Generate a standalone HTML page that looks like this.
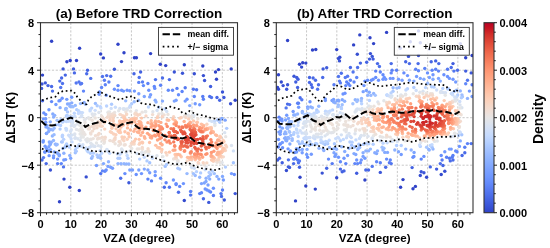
<!DOCTYPE html>
<html><head><meta charset="utf-8"><style>
html,body{margin:0;padding:0;background:#fff;width:550px;height:248px;overflow:hidden}
svg{display:block;filter:blur(0.45px)}
text{font-family:"Liberation Sans", sans-serif;font-weight:bold;fill:#000}
.tl{font-size:11px}
.al{font-size:11.6px}
.yl{font-size:12px}
.dl{font-size:13.9px}
.ti{font-size:13.5px}
.lg{font-size:8.8px}
.grid{stroke:#b0b0b0;stroke-width:0.7;stroke-dasharray:2.2,1.6;fill:none}
.spine{stroke:#333;stroke-width:1.1;fill:none}
.tick{stroke:#222;stroke-width:1.0}
.mean{stroke:#000;stroke-width:2.0;stroke-dasharray:6.8,2.9;fill:none}
.sig{stroke:#000;stroke-width:1.7;stroke-dasharray:1.7,2.7;fill:none;stroke-linecap:butt}
.lmean{stroke:#000;stroke-width:2.0;stroke-dasharray:7.4,2.9;fill:none}
.lsig{stroke:#000;stroke-width:1.7;stroke-dasharray:1.7,3.07;fill:none}
.leg{fill:#fff;fill-opacity:0.8;stroke:#333;stroke-width:0.9}
</style></head>
<body><svg width="550" height="248" viewBox="0 0 550 248">
<rect width="550" height="248" fill="#fff"/>
<line x1="70.81" y1="22.7" x2="70.81" y2="212.7" class="grid"/>
<line x1="101.12" y1="22.7" x2="101.12" y2="212.7" class="grid"/>
<line x1="131.42" y1="22.7" x2="131.42" y2="212.7" class="grid"/>
<line x1="161.73" y1="22.7" x2="161.73" y2="212.7" class="grid"/>
<line x1="192.04" y1="22.7" x2="192.04" y2="212.7" class="grid"/>
<line x1="222.35" y1="22.7" x2="222.35" y2="212.7" class="grid"/>
<line x1="40.5" y1="70.20" x2="237.5" y2="70.20" class="grid"/>
<line x1="40.5" y1="117.70" x2="237.5" y2="117.70" class="grid"/>
<line x1="40.5" y1="165.20" x2="237.5" y2="165.20" class="grid"/>
<clipPath id="c40"><rect x="40.5" y="22.7" width="197.0" height="190.0"/></clipPath><g clip-path="url(#c40)">
<circle cx="59.50" cy="201.80" r="1.7" fill="#3043c8"/>
<circle cx="51.60" cy="41.30" r="1.7" fill="#3043c8"/>
<circle cx="79.30" cy="190.51" r="1.7" fill="#3043c8"/>
<circle cx="118.00" cy="44.21" r="1.7" fill="#3043c8"/>
<circle cx="231.20" cy="68.91" r="1.7" fill="#3043c8"/>
<circle cx="69.80" cy="187.30" r="1.7" fill="#3043c8"/>
<circle cx="79.60" cy="48.20" r="1.7" fill="#3043c8"/>
<circle cx="150.60" cy="53.60" r="1.7" fill="#3043c8"/>
<circle cx="218.50" cy="69.59" r="1.7" fill="#3043c8"/>
<circle cx="124.00" cy="52.70" r="1.7" fill="#3043c8"/>
<circle cx="100.70" cy="54.00" r="1.7" fill="#3043c8"/>
<circle cx="202.80" cy="66.00" r="1.7" fill="#3043c8"/>
<circle cx="64.00" cy="179.11" r="1.7" fill="#3043c8"/>
<circle cx="215.50" cy="72.00" r="1.7" fill="#3043c8"/>
<circle cx="184.30" cy="64.70" r="1.7" fill="#3043c8"/>
<circle cx="136.40" cy="57.80" r="1.7" fill="#3043c8"/>
<circle cx="103.40" cy="57.90" r="1.7" fill="#3043c8"/>
<circle cx="134.40" cy="57.80" r="1.7" fill="#3043c8"/>
<circle cx="235.20" cy="100.20" r="1.7" fill="#3043c8"/>
<circle cx="70.20" cy="60.50" r="1.7" fill="#3043c8"/>
<circle cx="160.30" cy="64.20" r="1.7" fill="#3043c8"/>
<circle cx="66.90" cy="61.80" r="1.7" fill="#3043c8"/>
<circle cx="76.50" cy="60.50" r="1.7" fill="#3043c8"/>
<circle cx="165.70" cy="65.60" r="1.7" fill="#3043c8"/>
<circle cx="121.50" cy="61.60" r="1.7" fill="#3043c8"/>
<circle cx="216.50" cy="79.30" r="1.7" fill="#3043c8"/>
<circle cx="42.50" cy="75.10" r="1.7" fill="#3045ca"/>
<circle cx="184.30" cy="200.50" r="1.7" fill="#334ace"/>
<circle cx="203.40" cy="75.60" r="1.7" fill="#374fd1"/>
<circle cx="86.20" cy="176.90" r="1.7" fill="#374fd1"/>
<circle cx="194.30" cy="73.80" r="1.7" fill="#3850d3"/>
<circle cx="230.60" cy="103.79" r="1.7" fill="#3850d3"/>
<circle cx="50.40" cy="170.00" r="1.7" fill="#3850d3"/>
<circle cx="174.30" cy="72.00" r="1.7" fill="#3a54d6"/>
<circle cx="222.50" cy="92.00" r="1.7" fill="#3a54d6"/>
<circle cx="182.50" cy="73.30" r="1.7" fill="#3a54d6"/>
<circle cx="63.10" cy="68.91" r="1.7" fill="#3b56d7"/>
<circle cx="42.00" cy="84.00" r="1.7" fill="#3b56d7"/>
<circle cx="235.20" cy="193.60" r="1.7" fill="#3d57d9"/>
<circle cx="204.60" cy="80.50" r="1.7" fill="#3d57d9"/>
<circle cx="208.80" cy="202.40" r="1.7" fill="#3e59da"/>
<circle cx="41.60" cy="88.40" r="1.7" fill="#3e59da"/>
<circle cx="223.90" cy="97.50" r="1.7" fill="#3e59da"/>
<circle cx="114.40" cy="69.30" r="1.7" fill="#3e59da"/>
<circle cx="45.30" cy="82.89" r="1.7" fill="#3f5bdb"/>
<circle cx="224.30" cy="200.01" r="1.7" fill="#3f5bdb"/>
<circle cx="128.90" cy="182.70" r="1.7" fill="#3f5bdb"/>
<circle cx="73.50" cy="68.91" r="1.7" fill="#405cde"/>
<circle cx="210.60" cy="86.50" r="1.7" fill="#415edf"/>
<circle cx="140.60" cy="72.00" r="1.7" fill="#4361e1"/>
<circle cx="87.50" cy="70.20" r="1.7" fill="#4462e2"/>
<circle cx="48.00" cy="85.60" r="1.7" fill="#4462e2"/>
<circle cx="65.30" cy="75.10" r="1.7" fill="#4666e4"/>
<circle cx="219.70" cy="100.20" r="1.7" fill="#4666e4"/>
<circle cx="134.00" cy="73.80" r="1.7" fill="#4666e4"/>
<circle cx="74.40" cy="72.90" r="1.7" fill="#4867e6"/>
<circle cx="217.00" cy="97.50" r="1.7" fill="#4867e6"/>
<circle cx="61.60" cy="78.00" r="1.7" fill="#4867e6"/>
<circle cx="46.20" cy="163.60" r="1.7" fill="#4969e7"/>
<circle cx="51.60" cy="86.50" r="1.7" fill="#4969e7"/>
<circle cx="59.80" cy="81.10" r="1.7" fill="#4a6be8"/>
<circle cx="203.40" cy="198.70" r="1.7" fill="#4a6be8"/>
<circle cx="86.70" cy="73.80" r="1.7" fill="#4b6ce9"/>
<circle cx="162.50" cy="78.00" r="1.7" fill="#4b6ce9"/>
<circle cx="42.52" cy="100.85" r="1.7" fill="#4b6ce9"/>
<circle cx="164.30" cy="187.30" r="1.7" fill="#4b6ce9"/>
<circle cx="169.40" cy="79.60" r="1.7" fill="#4b6ce9"/>
<circle cx="178.50" cy="192.20" r="1.7" fill="#4b6ce9"/>
<circle cx="221.50" cy="196.40" r="1.7" fill="#4b6ce9"/>
<circle cx="42.00" cy="160.00" r="1.7" fill="#4d6eea"/>
<circle cx="120.70" cy="178.20" r="1.7" fill="#4d6eea"/>
<circle cx="106.70" cy="75.60" r="1.7" fill="#4d6eea"/>
<circle cx="110.70" cy="76.20" r="1.7" fill="#4e71ec"/>
<circle cx="62.50" cy="83.50" r="1.7" fill="#4e71ec"/>
<circle cx="211.50" cy="97.50" r="1.7" fill="#4f72ed"/>
<circle cx="52.50" cy="91.10" r="1.7" fill="#4f72ed"/>
<circle cx="102.50" cy="76.51" r="1.7" fill="#4f72ed"/>
<circle cx="190.60" cy="195.10" r="1.7" fill="#4f72ed"/>
<circle cx="139.20" cy="77.50" r="1.7" fill="#4f72ed"/>
<circle cx="209.70" cy="96.50" r="1.7" fill="#4f72ed"/>
<circle cx="100.70" cy="173.60" r="1.7" fill="#4f72ed"/>
<circle cx="155.50" cy="79.60" r="1.7" fill="#5074ee"/>
<circle cx="169.40" cy="187.30" r="1.7" fill="#5074ee"/>
<circle cx="63.50" cy="166.90" r="1.7" fill="#5276ef"/>
<circle cx="196.60" cy="89.81" r="1.7" fill="#5276ef"/>
<circle cx="90.70" cy="78.41" r="1.7" fill="#5276ef"/>
<circle cx="60.70" cy="87.50" r="1.7" fill="#5276ef"/>
<circle cx="193.40" cy="89.29" r="1.7" fill="#5477f0"/>
<circle cx="79.00" cy="82.00" r="1.7" fill="#5477f0"/>
<circle cx="76.20" cy="83.00" r="1.7" fill="#5477f0"/>
<circle cx="221.00" cy="193.60" r="1.7" fill="#5579f1"/>
<circle cx="185.20" cy="87.80" r="1.7" fill="#5579f1"/>
<circle cx="81.60" cy="83.50" r="1.7" fill="#577af2"/>
<circle cx="213.40" cy="195.50" r="1.7" fill="#577af2"/>
<circle cx="80.50" cy="84.00" r="1.7" fill="#577af2"/>
<circle cx="104.40" cy="80.20" r="1.7" fill="#577af2"/>
<circle cx="151.50" cy="180.90" r="1.7" fill="#577af2"/>
<circle cx="43.50" cy="157.60" r="1.7" fill="#587cf3"/>
<circle cx="202.80" cy="96.50" r="1.7" fill="#587cf3"/>
<circle cx="108.90" cy="82.00" r="1.7" fill="#5a80f5"/>
<circle cx="142.50" cy="82.00" r="1.7" fill="#5a80f5"/>
<circle cx="57.60" cy="163.60" r="1.7" fill="#5a80f5"/>
<circle cx="177.00" cy="88.40" r="1.7" fill="#5a80f5"/>
<circle cx="222.50" cy="190.00" r="1.7" fill="#5a80f5"/>
<circle cx="147.90" cy="179.11" r="1.7" fill="#5c82f6"/>
<circle cx="138.80" cy="82.40" r="1.7" fill="#5c82f6"/>
<circle cx="199.70" cy="193.60" r="1.7" fill="#5c82f6"/>
<circle cx="203.40" cy="99.31" r="1.7" fill="#5c82f6"/>
<circle cx="190.60" cy="191.50" r="1.7" fill="#5c82f6"/>
<circle cx="160.60" cy="85.30" r="1.7" fill="#5c82f6"/>
<circle cx="166.10" cy="182.70" r="1.7" fill="#5d83f8"/>
<circle cx="147.90" cy="83.50" r="1.7" fill="#5d83f8"/>
<circle cx="105.30" cy="84.70" r="1.7" fill="#5d83f8"/>
<circle cx="182.10" cy="91.50" r="1.7" fill="#5e85f9"/>
<circle cx="61.30" cy="163.60" r="1.7" fill="#5e85f9"/>
<circle cx="102.50" cy="170.90" r="1.7" fill="#5e85f9"/>
<circle cx="104.90" cy="171.30" r="1.7" fill="#6086f9"/>
<circle cx="194.30" cy="96.50" r="1.7" fill="#6086f9"/>
<circle cx="201.50" cy="192.70" r="1.7" fill="#6086f9"/>
<circle cx="179.70" cy="186.40" r="1.7" fill="#6086f9"/>
<circle cx="101.60" cy="87.50" r="1.7" fill="#6086f9"/>
<circle cx="83.50" cy="91.10" r="1.7" fill="#6086f9"/>
<circle cx="172.50" cy="90.20" r="1.7" fill="#6188fa"/>
<circle cx="154.30" cy="86.50" r="1.7" fill="#6188fa"/>
<circle cx="176.10" cy="184.50" r="1.7" fill="#6188fa"/>
<circle cx="51.57" cy="101.59" r="1.7" fill="#6188fa"/>
<circle cx="210.60" cy="192.00" r="1.7" fill="#6188fa"/>
<circle cx="118.00" cy="85.60" r="1.7" fill="#6188fa"/>
<circle cx="143.40" cy="85.60" r="1.7" fill="#628bfb"/>
<circle cx="168.30" cy="90.20" r="1.7" fill="#628bfb"/>
<circle cx="176.10" cy="183.59" r="1.7" fill="#658cfc"/>
<circle cx="43.81" cy="112.89" r="1.7" fill="#668efd"/>
<circle cx="154.80" cy="88.40" r="1.7" fill="#668efd"/>
<circle cx="209.00" cy="191.00" r="1.7" fill="#668efd"/>
<circle cx="124.90" cy="173.60" r="1.7" fill="#668efd"/>
<circle cx="160.60" cy="178.20" r="1.7" fill="#678ffd"/>
<circle cx="178.50" cy="94.70" r="1.7" fill="#678ffd"/>
<circle cx="106.20" cy="170.00" r="1.7" fill="#678ffd"/>
<circle cx="99.60" cy="91.85" r="1.7" fill="#678ffd"/>
<circle cx="136.20" cy="174.50" r="1.7" fill="#6991fe"/>
<circle cx="114.40" cy="89.29" r="1.7" fill="#6991fe"/>
<circle cx="207.00" cy="190.00" r="1.7" fill="#6a92ff"/>
<circle cx="44.67" cy="152.01" r="1.7" fill="#6a92ff"/>
<circle cx="234.30" cy="174.50" r="1.7" fill="#6a92ff"/>
<circle cx="45.12" cy="152.09" r="1.7" fill="#6a92ff"/>
<circle cx="62.16" cy="98.21" r="1.7" fill="#6a92ff"/>
<circle cx="49.14" cy="155.65" r="1.7" fill="#6c93ff"/>
<circle cx="213.40" cy="188.20" r="1.7" fill="#6c93ff"/>
<circle cx="148.80" cy="90.20" r="1.7" fill="#6c93ff"/>
<circle cx="118.00" cy="90.20" r="1.7" fill="#6c93ff"/>
<circle cx="53.54" cy="157.83" r="1.7" fill="#6d95ff"/>
<circle cx="173.40" cy="180.00" r="1.7" fill="#6d95ff"/>
<circle cx="205.20" cy="189.00" r="1.7" fill="#6d95ff"/>
<circle cx="183.40" cy="183.59" r="1.7" fill="#6d95ff"/>
<circle cx="155.20" cy="175.50" r="1.7" fill="#6d95ff"/>
<circle cx="121.60" cy="90.20" r="1.7" fill="#6d95ff"/>
<circle cx="43.44" cy="118.86" r="1.7" fill="#6d95ff"/>
<circle cx="187.00" cy="99.31" r="1.7" fill="#6d95ff"/>
<circle cx="57.60" cy="159.10" r="1.7" fill="#6e95ff"/>
<circle cx="127.10" cy="90.20" r="1.7" fill="#6e95ff"/>
<circle cx="141.50" cy="173.60" r="1.7" fill="#6e95ff"/>
<circle cx="58.97" cy="100.91" r="1.7" fill="#6e95ff"/>
<circle cx="45.74" cy="114.48" r="1.7" fill="#6e95ff"/>
<circle cx="99.14" cy="94.25" r="1.7" fill="#6e95ff"/>
<circle cx="60.07" cy="100.45" r="1.7" fill="#6e95ff"/>
<circle cx="48.97" cy="109.70" r="1.7" fill="#6f97ff"/>
<circle cx="129.80" cy="90.70" r="1.7" fill="#6f97ff"/>
<circle cx="71.72" cy="97.30" r="1.7" fill="#6f97ff"/>
<circle cx="123.50" cy="91.10" r="1.7" fill="#6f97ff"/>
<circle cx="134.40" cy="91.10" r="1.7" fill="#7098ff"/>
<circle cx="43.09" cy="142.03" r="1.7" fill="#7098ff"/>
<circle cx="199.70" cy="104.70" r="1.7" fill="#719aff"/>
<circle cx="63.80" cy="160.00" r="1.7" fill="#719aff"/>
<circle cx="43.33" cy="140.82" r="1.7" fill="#719aff"/>
<circle cx="53.61" cy="155.87" r="1.7" fill="#739bff"/>
<circle cx="66.80" cy="99.35" r="1.7" fill="#739bff"/>
<circle cx="223.40" cy="180.00" r="1.7" fill="#739bff"/>
<circle cx="96.50" cy="165.50" r="1.7" fill="#739bff"/>
<circle cx="55.92" cy="104.57" r="1.7" fill="#739bff"/>
<circle cx="45.11" cy="146.14" r="1.7" fill="#749bff"/>
<circle cx="195.20" cy="103.79" r="1.7" fill="#749bff"/>
<circle cx="45.69" cy="118.82" r="1.7" fill="#749bff"/>
<circle cx="149.70" cy="172.70" r="1.7" fill="#749bff"/>
<circle cx="47.11" cy="149.57" r="1.7" fill="#749bff"/>
<circle cx="46.20" cy="148.08" r="1.7" fill="#749bff"/>
<circle cx="185.20" cy="101.10" r="1.7" fill="#749bff"/>
<circle cx="65.60" cy="159.59" r="1.7" fill="#749bff"/>
<circle cx="48.91" cy="151.54" r="1.7" fill="#749bff"/>
<circle cx="106.24" cy="95.32" r="1.7" fill="#769dff"/>
<circle cx="150.60" cy="94.70" r="1.7" fill="#769dff"/>
<circle cx="112.50" cy="168.20" r="1.7" fill="#769dff"/>
<circle cx="231.50" cy="173.60" r="1.7" fill="#769dff"/>
<circle cx="138.80" cy="93.80" r="1.7" fill="#779eff"/>
<circle cx="208.00" cy="185.00" r="1.7" fill="#779eff"/>
<circle cx="45.68" cy="122.18" r="1.7" fill="#779eff"/>
<circle cx="176.10" cy="100.20" r="1.7" fill="#78a0ff"/>
<circle cx="110.70" cy="167.30" r="1.7" fill="#78a0ff"/>
<circle cx="129.80" cy="170.00" r="1.7" fill="#78a0ff"/>
<circle cx="132.50" cy="170.00" r="1.7" fill="#79a0ff"/>
<circle cx="155.20" cy="171.80" r="1.7" fill="#79a0ff"/>
<circle cx="108.00" cy="166.40" r="1.7" fill="#79a0ff"/>
<circle cx="201.50" cy="183.59" r="1.7" fill="#7ba2ff"/>
<circle cx="45.98" cy="126.88" r="1.7" fill="#7ba2ff"/>
<circle cx="138.80" cy="170.00" r="1.7" fill="#7ba2ff"/>
<circle cx="59.21" cy="155.78" r="1.7" fill="#7ca3ff"/>
<circle cx="50.52" cy="149.60" r="1.7" fill="#7ca3ff"/>
<circle cx="149.70" cy="96.89" r="1.7" fill="#7ca3ff"/>
<circle cx="174.30" cy="101.10" r="1.7" fill="#7ca3ff"/>
<circle cx="225.14" cy="120.17" r="1.7" fill="#7da4ff"/>
<circle cx="48.85" cy="146.78" r="1.7" fill="#7da4ff"/>
<circle cx="204.30" cy="183.00" r="1.7" fill="#7da4ff"/>
<circle cx="46.43" cy="133.58" r="1.7" fill="#7da4ff"/>
<circle cx="144.30" cy="96.50" r="1.7" fill="#7da4ff"/>
<circle cx="46.91" cy="125.35" r="1.7" fill="#7da4ff"/>
<circle cx="147.90" cy="170.00" r="1.7" fill="#7da4ff"/>
<circle cx="46.65" cy="133.21" r="1.7" fill="#7ea5ff"/>
<circle cx="218.80" cy="179.11" r="1.7" fill="#7ea5ff"/>
<circle cx="54.14" cy="151.90" r="1.7" fill="#7ea5ff"/>
<circle cx="70.70" cy="158.21" r="1.7" fill="#7ea5ff"/>
<circle cx="59.46" cy="154.88" r="1.7" fill="#7ea5ff"/>
<circle cx="144.30" cy="169.09" r="1.7" fill="#81a6ff"/>
<circle cx="221.99" cy="118.55" r="1.7" fill="#81a8ff"/>
<circle cx="58.13" cy="153.68" r="1.7" fill="#81a8ff"/>
<circle cx="222.50" cy="176.40" r="1.7" fill="#81a8ff"/>
<circle cx="206.00" cy="181.50" r="1.7" fill="#81a8ff"/>
<circle cx="56.79" cy="152.74" r="1.7" fill="#81a8ff"/>
<circle cx="103.50" cy="163.60" r="1.7" fill="#82a9ff"/>
<circle cx="52.82" cy="113.97" r="1.7" fill="#82a9ff"/>
<circle cx="48.28" cy="128.19" r="1.7" fill="#82a9ff"/>
<circle cx="49.33" cy="142.07" r="1.7" fill="#84aaff"/>
<circle cx="50.20" cy="144.50" r="1.7" fill="#84aaff"/>
<circle cx="189.70" cy="105.60" r="1.7" fill="#84aaff"/>
<circle cx="50.31" cy="143.60" r="1.7" fill="#86abff"/>
<circle cx="48.66" cy="131.38" r="1.7" fill="#86abff"/>
<circle cx="71.75" cy="102.84" r="1.7" fill="#86abff"/>
<circle cx="162.50" cy="101.10" r="1.7" fill="#86abff"/>
<circle cx="60.12" cy="107.67" r="1.7" fill="#86abff"/>
<circle cx="67.53" cy="104.06" r="1.7" fill="#86abff"/>
<circle cx="155.20" cy="100.20" r="1.7" fill="#86abff"/>
<circle cx="50.28" cy="121.87" r="1.7" fill="#88adff"/>
<circle cx="69.36" cy="104.01" r="1.7" fill="#88adff"/>
<circle cx="51.17" cy="142.25" r="1.7" fill="#89aeff"/>
<circle cx="209.70" cy="179.11" r="1.7" fill="#89afff"/>
<circle cx="69.80" cy="155.50" r="1.7" fill="#8cb0ff"/>
<circle cx="53.57" cy="117.08" r="1.7" fill="#8cb0ff"/>
<circle cx="54.66" cy="115.37" r="1.7" fill="#8cb0ff"/>
<circle cx="84.19" cy="102.37" r="1.7" fill="#8cb0ff"/>
<circle cx="220.73" cy="119.34" r="1.7" fill="#8cb0ff"/>
<circle cx="63.85" cy="153.23" r="1.7" fill="#8db1ff"/>
<circle cx="217.00" cy="176.40" r="1.7" fill="#8db1ff"/>
<circle cx="50.90" cy="129.47" r="1.7" fill="#8db1ff"/>
<circle cx="118.00" cy="163.60" r="1.7" fill="#8eb2ff"/>
<circle cx="156.10" cy="102.00" r="1.7" fill="#8eb2ff"/>
<circle cx="206.10" cy="178.20" r="1.7" fill="#8eb2ff"/>
<circle cx="121.00" cy="163.80" r="1.7" fill="#90b4ff"/>
<circle cx="108.50" cy="161.80" r="1.7" fill="#90b4ff"/>
<circle cx="80.56" cy="103.60" r="1.7" fill="#91b5ff"/>
<circle cx="138.56" cy="100.23" r="1.7" fill="#91b5ff"/>
<circle cx="124.00" cy="163.80" r="1.7" fill="#91b5ff"/>
<circle cx="126.50" cy="164.00" r="1.7" fill="#91b5ff"/>
<circle cx="52.34" cy="136.02" r="1.7" fill="#91b5ff"/>
<circle cx="53.45" cy="140.43" r="1.7" fill="#91b5ff"/>
<circle cx="128.90" cy="164.00" r="1.7" fill="#93b6ff"/>
<circle cx="199.70" cy="177.30" r="1.7" fill="#93b6ff"/>
<circle cx="70.00" cy="106.19" r="1.7" fill="#93b6ff"/>
<circle cx="55.26" cy="144.09" r="1.7" fill="#93b6ff"/>
<circle cx="91.60" cy="158.21" r="1.7" fill="#93b6ff"/>
<circle cx="56.27" cy="144.96" r="1.7" fill="#94b7ff"/>
<circle cx="55.88" cy="144.30" r="1.7" fill="#94b7ff"/>
<circle cx="52.75" cy="130.10" r="1.7" fill="#94b7ff"/>
<circle cx="66.17" cy="108.33" r="1.7" fill="#94b7ff"/>
<circle cx="75.31" cy="105.40" r="1.7" fill="#95b9ff"/>
<circle cx="65.79" cy="108.77" r="1.7" fill="#95b9ff"/>
<circle cx="71.29" cy="106.64" r="1.7" fill="#95b9ff"/>
<circle cx="208.80" cy="176.40" r="1.7" fill="#98baff"/>
<circle cx="72.09" cy="106.50" r="1.7" fill="#98baff"/>
<circle cx="85.43" cy="104.16" r="1.7" fill="#98baff"/>
<circle cx="57.15" cy="144.38" r="1.7" fill="#98baff"/>
<circle cx="187.00" cy="173.60" r="1.7" fill="#98baff"/>
<circle cx="125.68" cy="100.87" r="1.7" fill="#98baff"/>
<circle cx="195.20" cy="175.50" r="1.7" fill="#98baff"/>
<circle cx="54.06" cy="134.67" r="1.7" fill="#99bbff"/>
<circle cx="54.09" cy="128.20" r="1.7" fill="#99bbff"/>
<circle cx="65.75" cy="109.64" r="1.7" fill="#99bbff"/>
<circle cx="95.40" cy="103.41" r="1.7" fill="#99bbff"/>
<circle cx="73.08" cy="106.86" r="1.7" fill="#9bbdff"/>
<circle cx="62.94" cy="148.54" r="1.7" fill="#9dbeff"/>
<circle cx="100.70" cy="158.21" r="1.7" fill="#9dbeff"/>
<circle cx="134.27" cy="101.79" r="1.7" fill="#9dbeff"/>
<circle cx="55.55" cy="124.91" r="1.7" fill="#9ebfff"/>
<circle cx="57.09" cy="120.37" r="1.7" fill="#9ebfff"/>
<circle cx="92.50" cy="156.40" r="1.7" fill="#9ebfff"/>
<circle cx="98.00" cy="157.30" r="1.7" fill="#9fc0ff"/>
<circle cx="165.20" cy="166.40" r="1.7" fill="#9fc0ff"/>
<circle cx="75.30" cy="152.70" r="1.7" fill="#9fc0ff"/>
<circle cx="210.60" cy="174.50" r="1.7" fill="#a2c2ff"/>
<circle cx="217.73" cy="119.99" r="1.7" fill="#a2c2ff"/>
<circle cx="214.30" cy="173.60" r="1.7" fill="#a2c2ff"/>
<circle cx="193.40" cy="173.60" r="1.7" fill="#a2c2ff"/>
<circle cx="65.02" cy="147.30" r="1.7" fill="#a4c4ff"/>
<circle cx="149.70" cy="162.69" r="1.7" fill="#a4c4ff"/>
<circle cx="233.40" cy="162.69" r="1.7" fill="#a4c4ff"/>
<circle cx="67.56" cy="111.89" r="1.7" fill="#a8c6ff"/>
<circle cx="76.20" cy="151.29" r="1.7" fill="#a8c6ff"/>
<circle cx="179.70" cy="169.09" r="1.7" fill="#a9c7ff"/>
<circle cx="58.64" cy="124.73" r="1.7" fill="#a9c7ff"/>
<circle cx="61.60" cy="141.90" r="1.7" fill="#a9c7ff"/>
<circle cx="219.82" cy="122.34" r="1.7" fill="#acc8ff"/>
<circle cx="60.95" cy="119.64" r="1.7" fill="#acc8ff"/>
<circle cx="118.00" cy="158.21" r="1.7" fill="#acc8ff"/>
<circle cx="97.02" cy="155.06" r="1.7" fill="#acc8ff"/>
<circle cx="99.80" cy="155.50" r="1.7" fill="#acc8ff"/>
<circle cx="177.90" cy="168.20" r="1.7" fill="#acc8ff"/>
<circle cx="62.30" cy="141.91" r="1.7" fill="#acc8ff"/>
<circle cx="119.80" cy="158.21" r="1.7" fill="#adcaff"/>
<circle cx="131.72" cy="103.72" r="1.7" fill="#adcaff"/>
<circle cx="226.71" cy="128.35" r="1.7" fill="#adcaff"/>
<circle cx="97.16" cy="105.77" r="1.7" fill="#adcaff"/>
<circle cx="111.58" cy="104.25" r="1.7" fill="#adcaff"/>
<circle cx="65.94" cy="145.20" r="1.7" fill="#adcaff"/>
<circle cx="75.35" cy="149.92" r="1.7" fill="#adcaff"/>
<circle cx="147.00" cy="160.90" r="1.7" fill="#afccff"/>
<circle cx="90.48" cy="153.32" r="1.7" fill="#afccff"/>
<circle cx="200.64" cy="172.88" r="1.7" fill="#afccff"/>
<circle cx="69.17" cy="146.96" r="1.7" fill="#afccff"/>
<circle cx="76.74" cy="109.66" r="1.7" fill="#afccff"/>
<circle cx="166.52" cy="164.56" r="1.7" fill="#afccff"/>
<circle cx="225.49" cy="167.08" r="1.7" fill="#b2cdff"/>
<circle cx="209.13" cy="172.44" r="1.7" fill="#b2cdff"/>
<circle cx="60.08" cy="129.11" r="1.7" fill="#b3ceff"/>
<circle cx="60.59" cy="125.50" r="1.7" fill="#b3ceff"/>
<circle cx="128.00" cy="158.21" r="1.7" fill="#b3ceff"/>
<circle cx="93.38" cy="153.13" r="1.7" fill="#b3ceff"/>
<circle cx="158.81" cy="107.21" r="1.7" fill="#b3ceff"/>
<circle cx="66.59" cy="143.90" r="1.7" fill="#b5d0ff"/>
<circle cx="69.57" cy="146.03" r="1.7" fill="#b5d0ff"/>
<circle cx="66.34" cy="116.06" r="1.7" fill="#b5d0ff"/>
<circle cx="67.07" cy="115.48" r="1.7" fill="#b5d0ff"/>
<circle cx="139.70" cy="159.10" r="1.7" fill="#b5d0ff"/>
<circle cx="88.00" cy="151.80" r="1.7" fill="#b5d0ff"/>
<circle cx="196.51" cy="171.65" r="1.7" fill="#b7d1ff"/>
<circle cx="62.46" cy="122.15" r="1.7" fill="#b7d1ff"/>
<circle cx="62.31" cy="136.72" r="1.7" fill="#b7d1ff"/>
<circle cx="63.65" cy="139.37" r="1.7" fill="#b7d1ff"/>
<circle cx="67.38" cy="116.03" r="1.7" fill="#b7d1ff"/>
<circle cx="212.41" cy="171.20" r="1.7" fill="#b7d1ff"/>
<circle cx="100.28" cy="106.68" r="1.7" fill="#b9d2ff"/>
<circle cx="63.59" cy="120.97" r="1.7" fill="#b9d2ff"/>
<circle cx="62.50" cy="135.23" r="1.7" fill="#b9d2ff"/>
<circle cx="106.61" cy="106.00" r="1.7" fill="#b9d2ff"/>
<circle cx="78.49" cy="110.76" r="1.7" fill="#b9d2ff"/>
<circle cx="91.66" cy="108.10" r="1.7" fill="#bad3ff"/>
<circle cx="76.27" cy="147.72" r="1.7" fill="#bad3ff"/>
<circle cx="101.67" cy="153.21" r="1.7" fill="#bcd5ff"/>
<circle cx="87.03" cy="150.44" r="1.7" fill="#bcd5ff"/>
<circle cx="148.45" cy="106.95" r="1.7" fill="#bcd5ff"/>
<circle cx="67.50" cy="117.79" r="1.7" fill="#bfd6ff"/>
<circle cx="74.34" cy="113.25" r="1.7" fill="#bfd6ff"/>
<circle cx="69.37" cy="116.39" r="1.7" fill="#bfd6ff"/>
<circle cx="164.85" cy="108.94" r="1.7" fill="#bfd6ff"/>
<circle cx="77.44" cy="147.35" r="1.7" fill="#bfd6ff"/>
<circle cx="130.22" cy="105.68" r="1.7" fill="#c0d7ff"/>
<circle cx="109.65" cy="153.36" r="1.7" fill="#c2d9ff"/>
<circle cx="69.07" cy="117.83" r="1.7" fill="#c2d9ff"/>
<circle cx="79.21" cy="112.18" r="1.7" fill="#c2d9ff"/>
<circle cx="214.48" cy="121.24" r="1.7" fill="#c3d9fe"/>
<circle cx="66.42" cy="121.58" r="1.7" fill="#c3d9fe"/>
<circle cx="79.63" cy="112.23" r="1.7" fill="#c3d9fe"/>
<circle cx="127.10" cy="155.50" r="1.7" fill="#c3d9fe"/>
<circle cx="100.91" cy="108.00" r="1.7" fill="#c3d9fe"/>
<circle cx="90.22" cy="109.80" r="1.7" fill="#c3d9fe"/>
<circle cx="119.96" cy="154.36" r="1.7" fill="#c6dafe"/>
<circle cx="117.43" cy="153.88" r="1.7" fill="#c6dafe"/>
<circle cx="85.93" cy="148.59" r="1.7" fill="#c6dafe"/>
<circle cx="144.30" cy="157.30" r="1.7" fill="#c7dafd"/>
<circle cx="72.29" cy="116.68" r="1.7" fill="#c7dafd"/>
<circle cx="78.31" cy="145.74" r="1.7" fill="#c7dafd"/>
<circle cx="81.10" cy="112.59" r="1.7" fill="#c7dafd"/>
<circle cx="78.50" cy="113.54" r="1.7" fill="#c7dafd"/>
<circle cx="65.80" cy="128.55" r="1.7" fill="#c8dcfc"/>
<circle cx="68.24" cy="121.33" r="1.7" fill="#c8dcfc"/>
<circle cx="72.02" cy="141.88" r="1.7" fill="#c8dcfc"/>
<circle cx="86.03" cy="147.95" r="1.7" fill="#c8dcfc"/>
<circle cx="100.09" cy="150.64" r="1.7" fill="#c8dcfc"/>
<circle cx="81.42" cy="146.47" r="1.7" fill="#c8dcfc"/>
<circle cx="82.44" cy="112.58" r="1.7" fill="#c9dcfb"/>
<circle cx="66.45" cy="130.22" r="1.7" fill="#c9dcfb"/>
<circle cx="205.20" cy="169.84" r="1.7" fill="#c9dcfb"/>
<circle cx="152.50" cy="158.21" r="1.7" fill="#c9dcfb"/>
<circle cx="66.55" cy="128.95" r="1.7" fill="#c9dcfb"/>
<circle cx="90.10" cy="110.92" r="1.7" fill="#c9dcfb"/>
<circle cx="115.38" cy="107.26" r="1.7" fill="#c9dcfb"/>
<circle cx="121.08" cy="153.31" r="1.7" fill="#cbddfa"/>
<circle cx="107.86" cy="151.32" r="1.7" fill="#cbddfa"/>
<circle cx="74.82" cy="116.37" r="1.7" fill="#cbddfa"/>
<circle cx="163.82" cy="160.60" r="1.7" fill="#cbddfa"/>
<circle cx="68.67" cy="135.24" r="1.7" fill="#cdddfa"/>
<circle cx="95.19" cy="110.36" r="1.7" fill="#cdddfa"/>
<circle cx="71.09" cy="138.80" r="1.7" fill="#cdddfa"/>
<circle cx="70.33" cy="121.16" r="1.7" fill="#cdddfa"/>
<circle cx="79.17" cy="144.43" r="1.7" fill="#cdddfa"/>
<circle cx="129.42" cy="107.34" r="1.7" fill="#cdddfa"/>
<circle cx="69.84" cy="136.50" r="1.7" fill="#cedef9"/>
<circle cx="89.20" cy="147.45" r="1.7" fill="#cedef9"/>
<circle cx="72.52" cy="119.91" r="1.7" fill="#cfdef8"/>
<circle cx="111.17" cy="108.38" r="1.7" fill="#cfdef8"/>
<circle cx="194.30" cy="168.20" r="1.7" fill="#cfdef8"/>
<circle cx="233.40" cy="150.90" r="1.7" fill="#d1e0f6"/>
<circle cx="82.87" cy="144.80" r="1.7" fill="#d1e0f6"/>
<circle cx="211.82" cy="121.38" r="1.7" fill="#d2e0f5"/>
<circle cx="157.07" cy="110.46" r="1.7" fill="#d2e0f5"/>
<circle cx="191.50" cy="167.30" r="1.7" fill="#d2e0f5"/>
<circle cx="126.31" cy="152.38" r="1.7" fill="#d2e0f5"/>
<circle cx="81.61" cy="115.46" r="1.7" fill="#d3e1f4"/>
<circle cx="106.91" cy="149.33" r="1.7" fill="#d3e1f4"/>
<circle cx="71.71" cy="134.97" r="1.7" fill="#d3e1f4"/>
<circle cx="70.55" cy="131.40" r="1.7" fill="#d3e1f4"/>
<circle cx="91.09" cy="146.29" r="1.7" fill="#d3e1f4"/>
<circle cx="209.49" cy="120.42" r="1.7" fill="#d3e1f4"/>
<circle cx="166.73" cy="111.48" r="1.7" fill="#d3e1f4"/>
<circle cx="72.74" cy="122.46" r="1.7" fill="#d3e1f4"/>
<circle cx="119.79" cy="108.44" r="1.7" fill="#d4e1f3"/>
<circle cx="71.33" cy="125.64" r="1.7" fill="#d4e1f3"/>
<circle cx="152.38" cy="156.40" r="1.7" fill="#d4e1f3"/>
<circle cx="81.80" cy="115.95" r="1.7" fill="#d4e1f3"/>
<circle cx="137.00" cy="153.60" r="1.7" fill="#d4e1f3"/>
<circle cx="214.93" cy="123.58" r="1.7" fill="#d4e1f3"/>
<circle cx="75.03" cy="138.18" r="1.7" fill="#d7e1f2"/>
<circle cx="72.15" cy="124.99" r="1.7" fill="#d7e1f2"/>
<circle cx="71.30" cy="129.65" r="1.7" fill="#d7e1f2"/>
<circle cx="81.15" cy="116.63" r="1.7" fill="#d7e1f2"/>
<circle cx="142.08" cy="154.20" r="1.7" fill="#d7e1f2"/>
<circle cx="93.07" cy="146.05" r="1.7" fill="#d7e1f2"/>
<circle cx="94.74" cy="146.39" r="1.7" fill="#d7e1f2"/>
<circle cx="94.79" cy="146.24" r="1.7" fill="#d8e2f1"/>
<circle cx="123.35" cy="108.69" r="1.7" fill="#d8e2f1"/>
<circle cx="75.35" cy="137.73" r="1.7" fill="#d8e2f1"/>
<circle cx="122.32" cy="150.52" r="1.7" fill="#d9e3f0"/>
<circle cx="124.62" cy="108.96" r="1.7" fill="#d9e3f0"/>
<circle cx="100.94" cy="146.78" r="1.7" fill="#d9e3f0"/>
<circle cx="224.71" cy="132.65" r="1.7" fill="#d9e3f0"/>
<circle cx="126.93" cy="108.97" r="1.7" fill="#d9e3f0"/>
<circle cx="77.81" cy="138.80" r="1.7" fill="#d9e3f0"/>
<circle cx="74.48" cy="134.85" r="1.7" fill="#dbe3ef"/>
<circle cx="193.89" cy="115.63" r="1.7" fill="#dbe3ef"/>
<circle cx="80.37" cy="140.37" r="1.7" fill="#dbe3ef"/>
<circle cx="92.26" cy="113.96" r="1.7" fill="#dbe3ef"/>
<circle cx="231.50" cy="145.50" r="1.7" fill="#dbe3ef"/>
<circle cx="92.28" cy="144.70" r="1.7" fill="#dbe3ef"/>
<circle cx="77.39" cy="121.12" r="1.7" fill="#dbe3ef"/>
<circle cx="123.61" cy="109.21" r="1.7" fill="#dbe3ef"/>
<circle cx="193.44" cy="115.63" r="1.7" fill="#dce3ee"/>
<circle cx="98.88" cy="112.46" r="1.7" fill="#dce3ee"/>
<circle cx="74.78" cy="133.96" r="1.7" fill="#dce3ee"/>
<circle cx="148.66" cy="154.49" r="1.7" fill="#dce3ee"/>
<circle cx="74.25" cy="126.51" r="1.7" fill="#dce3ee"/>
<circle cx="98.38" cy="145.63" r="1.7" fill="#dce3ee"/>
<circle cx="74.89" cy="125.38" r="1.7" fill="#dce3ee"/>
<circle cx="121.75" cy="149.60" r="1.7" fill="#dce3ee"/>
<circle cx="130.13" cy="150.91" r="1.7" fill="#dde4ed"/>
<circle cx="177.60" cy="162.22" r="1.7" fill="#dde4ed"/>
<circle cx="90.87" cy="143.27" r="1.7" fill="#dee4ec"/>
<circle cx="192.27" cy="115.68" r="1.7" fill="#dee4ec"/>
<circle cx="121.65" cy="149.06" r="1.7" fill="#dee4ec"/>
<circle cx="94.81" cy="114.30" r="1.7" fill="#dee4ec"/>
<circle cx="77.23" cy="123.91" r="1.7" fill="#dee4ec"/>
<circle cx="87.07" cy="141.82" r="1.7" fill="#dee4ec"/>
<circle cx="156.95" cy="155.82" r="1.7" fill="#dee4ec"/>
<circle cx="222.11" cy="162.50" r="1.7" fill="#e0e4eb"/>
<circle cx="152.84" cy="111.69" r="1.7" fill="#e0e4eb"/>
<circle cx="206.03" cy="166.86" r="1.7" fill="#e0e4eb"/>
<circle cx="127.29" cy="109.90" r="1.7" fill="#e0e4eb"/>
<circle cx="141.85" cy="152.20" r="1.7" fill="#e0e4eb"/>
<circle cx="76.55" cy="129.41" r="1.7" fill="#e1e4ea"/>
<circle cx="81.00" cy="137.40" r="1.7" fill="#e1e4ea"/>
<circle cx="188.28" cy="115.23" r="1.7" fill="#e1e4ea"/>
<circle cx="93.10" cy="115.68" r="1.7" fill="#e2e4e9"/>
<circle cx="136.36" cy="110.59" r="1.7" fill="#e2e4e9"/>
<circle cx="85.82" cy="139.73" r="1.7" fill="#e2e4e9"/>
<circle cx="192.66" cy="165.46" r="1.7" fill="#e2e4e9"/>
<circle cx="88.47" cy="117.76" r="1.7" fill="#e2e4e9"/>
<circle cx="85.76" cy="119.12" r="1.7" fill="#e2e4e9"/>
<circle cx="84.38" cy="120.02" r="1.7" fill="#e2e4e9"/>
<circle cx="96.48" cy="143.03" r="1.7" fill="#e3e5e7"/>
<circle cx="109.50" cy="111.85" r="1.7" fill="#e3e5e7"/>
<circle cx="88.54" cy="140.64" r="1.7" fill="#e3e5e7"/>
<circle cx="118.68" cy="110.75" r="1.7" fill="#e3e5e7"/>
<circle cx="145.07" cy="152.21" r="1.7" fill="#e3e5e7"/>
<circle cx="145.34" cy="111.55" r="1.7" fill="#e3e5e7"/>
<circle cx="220.28" cy="162.73" r="1.7" fill="#e3e5e7"/>
<circle cx="108.10" cy="112.24" r="1.7" fill="#e3e5e7"/>
<circle cx="79.71" cy="125.36" r="1.7" fill="#e3e5e7"/>
<circle cx="80.12" cy="134.03" r="1.7" fill="#e3e5e7"/>
<circle cx="145.73" cy="111.74" r="1.7" fill="#e5e6e6"/>
<circle cx="78.91" cy="130.25" r="1.7" fill="#e5e6e6"/>
<circle cx="108.23" cy="112.39" r="1.7" fill="#e5e6e6"/>
<circle cx="162.90" cy="156.58" r="1.7" fill="#e5e6e6"/>
<circle cx="214.89" cy="125.54" r="1.7" fill="#e5e6e6"/>
<circle cx="83.28" cy="136.93" r="1.7" fill="#e5e6e6"/>
<circle cx="81.89" cy="135.56" r="1.7" fill="#e5e6e6"/>
<circle cx="87.41" cy="138.73" r="1.7" fill="#e6e5e5"/>
<circle cx="80.19" cy="129.99" r="1.7" fill="#e6e5e5"/>
<circle cx="225.69" cy="136.66" r="1.7" fill="#e6e5e5"/>
<circle cx="81.26" cy="133.11" r="1.7" fill="#e6e5e5"/>
<circle cx="89.50" cy="119.03" r="1.7" fill="#e7e5e3"/>
<circle cx="103.92" cy="143.28" r="1.7" fill="#e7e5e3"/>
<circle cx="81.36" cy="132.76" r="1.7" fill="#e7e5e3"/>
<circle cx="146.00" cy="151.67" r="1.7" fill="#e7e5e3"/>
<circle cx="161.97" cy="113.48" r="1.7" fill="#e7e5e3"/>
<circle cx="130.58" cy="111.13" r="1.7" fill="#e7e5e3"/>
<circle cx="81.19" cy="128.39" r="1.7" fill="#e7e5e3"/>
<circle cx="82.03" cy="126.07" r="1.7" fill="#e7e5e3"/>
<circle cx="185.23" cy="115.49" r="1.7" fill="#e7e5e3"/>
<circle cx="82.09" cy="132.71" r="1.7" fill="#e7e5e3"/>
<circle cx="131.72" cy="148.54" r="1.7" fill="#e7e5e3"/>
<circle cx="85.06" cy="122.57" r="1.7" fill="#e8e3e1"/>
<circle cx="90.51" cy="139.11" r="1.7" fill="#e8e3e1"/>
<circle cx="189.28" cy="116.18" r="1.7" fill="#e8e3e1"/>
<circle cx="82.96" cy="133.55" r="1.7" fill="#e8e3e1"/>
<circle cx="91.41" cy="139.34" r="1.7" fill="#e8e3e1"/>
<circle cx="177.35" cy="160.59" r="1.7" fill="#e8e3e1"/>
<circle cx="178.12" cy="160.77" r="1.7" fill="#e9e3e0"/>
<circle cx="82.49" cy="129.91" r="1.7" fill="#e9e3e0"/>
<circle cx="142.17" cy="112.17" r="1.7" fill="#e9e3e0"/>
<circle cx="118.75" cy="145.43" r="1.7" fill="#e9e3e0"/>
<circle cx="84.89" cy="134.47" r="1.7" fill="#e9e3e0"/>
<circle cx="83.79" cy="132.56" r="1.7" fill="#e9e3e0"/>
<circle cx="114.58" cy="112.46" r="1.7" fill="#e9e3e0"/>
<circle cx="219.80" cy="161.85" r="1.7" fill="#e9e3e0"/>
<circle cx="137.25" cy="148.99" r="1.7" fill="#eae2dd"/>
<circle cx="95.22" cy="118.00" r="1.7" fill="#eae2dd"/>
<circle cx="173.58" cy="159.05" r="1.7" fill="#eae2dd"/>
<circle cx="93.21" cy="138.61" r="1.7" fill="#eae2dd"/>
<circle cx="191.29" cy="116.92" r="1.7" fill="#eae2dd"/>
<circle cx="104.48" cy="141.71" r="1.7" fill="#eae2dd"/>
<circle cx="108.62" cy="113.82" r="1.7" fill="#eae2dd"/>
<circle cx="101.56" cy="115.91" r="1.7" fill="#ebe2dc"/>
<circle cx="149.15" cy="151.39" r="1.7" fill="#ebe2dc"/>
<circle cx="85.45" cy="126.24" r="1.7" fill="#ebe2dc"/>
<circle cx="125.86" cy="111.87" r="1.7" fill="#ebe2dc"/>
<circle cx="92.16" cy="120.28" r="1.7" fill="#ebe2dc"/>
<circle cx="109.07" cy="113.90" r="1.7" fill="#ebe2dc"/>
<circle cx="85.76" cy="126.17" r="1.7" fill="#ebe2dc"/>
<circle cx="168.00" cy="114.52" r="1.7" fill="#ebe2dc"/>
<circle cx="115.14" cy="143.72" r="1.7" fill="#ebe2dc"/>
<circle cx="147.83" cy="150.96" r="1.7" fill="#ebe2dc"/>
<circle cx="158.82" cy="114.01" r="1.7" fill="#ebe2dc"/>
<circle cx="139.08" cy="148.85" r="1.7" fill="#ece1da"/>
<circle cx="97.45" cy="139.04" r="1.7" fill="#ece1da"/>
<circle cx="204.07" cy="164.91" r="1.7" fill="#ece1da"/>
<circle cx="142.33" cy="149.31" r="1.7" fill="#ede1d9"/>
<circle cx="148.30" cy="150.72" r="1.7" fill="#ede1d9"/>
<circle cx="102.90" cy="140.14" r="1.7" fill="#ede1d9"/>
<circle cx="197.89" cy="118.85" r="1.7" fill="#ede1d9"/>
<circle cx="113.05" cy="113.61" r="1.7" fill="#ede1d9"/>
<circle cx="217.09" cy="162.36" r="1.7" fill="#ede1d9"/>
<circle cx="124.16" cy="145.01" r="1.7" fill="#ede1d9"/>
<circle cx="184.50" cy="116.19" r="1.7" fill="#ede1d9"/>
<circle cx="130.23" cy="146.29" r="1.7" fill="#eedfd7"/>
<circle cx="120.45" cy="143.93" r="1.7" fill="#eedfd7"/>
<circle cx="98.13" cy="137.95" r="1.7" fill="#eedfd7"/>
<circle cx="88.27" cy="128.89" r="1.7" fill="#eedfd7"/>
<circle cx="99.79" cy="138.37" r="1.7" fill="#eedfd7"/>
<circle cx="90.89" cy="133.94" r="1.7" fill="#eedfd7"/>
<circle cx="108.40" cy="115.05" r="1.7" fill="#eedfd7"/>
<circle cx="102.44" cy="117.09" r="1.7" fill="#eedfd7"/>
<circle cx="120.52" cy="143.71" r="1.7" fill="#eedfd7"/>
<circle cx="125.25" cy="144.82" r="1.7" fill="#eedfd7"/>
<circle cx="90.54" cy="132.92" r="1.7" fill="#efded5"/>
<circle cx="164.10" cy="114.90" r="1.7" fill="#efded5"/>
<circle cx="89.68" cy="126.91" r="1.7" fill="#efded5"/>
<circle cx="111.17" cy="114.55" r="1.7" fill="#efded5"/>
<circle cx="89.54" cy="128.89" r="1.7" fill="#efded5"/>
<circle cx="95.44" cy="135.75" r="1.7" fill="#efded5"/>
<circle cx="110.00" cy="140.61" r="1.7" fill="#efded5"/>
<circle cx="110.10" cy="140.62" r="1.7" fill="#efded5"/>
<circle cx="112.96" cy="141.34" r="1.7" fill="#efded5"/>
<circle cx="135.77" cy="113.02" r="1.7" fill="#efded5"/>
<circle cx="104.93" cy="139.06" r="1.7" fill="#f0ded4"/>
<circle cx="113.51" cy="141.32" r="1.7" fill="#f0ded4"/>
<circle cx="92.26" cy="126.45" r="1.7" fill="#f1ddd1"/>
<circle cx="92.68" cy="125.86" r="1.7" fill="#f1ddd1"/>
<circle cx="92.53" cy="131.08" r="1.7" fill="#f1ddd1"/>
<circle cx="135.16" cy="113.27" r="1.7" fill="#f1ddd1"/>
<circle cx="152.58" cy="114.58" r="1.7" fill="#f1ddd1"/>
<circle cx="102.37" cy="137.22" r="1.7" fill="#f1ddd1"/>
<circle cx="175.13" cy="158.22" r="1.7" fill="#f2dbd0"/>
<circle cx="112.54" cy="115.13" r="1.7" fill="#f2dbd0"/>
<circle cx="98.07" cy="134.66" r="1.7" fill="#f2dbd0"/>
<circle cx="94.48" cy="125.66" r="1.7" fill="#f2dbd0"/>
<circle cx="98.16" cy="121.81" r="1.7" fill="#f2dbd0"/>
<circle cx="119.00" cy="141.69" r="1.7" fill="#f2dbd0"/>
<circle cx="94.13" cy="128.67" r="1.7" fill="#f2dbd0"/>
<circle cx="105.20" cy="137.16" r="1.7" fill="#f3dbce"/>
<circle cx="119.88" cy="141.66" r="1.7" fill="#f3dbce"/>
<circle cx="198.61" cy="163.62" r="1.7" fill="#f3dbce"/>
<circle cx="142.29" cy="147.40" r="1.7" fill="#f3dbce"/>
<circle cx="107.34" cy="117.21" r="1.7" fill="#f3dbce"/>
<circle cx="166.87" cy="155.01" r="1.7" fill="#f3dbce"/>
<circle cx="103.72" cy="118.93" r="1.7" fill="#f3dbce"/>
<circle cx="96.85" cy="124.81" r="1.7" fill="#f3dbce"/>
<circle cx="99.02" cy="133.45" r="1.7" fill="#f3dbce"/>
<circle cx="136.70" cy="113.90" r="1.7" fill="#f3dacc"/>
<circle cx="114.19" cy="139.45" r="1.7" fill="#f3dacc"/>
<circle cx="120.25" cy="114.35" r="1.7" fill="#f3dacc"/>
<circle cx="223.38" cy="156.84" r="1.7" fill="#f3dacc"/>
<circle cx="148.07" cy="148.63" r="1.7" fill="#f3dacc"/>
<circle cx="176.31" cy="158.15" r="1.7" fill="#f3dacc"/>
<circle cx="114.94" cy="139.48" r="1.7" fill="#f3dacc"/>
<circle cx="97.02" cy="127.75" r="1.7" fill="#f3dacc"/>
<circle cx="114.81" cy="115.46" r="1.7" fill="#f4d9ca"/>
<circle cx="120.17" cy="114.58" r="1.7" fill="#f4d9ca"/>
<circle cx="110.50" cy="116.75" r="1.7" fill="#f4d9ca"/>
<circle cx="126.70" cy="114.08" r="1.7" fill="#f4d9ca"/>
<circle cx="100.39" cy="122.75" r="1.7" fill="#f4d9ca"/>
<circle cx="139.72" cy="114.40" r="1.7" fill="#f4d9ca"/>
<circle cx="185.82" cy="117.47" r="1.7" fill="#f4d9ca"/>
<circle cx="132.42" cy="144.06" r="1.7" fill="#f4d9ca"/>
<circle cx="112.35" cy="116.48" r="1.7" fill="#f5d9c9"/>
<circle cx="99.67" cy="125.69" r="1.7" fill="#f5d9c9"/>
<circle cx="135.19" cy="114.37" r="1.7" fill="#f5d9c9"/>
<circle cx="226.63" cy="147.07" r="1.7" fill="#f5d9c9"/>
<circle cx="187.16" cy="161.07" r="1.7" fill="#f5d9c9"/>
<circle cx="131.37" cy="143.39" r="1.7" fill="#f5d9c9"/>
<circle cx="126.39" cy="114.47" r="1.7" fill="#f6d8c6"/>
<circle cx="134.17" cy="143.96" r="1.7" fill="#f6d8c6"/>
<circle cx="100.91" cy="125.83" r="1.7" fill="#f6d8c6"/>
<circle cx="218.66" cy="159.55" r="1.7" fill="#f6d8c6"/>
<circle cx="206.80" cy="162.90" r="1.7" fill="#f6d8c6"/>
<circle cx="123.88" cy="140.76" r="1.7" fill="#f6d6c5"/>
<circle cx="115.14" cy="137.74" r="1.7" fill="#f6d6c5"/>
<circle cx="173.61" cy="116.73" r="1.7" fill="#f6d6c5"/>
<circle cx="157.88" cy="116.08" r="1.7" fill="#f6d6c5"/>
<circle cx="102.18" cy="126.15" r="1.7" fill="#f6d6c5"/>
<circle cx="105.47" cy="121.23" r="1.7" fill="#f6d6c5"/>
<circle cx="104.30" cy="122.88" r="1.7" fill="#f8d5c3"/>
<circle cx="203.23" cy="162.82" r="1.7" fill="#f8d5c3"/>
<circle cx="132.44" cy="142.72" r="1.7" fill="#f8d5c3"/>
<circle cx="225.73" cy="145.29" r="1.7" fill="#f8d5c3"/>
<circle cx="221.70" cy="156.97" r="1.7" fill="#f8d5c3"/>
<circle cx="217.12" cy="159.89" r="1.7" fill="#f8d5c3"/>
<circle cx="181.29" cy="117.50" r="1.7" fill="#f8d5c3"/>
<circle cx="213.36" cy="161.32" r="1.7" fill="#f8d5c3"/>
<circle cx="161.49" cy="151.67" r="1.7" fill="#f9d4c2"/>
<circle cx="104.73" cy="129.09" r="1.7" fill="#f9d4c2"/>
<circle cx="122.59" cy="139.24" r="1.7" fill="#f9d4c2"/>
<circle cx="139.19" cy="144.37" r="1.7" fill="#f9d4c2"/>
<circle cx="137.75" cy="115.31" r="1.7" fill="#f9d4c2"/>
<circle cx="110.00" cy="119.41" r="1.7" fill="#f9d4c2"/>
<circle cx="122.66" cy="115.74" r="1.7" fill="#f9d4c2"/>
<circle cx="162.31" cy="116.71" r="1.7" fill="#f9d4c2"/>
<circle cx="198.24" cy="162.40" r="1.7" fill="#f9d4c2"/>
<circle cx="146.01" cy="115.88" r="1.7" fill="#f9d4c2"/>
<circle cx="206.87" cy="124.30" r="1.7" fill="#f9d3bf"/>
<circle cx="225.36" cy="150.49" r="1.7" fill="#f9d3bf"/>
<circle cx="113.01" cy="118.39" r="1.7" fill="#f9d3bf"/>
<circle cx="221.33" cy="156.70" r="1.7" fill="#f9d3bf"/>
<circle cx="214.17" cy="160.59" r="1.7" fill="#fad2bd"/>
<circle cx="113.61" cy="133.98" r="1.7" fill="#fad2bd"/>
<circle cx="110.30" cy="131.78" r="1.7" fill="#fad2bd"/>
<circle cx="223.89" cy="141.41" r="1.7" fill="#fad2bd"/>
<circle cx="111.60" cy="132.54" r="1.7" fill="#fad2bd"/>
<circle cx="110.15" cy="120.87" r="1.7" fill="#fad2bd"/>
<circle cx="115.84" cy="134.73" r="1.7" fill="#fbd1bc"/>
<circle cx="188.69" cy="118.92" r="1.7" fill="#fbd1bc"/>
<circle cx="133.99" cy="141.59" r="1.7" fill="#fbd1bc"/>
<circle cx="223.10" cy="140.18" r="1.7" fill="#fbd1bc"/>
<circle cx="165.94" cy="152.58" r="1.7" fill="#fbd1bc"/>
<circle cx="127.21" cy="139.21" r="1.7" fill="#fbd1bc"/>
<circle cx="122.00" cy="136.96" r="1.7" fill="#fbd0b9"/>
<circle cx="176.01" cy="156.31" r="1.7" fill="#fbd0b9"/>
<circle cx="134.24" cy="141.30" r="1.7" fill="#fbd0b9"/>
<circle cx="223.66" cy="141.87" r="1.7" fill="#fbd0b9"/>
<circle cx="124.45" cy="116.73" r="1.7" fill="#fbd0b9"/>
<circle cx="139.86" cy="143.03" r="1.7" fill="#fbd0b9"/>
<circle cx="179.95" cy="118.15" r="1.7" fill="#fccfb8"/>
<circle cx="124.26" cy="137.23" r="1.7" fill="#fccfb8"/>
<circle cx="211.14" cy="127.54" r="1.7" fill="#fccfb8"/>
<circle cx="113.35" cy="121.00" r="1.7" fill="#fccfb8"/>
<circle cx="111.87" cy="128.24" r="1.7" fill="#fcceb6"/>
<circle cx="224.43" cy="149.09" r="1.7" fill="#fcceb6"/>
<circle cx="220.09" cy="136.28" r="1.7" fill="#fcceb6"/>
<circle cx="111.57" cy="125.45" r="1.7" fill="#fcceb6"/>
<circle cx="157.28" cy="117.66" r="1.7" fill="#fcceb6"/>
<circle cx="211.28" cy="127.90" r="1.7" fill="#fccdb5"/>
<circle cx="123.72" cy="117.71" r="1.7" fill="#fccdb5"/>
<circle cx="112.45" cy="126.34" r="1.7" fill="#fccdb5"/>
<circle cx="220.60" cy="137.38" r="1.7" fill="#fccdb5"/>
<circle cx="142.61" cy="142.85" r="1.7" fill="#fccdb5"/>
<circle cx="142.46" cy="142.79" r="1.7" fill="#fccdb5"/>
<circle cx="113.33" cy="124.08" r="1.7" fill="#fdccb2"/>
<circle cx="218.96" cy="156.79" r="1.7" fill="#fdccb2"/>
<circle cx="119.43" cy="132.54" r="1.7" fill="#fdccb2"/>
<circle cx="114.25" cy="124.34" r="1.7" fill="#fdcab1"/>
<circle cx="142.06" cy="142.16" r="1.7" fill="#fdcab1"/>
<circle cx="211.93" cy="159.93" r="1.7" fill="#fdcab1"/>
<circle cx="118.27" cy="131.27" r="1.7" fill="#fdcab1"/>
<circle cx="223.18" cy="151.09" r="1.7" fill="#fdcab1"/>
<circle cx="116.15" cy="128.86" r="1.7" fill="#fdcab1"/>
<circle cx="220.03" cy="137.13" r="1.7" fill="#fdcab1"/>
<circle cx="189.76" cy="159.55" r="1.7" fill="#fdcab1"/>
<circle cx="120.49" cy="132.45" r="1.7" fill="#fdcab1"/>
<circle cx="129.17" cy="136.81" r="1.7" fill="#fec9af"/>
<circle cx="161.90" cy="149.49" r="1.7" fill="#fec9af"/>
<circle cx="211.53" cy="159.86" r="1.7" fill="#fec9af"/>
<circle cx="220.18" cy="155.30" r="1.7" fill="#fec9af"/>
<circle cx="115.80" cy="125.22" r="1.7" fill="#fec9af"/>
<circle cx="135.58" cy="139.09" r="1.7" fill="#fec9af"/>
<circle cx="157.61" cy="147.47" r="1.7" fill="#fec8ad"/>
<circle cx="134.52" cy="117.98" r="1.7" fill="#fec8ad"/>
<circle cx="223.33" cy="148.81" r="1.7" fill="#fec8ad"/>
<circle cx="119.71" cy="121.04" r="1.7" fill="#fec8ad"/>
<circle cx="141.51" cy="118.09" r="1.7" fill="#fec8ad"/>
<circle cx="193.54" cy="121.05" r="1.7" fill="#fec8ad"/>
<circle cx="124.89" cy="119.18" r="1.7" fill="#fec8ad"/>
<circle cx="181.23" cy="156.78" r="1.7" fill="#fec8ad"/>
<circle cx="159.35" cy="148.04" r="1.7" fill="#fec8ad"/>
<circle cx="223.24" cy="148.08" r="1.7" fill="#ffc7ab"/>
<circle cx="119.83" cy="129.97" r="1.7" fill="#ffc7ab"/>
<circle cx="222.21" cy="142.14" r="1.7" fill="#ffc7ab"/>
<circle cx="119.74" cy="121.59" r="1.7" fill="#ffc7ab"/>
<circle cx="169.46" cy="152.14" r="1.7" fill="#ffc7ab"/>
<circle cx="175.11" cy="154.39" r="1.7" fill="#ffc7ab"/>
<circle cx="197.29" cy="122.20" r="1.7" fill="#ffc7ab"/>
<circle cx="222.85" cy="149.61" r="1.7" fill="#ffc7ab"/>
<circle cx="118.50" cy="125.03" r="1.7" fill="#ffc4a9"/>
<circle cx="159.53" cy="147.77" r="1.7" fill="#ffc4a9"/>
<circle cx="172.96" cy="119.02" r="1.7" fill="#ffc4a9"/>
<circle cx="221.64" cy="152.28" r="1.7" fill="#ffc4a9"/>
<circle cx="139.15" cy="139.37" r="1.7" fill="#ffc4a9"/>
<circle cx="211.19" cy="129.02" r="1.7" fill="#ffc4a9"/>
<circle cx="131.47" cy="118.91" r="1.7" fill="#ffc4a9"/>
<circle cx="221.87" cy="151.66" r="1.7" fill="#ffc4a9"/>
<circle cx="136.21" cy="118.76" r="1.7" fill="#ffc4a9"/>
<circle cx="121.74" cy="121.78" r="1.7" fill="#ffc3a8"/>
<circle cx="195.27" cy="159.81" r="1.7" fill="#ffc3a8"/>
<circle cx="209.33" cy="127.89" r="1.7" fill="#ffc3a8"/>
<circle cx="120.28" cy="123.91" r="1.7" fill="#ffc3a8"/>
<circle cx="191.77" cy="159.18" r="1.7" fill="#ffc3a8"/>
<circle cx="214.06" cy="158.16" r="1.7" fill="#ffc3a8"/>
<circle cx="124.91" cy="131.70" r="1.7" fill="#ffc3a8"/>
<circle cx="126.76" cy="120.12" r="1.7" fill="#ffc3a8"/>
<circle cx="128.36" cy="133.75" r="1.7" fill="#ffc3a8"/>
<circle cx="123.26" cy="121.49" r="1.7" fill="#ffc3a8"/>
<circle cx="196.84" cy="122.38" r="1.7" fill="#ffc3a8"/>
<circle cx="121.04" cy="127.00" r="1.7" fill="#ffc2a6"/>
<circle cx="127.99" cy="133.23" r="1.7" fill="#ffc2a6"/>
<circle cx="122.66" cy="122.35" r="1.7" fill="#ffc2a6"/>
<circle cx="221.70" cy="142.74" r="1.7" fill="#ffc2a6"/>
<circle cx="124.37" cy="121.44" r="1.7" fill="#ffc2a6"/>
<circle cx="176.71" cy="154.41" r="1.7" fill="#ffc2a6"/>
<circle cx="133.34" cy="119.61" r="1.7" fill="#ffc0a4"/>
<circle cx="155.76" cy="145.33" r="1.7" fill="#ffc0a4"/>
<circle cx="201.30" cy="124.09" r="1.7" fill="#ffc0a4"/>
<circle cx="214.00" cy="157.83" r="1.7" fill="#ffc0a4"/>
<circle cx="133.94" cy="119.77" r="1.7" fill="#ffc0a4"/>
<circle cx="129.96" cy="120.32" r="1.7" fill="#ffc0a4"/>
<circle cx="220.32" cy="152.93" r="1.7" fill="#ffc0a4"/>
<circle cx="149.60" cy="142.44" r="1.7" fill="#ffc0a4"/>
<circle cx="123.39" cy="125.01" r="1.7" fill="#ffbfa2"/>
<circle cx="202.36" cy="124.87" r="1.7" fill="#ffbe9f"/>
<circle cx="213.21" cy="131.63" r="1.7" fill="#ffbe9f"/>
<circle cx="167.15" cy="119.93" r="1.7" fill="#ffbe9f"/>
<circle cx="220.42" cy="151.84" r="1.7" fill="#ffbe9f"/>
<circle cx="203.68" cy="125.54" r="1.7" fill="#ffbe9f"/>
<circle cx="178.22" cy="154.33" r="1.7" fill="#ffbc9d"/>
<circle cx="179.92" cy="154.96" r="1.7" fill="#ffbc9d"/>
<circle cx="218.42" cy="154.25" r="1.7" fill="#ffbc9d"/>
<circle cx="188.32" cy="157.58" r="1.7" fill="#ffbc9d"/>
<circle cx="187.53" cy="157.36" r="1.7" fill="#ffbc9d"/>
<circle cx="129.26" cy="122.00" r="1.7" fill="#ffbc9d"/>
<circle cx="216.67" cy="135.52" r="1.7" fill="#ffbc9d"/>
<circle cx="199.65" cy="159.26" r="1.7" fill="#ffba9b"/>
<circle cx="127.51" cy="127.88" r="1.7" fill="#ffba9b"/>
<circle cx="127.66" cy="124.33" r="1.7" fill="#ffba9b"/>
<circle cx="168.69" cy="120.30" r="1.7" fill="#ffb99a"/>
<circle cx="130.43" cy="130.06" r="1.7" fill="#ffb99a"/>
<circle cx="151.18" cy="120.76" r="1.7" fill="#ffb99a"/>
<circle cx="134.81" cy="121.78" r="1.7" fill="#ffb99a"/>
<circle cx="218.76" cy="153.02" r="1.7" fill="#ffb99a"/>
<circle cx="138.98" cy="121.37" r="1.7" fill="#ffb99a"/>
<circle cx="131.66" cy="122.95" r="1.7" fill="#ffb99a"/>
<circle cx="215.57" cy="134.85" r="1.7" fill="#ffb99a"/>
<circle cx="219.42" cy="140.69" r="1.7" fill="#ffb798"/>
<circle cx="144.91" cy="138.26" r="1.7" fill="#ffb798"/>
<circle cx="213.24" cy="132.47" r="1.7" fill="#ffb798"/>
<circle cx="155.51" cy="120.94" r="1.7" fill="#ffb798"/>
<circle cx="175.05" cy="120.60" r="1.7" fill="#ffb798"/>
<circle cx="216.91" cy="154.48" r="1.7" fill="#ffb798"/>
<circle cx="133.94" cy="131.37" r="1.7" fill="#ffb697"/>
<circle cx="218.43" cy="152.94" r="1.7" fill="#ffb697"/>
<circle cx="220.61" cy="146.12" r="1.7" fill="#ffb697"/>
<circle cx="212.84" cy="156.74" r="1.7" fill="#ffb697"/>
<circle cx="140.37" cy="121.89" r="1.7" fill="#ffb697"/>
<circle cx="140.91" cy="135.30" r="1.7" fill="#ffb697"/>
<circle cx="196.21" cy="158.30" r="1.7" fill="#ffb697"/>
<circle cx="211.60" cy="131.50" r="1.7" fill="#ffb494"/>
<circle cx="190.20" cy="122.19" r="1.7" fill="#ffb494"/>
<circle cx="144.39" cy="136.74" r="1.7" fill="#ffb494"/>
<circle cx="203.50" cy="126.43" r="1.7" fill="#ffb494"/>
<circle cx="206.76" cy="128.22" r="1.7" fill="#ffb392"/>
<circle cx="158.55" cy="121.48" r="1.7" fill="#ffb392"/>
<circle cx="137.42" cy="132.04" r="1.7" fill="#ffb392"/>
<circle cx="184.14" cy="121.45" r="1.7" fill="#ffb392"/>
<circle cx="194.86" cy="157.86" r="1.7" fill="#ffb392"/>
<circle cx="218.00" cy="152.51" r="1.7" fill="#ffb392"/>
<circle cx="218.12" cy="152.24" r="1.7" fill="#ffb392"/>
<circle cx="134.88" cy="129.09" r="1.7" fill="#ffb392"/>
<circle cx="141.03" cy="122.92" r="1.7" fill="#ffb392"/>
<circle cx="138.88" cy="132.65" r="1.7" fill="#ffb392"/>
<circle cx="190.88" cy="156.99" r="1.7" fill="#ffb291"/>
<circle cx="136.64" cy="124.43" r="1.7" fill="#ffb291"/>
<circle cx="218.02" cy="139.93" r="1.7" fill="#ffb291"/>
<circle cx="211.24" cy="156.58" r="1.7" fill="#ffb08f"/>
<circle cx="139.34" cy="124.04" r="1.7" fill="#ffb08f"/>
<circle cx="147.92" cy="122.65" r="1.7" fill="#ffb08f"/>
<circle cx="155.08" cy="122.19" r="1.7" fill="#ffb08f"/>
<circle cx="136.90" cy="127.91" r="1.7" fill="#ffb08f"/>
<circle cx="207.43" cy="129.23" r="1.7" fill="#ffae8d"/>
<circle cx="173.17" cy="150.32" r="1.7" fill="#ffae8d"/>
<circle cx="217.72" cy="140.25" r="1.7" fill="#ffae8d"/>
<circle cx="162.14" cy="144.76" r="1.7" fill="#ffae8d"/>
<circle cx="190.12" cy="122.79" r="1.7" fill="#ffae8d"/>
<circle cx="139.74" cy="129.93" r="1.7" fill="#ffad8b"/>
<circle cx="160.79" cy="122.38" r="1.7" fill="#ffad8b"/>
<circle cx="142.59" cy="132.50" r="1.7" fill="#ffad8b"/>
<circle cx="219.00" cy="146.07" r="1.7" fill="#ffad8b"/>
<circle cx="139.99" cy="126.59" r="1.7" fill="#ffad8b"/>
<circle cx="160.62" cy="143.54" r="1.7" fill="#ffad8b"/>
<circle cx="141.75" cy="125.68" r="1.7" fill="#ffab8a"/>
<circle cx="195.69" cy="157.10" r="1.7" fill="#ffab8a"/>
<circle cx="150.45" cy="137.48" r="1.7" fill="#ffab8a"/>
<circle cx="141.29" cy="126.24" r="1.7" fill="#ffab8a"/>
<circle cx="151.64" cy="137.95" r="1.7" fill="#ffaa88"/>
<circle cx="151.77" cy="123.72" r="1.7" fill="#ffaa88"/>
<circle cx="141.59" cy="128.04" r="1.7" fill="#ffaa88"/>
<circle cx="151.00" cy="123.95" r="1.7" fill="#ffaa88"/>
<circle cx="193.94" cy="156.61" r="1.7" fill="#ffaa88"/>
<circle cx="199.08" cy="157.20" r="1.7" fill="#ffaa88"/>
<circle cx="202.49" cy="157.21" r="1.7" fill="#ffaa88"/>
<circle cx="211.22" cy="155.50" r="1.7" fill="#ffaa88"/>
<circle cx="176.32" cy="122.28" r="1.7" fill="#ffa885"/>
<circle cx="143.62" cy="128.97" r="1.7" fill="#ffa684"/>
<circle cx="202.57" cy="156.85" r="1.7" fill="#ffa684"/>
<circle cx="149.23" cy="134.85" r="1.7" fill="#ffa684"/>
<circle cx="174.96" cy="149.94" r="1.7" fill="#ffa684"/>
<circle cx="147.50" cy="133.35" r="1.7" fill="#ffa684"/>
<circle cx="145.93" cy="127.10" r="1.7" fill="#ffa582"/>
<circle cx="210.75" cy="133.01" r="1.7" fill="#ffa582"/>
<circle cx="157.49" cy="140.07" r="1.7" fill="#ffa582"/>
<circle cx="152.03" cy="136.21" r="1.7" fill="#ffa381"/>
<circle cx="155.97" cy="124.53" r="1.7" fill="#ffa381"/>
<circle cx="217.40" cy="144.20" r="1.7" fill="#ffa381"/>
<circle cx="196.49" cy="125.39" r="1.7" fill="#ffa381"/>
<circle cx="217.08" cy="148.48" r="1.7" fill="#ffa381"/>
<circle cx="152.85" cy="125.58" r="1.7" fill="#ffa37f"/>
<circle cx="205.54" cy="129.75" r="1.7" fill="#ffa07e"/>
<circle cx="151.06" cy="126.96" r="1.7" fill="#ffa07e"/>
<circle cx="205.09" cy="129.56" r="1.7" fill="#ffa07e"/>
<circle cx="196.90" cy="125.87" r="1.7" fill="#ffa07e"/>
<circle cx="176.11" cy="123.29" r="1.7" fill="#ff9f7c"/>
<circle cx="193.56" cy="125.07" r="1.7" fill="#ff9f7c"/>
<circle cx="196.85" cy="155.68" r="1.7" fill="#ff9f7c"/>
<circle cx="166.18" cy="124.10" r="1.7" fill="#ff9f7c"/>
<circle cx="155.34" cy="126.18" r="1.7" fill="#ff9e7a"/>
<circle cx="215.97" cy="142.91" r="1.7" fill="#ff9e7a"/>
<circle cx="155.49" cy="136.06" r="1.7" fill="#ff9c79"/>
<circle cx="158.88" cy="125.68" r="1.7" fill="#ff9c79"/>
<circle cx="154.66" cy="135.20" r="1.7" fill="#ff9c79"/>
<circle cx="188.40" cy="124.30" r="1.7" fill="#ff9c79"/>
<circle cx="201.68" cy="128.23" r="1.7" fill="#ff9c79"/>
<circle cx="213.88" cy="151.32" r="1.7" fill="#ff9c79"/>
<circle cx="174.05" cy="123.92" r="1.7" fill="#ff9a77"/>
<circle cx="215.80" cy="146.92" r="1.7" fill="#ff9a77"/>
<circle cx="199.71" cy="127.57" r="1.7" fill="#ff9a77"/>
<circle cx="159.75" cy="138.72" r="1.7" fill="#ff9a77"/>
<circle cx="153.28" cy="130.43" r="1.7" fill="#ff9a77"/>
<circle cx="153.88" cy="129.10" r="1.7" fill="#ff9a77"/>
<circle cx="215.72" cy="146.10" r="1.7" fill="#ff9976"/>
<circle cx="153.89" cy="130.18" r="1.7" fill="#ff9976"/>
<circle cx="153.99" cy="130.03" r="1.7" fill="#ff9976"/>
<circle cx="154.22" cy="130.48" r="1.7" fill="#ff9976"/>
<circle cx="211.43" cy="152.43" r="1.7" fill="#ff9976"/>
<circle cx="205.71" cy="154.33" r="1.7" fill="#fe9572"/>
<circle cx="160.24" cy="126.99" r="1.7" fill="#fe9572"/>
<circle cx="195.04" cy="154.29" r="1.7" fill="#fe9572"/>
<circle cx="206.95" cy="153.78" r="1.7" fill="#fd9370"/>
<circle cx="158.81" cy="135.49" r="1.7" fill="#fd9370"/>
<circle cx="161.39" cy="127.31" r="1.7" fill="#fd9370"/>
<circle cx="201.25" cy="154.43" r="1.7" fill="#fd916f"/>
<circle cx="184.41" cy="151.25" r="1.7" fill="#fd916f"/>
<circle cx="194.63" cy="153.99" r="1.7" fill="#fd916f"/>
<circle cx="166.93" cy="142.07" r="1.7" fill="#fd916f"/>
<circle cx="161.39" cy="137.80" r="1.7" fill="#fd916f"/>
<circle cx="157.92" cy="133.51" r="1.7" fill="#fd916f"/>
<circle cx="200.13" cy="154.24" r="1.7" fill="#fd906d"/>
<circle cx="190.35" cy="152.91" r="1.7" fill="#fd906d"/>
<circle cx="190.59" cy="152.96" r="1.7" fill="#fd906d"/>
<circle cx="158.81" cy="132.99" r="1.7" fill="#fd906d"/>
<circle cx="180.74" cy="149.35" r="1.7" fill="#fd906d"/>
<circle cx="159.34" cy="129.93" r="1.7" fill="#fd906d"/>
<circle cx="174.69" cy="146.28" r="1.7" fill="#fc8e6c"/>
<circle cx="164.96" cy="139.85" r="1.7" fill="#fc8e6c"/>
<circle cx="167.27" cy="126.45" r="1.7" fill="#fc8e6c"/>
<circle cx="190.45" cy="126.00" r="1.7" fill="#fc8e6c"/>
<circle cx="160.58" cy="129.15" r="1.7" fill="#fc8e6c"/>
<circle cx="187.78" cy="125.64" r="1.7" fill="#fc8e6c"/>
<circle cx="184.67" cy="150.74" r="1.7" fill="#fc8e6c"/>
<circle cx="197.80" cy="153.75" r="1.7" fill="#fc8c69"/>
<circle cx="176.15" cy="125.43" r="1.7" fill="#fc8c69"/>
<circle cx="185.39" cy="125.50" r="1.7" fill="#fc8c69"/>
<circle cx="170.25" cy="143.16" r="1.7" fill="#fc8c69"/>
<circle cx="162.53" cy="128.76" r="1.7" fill="#fc8c69"/>
<circle cx="180.14" cy="148.59" r="1.7" fill="#fc8c69"/>
<circle cx="160.36" cy="132.90" r="1.7" fill="#fb8b68"/>
<circle cx="174.64" cy="145.69" r="1.7" fill="#fb8b68"/>
<circle cx="212.90" cy="145.80" r="1.7" fill="#fb8866"/>
<circle cx="190.32" cy="126.63" r="1.7" fill="#fb8866"/>
<circle cx="168.99" cy="141.06" r="1.7" fill="#fa8665"/>
<circle cx="210.85" cy="139.59" r="1.7" fill="#fa8563"/>
<circle cx="193.77" cy="127.72" r="1.7" fill="#fa8563"/>
<circle cx="203.08" cy="131.72" r="1.7" fill="#fa8563"/>
<circle cx="191.22" cy="151.72" r="1.7" fill="#fa8563"/>
<circle cx="189.92" cy="126.95" r="1.7" fill="#fa8563"/>
<circle cx="211.67" cy="142.04" r="1.7" fill="#f98362"/>
<circle cx="164.95" cy="135.50" r="1.7" fill="#f8815f"/>
<circle cx="180.34" cy="147.30" r="1.7" fill="#f8815f"/>
<circle cx="211.64" cy="145.29" r="1.7" fill="#f8815f"/>
<circle cx="207.43" cy="135.87" r="1.7" fill="#f8815f"/>
<circle cx="186.86" cy="126.88" r="1.7" fill="#f8815f"/>
<circle cx="198.98" cy="130.05" r="1.7" fill="#f8815f"/>
<circle cx="201.10" cy="131.18" r="1.7" fill="#f87e5e"/>
<circle cx="179.00" cy="126.96" r="1.7" fill="#f87e5e"/>
<circle cx="185.99" cy="127.05" r="1.7" fill="#f67d5c"/>
<circle cx="182.01" cy="126.95" r="1.7" fill="#f67d5c"/>
<circle cx="171.04" cy="128.60" r="1.7" fill="#f67d5c"/>
<circle cx="210.88" cy="144.94" r="1.7" fill="#f67d5c"/>
<circle cx="201.50" cy="131.88" r="1.7" fill="#f57b5b"/>
<circle cx="200.25" cy="131.36" r="1.7" fill="#f57b5b"/>
<circle cx="209.93" cy="146.37" r="1.7" fill="#f57959"/>
<circle cx="182.67" cy="127.45" r="1.7" fill="#f57959"/>
<circle cx="194.77" cy="129.23" r="1.7" fill="#f57959"/>
<circle cx="180.73" cy="146.29" r="1.7" fill="#f57959"/>
<circle cx="173.73" cy="141.89" r="1.7" fill="#f57959"/>
<circle cx="173.60" cy="128.77" r="1.7" fill="#f47758"/>
<circle cx="197.25" cy="151.16" r="1.7" fill="#f47758"/>
<circle cx="208.77" cy="147.39" r="1.7" fill="#f47758"/>
<circle cx="209.29" cy="146.32" r="1.7" fill="#f47758"/>
<circle cx="168.79" cy="136.19" r="1.7" fill="#f47758"/>
<circle cx="206.14" cy="136.47" r="1.7" fill="#f37455"/>
<circle cx="209.48" cy="143.93" r="1.7" fill="#f37455"/>
<circle cx="169.20" cy="132.52" r="1.7" fill="#f37455"/>
<circle cx="169.51" cy="136.06" r="1.7" fill="#f27354"/>
<circle cx="206.23" cy="148.92" r="1.7" fill="#f27354"/>
<circle cx="169.28" cy="132.77" r="1.7" fill="#f27354"/>
<circle cx="201.32" cy="150.11" r="1.7" fill="#f27152"/>
<circle cx="181.32" cy="145.40" r="1.7" fill="#f27152"/>
<circle cx="183.10" cy="146.18" r="1.7" fill="#f16f51"/>
<circle cx="173.53" cy="130.50" r="1.7" fill="#f16f51"/>
<circle cx="205.99" cy="137.96" r="1.7" fill="#f06d50"/>
<circle cx="171.38" cy="135.90" r="1.7" fill="#f06d50"/>
<circle cx="190.08" cy="129.38" r="1.7" fill="#f06d50"/>
<circle cx="205.73" cy="147.13" r="1.7" fill="#ef6a4e"/>
<circle cx="174.19" cy="131.62" r="1.7" fill="#ee684d"/>
<circle cx="192.49" cy="130.31" r="1.7" fill="#ee684d"/>
<circle cx="195.70" cy="149.04" r="1.7" fill="#ee684d"/>
<circle cx="186.73" cy="146.72" r="1.7" fill="#ee684d"/>
<circle cx="187.78" cy="147.02" r="1.7" fill="#ed664b"/>
<circle cx="174.58" cy="138.24" r="1.7" fill="#ed664b"/>
<circle cx="175.72" cy="131.50" r="1.7" fill="#ed664b"/>
<circle cx="198.33" cy="148.92" r="1.7" fill="#ed664b"/>
<circle cx="180.57" cy="130.03" r="1.7" fill="#ed664b"/>
<circle cx="185.09" cy="145.76" r="1.7" fill="#ed664b"/>
<circle cx="194.90" cy="131.49" r="1.7" fill="#ed664b"/>
<circle cx="191.09" cy="130.48" r="1.7" fill="#ed664b"/>
<circle cx="175.17" cy="138.26" r="1.7" fill="#ec644a"/>
<circle cx="181.58" cy="143.60" r="1.7" fill="#ec644a"/>
<circle cx="203.02" cy="136.74" r="1.7" fill="#ec644a"/>
<circle cx="174.40" cy="135.56" r="1.7" fill="#ec644a"/>
<circle cx="175.05" cy="135.50" r="1.7" fill="#ec6348"/>
<circle cx="195.54" cy="132.38" r="1.7" fill="#eb6146"/>
<circle cx="177.64" cy="139.48" r="1.7" fill="#eb6146"/>
<circle cx="177.41" cy="132.67" r="1.7" fill="#eb6146"/>
<circle cx="176.99" cy="138.20" r="1.7" fill="#ea5e45"/>
<circle cx="194.82" cy="147.42" r="1.7" fill="#ea5e45"/>
<circle cx="191.93" cy="131.68" r="1.7" fill="#ea5e45"/>
<circle cx="181.64" cy="131.44" r="1.7" fill="#ea5e45"/>
<circle cx="204.03" cy="144.54" r="1.7" fill="#ea5e45"/>
<circle cx="181.08" cy="141.70" r="1.7" fill="#ea5e45"/>
<circle cx="192.22" cy="132.00" r="1.7" fill="#e95c43"/>
<circle cx="178.53" cy="138.97" r="1.7" fill="#e95c43"/>
<circle cx="181.56" cy="131.83" r="1.7" fill="#e95c43"/>
<circle cx="203.17" cy="139.30" r="1.7" fill="#e95c43"/>
<circle cx="201.24" cy="146.05" r="1.7" fill="#e85a42"/>
<circle cx="202.55" cy="144.88" r="1.7" fill="#e85a42"/>
<circle cx="194.44" cy="133.08" r="1.7" fill="#e85a42"/>
<circle cx="184.10" cy="131.89" r="1.7" fill="#e85a42"/>
<circle cx="182.39" cy="141.68" r="1.7" fill="#e85a42"/>
<circle cx="190.92" cy="145.53" r="1.7" fill="#e75841"/>
<circle cx="202.56" cy="143.50" r="1.7" fill="#e75841"/>
<circle cx="202.83" cy="141.64" r="1.7" fill="#e75841"/>
<circle cx="202.15" cy="139.50" r="1.7" fill="#e75841"/>
<circle cx="196.02" cy="134.79" r="1.7" fill="#e5543e"/>
<circle cx="185.96" cy="142.51" r="1.7" fill="#e5543e"/>
<circle cx="200.27" cy="138.58" r="1.7" fill="#e3503d"/>
<circle cx="191.82" cy="133.55" r="1.7" fill="#e3503d"/>
<circle cx="183.03" cy="133.79" r="1.7" fill="#e3503d"/>
<circle cx="184.99" cy="133.51" r="1.7" fill="#e3503d"/>
<circle cx="187.58" cy="142.97" r="1.7" fill="#e3503d"/>
<circle cx="190.71" cy="134.35" r="1.7" fill="#e14c3a"/>
<circle cx="194.56" cy="135.70" r="1.7" fill="#e14c3a"/>
<circle cx="193.93" cy="143.72" r="1.7" fill="#e14c3a"/>
<circle cx="186.35" cy="140.86" r="1.7" fill="#e14c3a"/>
<circle cx="196.65" cy="143.41" r="1.7" fill="#e04a39"/>
<circle cx="194.02" cy="135.80" r="1.7" fill="#e04a39"/>
<circle cx="185.45" cy="139.63" r="1.7" fill="#e04a39"/>
<circle cx="191.54" cy="135.19" r="1.7" fill="#e04a39"/>
<circle cx="191.03" cy="142.73" r="1.7" fill="#e04a39"/>
<circle cx="185.61" cy="139.31" r="1.7" fill="#e04a39"/>
<circle cx="197.54" cy="139.47" r="1.7" fill="#df4838"/>
<circle cx="193.99" cy="142.76" r="1.7" fill="#df4838"/>
<circle cx="194.07" cy="142.70" r="1.7" fill="#df4838"/>
<circle cx="190.85" cy="142.06" r="1.7" fill="#df4838"/>
<circle cx="191.72" cy="142.27" r="1.7" fill="#df4838"/>
<circle cx="186.73" cy="136.53" r="1.7" fill="#df4838"/>
<circle cx="194.88" cy="141.95" r="1.7" fill="#df4838"/>
<circle cx="188.37" cy="140.17" r="1.7" fill="#df4838"/>
<circle cx="196.04" cy="139.63" r="1.7" fill="#df4838"/>
<circle cx="195.02" cy="141.45" r="1.7" fill="#df4838"/>
<circle cx="187.47" cy="137.28" r="1.7" fill="#df4838"/>
<circle cx="192.53" cy="136.97" r="1.7" fill="#df4838"/>
<circle cx="188.25" cy="138.08" r="1.7" fill="#df4838"/>
<circle cx="193.65" cy="138.14" r="1.7" fill="#df4838"/>
</g>
<path d="M41.20,120.89 L44.80,124.50 L48.50,125.10 L52.10,125.50 L55.10,125.10 L58.70,122.11 L62.40,119.69 L67.80,118.70 L70.80,117.50 L73.90,119.10 L76.30,121.10 L79.90,122.70 L83.50,124.50 L85.30,126.90 L88.40,125.10 L92.00,123.90 L95.60,123.10 L99.20,122.11 L100.60,119.69 L103.60,122.11 L107.30,122.11 L110.90,123.90 L114.50,125.70 L118.10,126.90 L121.80,124.50 L125.40,123.30 L129.00,122.70 L132.00,122.11 L135.70,125.70 L138.70,128.10 L142.30,128.70 L145.90,128.70 L149.60,129.30 L153.20,130.00 L156.80,131.20 L159.20,132.40 L163.80,135.80 L167.60,137.10 L172.70,137.70 L177.20,137.70 L182.30,138.40 L186.70,137.10 L190.50,137.70 L194.40,140.90 L198.20,142.80 L202.60,143.50 L207.10,144.10 L212.20,145.40 L216.00,145.40 L219.80,144.10 L223.60,142.20" class="mean"/>
<path d="M42.00,100.20 L42.70,99.99 L46.70,98.70 L50.90,97.50 L55.50,96.70 L58.70,92.70 L63.00,91.10 L67.60,90.90 L71.70,90.60 L75.30,93.50 L77.50,97.50 L80.90,100.80 L83.80,104.80 L86.60,104.20 L88.40,99.99 L91.40,96.89 L95.60,94.50 L99.20,91.50 L106.50,95.20 L112.60,97.20 L119.60,99.80 L126.70,97.20 L133.00,96.19 L137.10,100.60 L140.50,103.11 L145.00,103.90 L149.60,104.30 L154.10,105.30 L158.30,106.91 L162.20,109.60 L166.20,108.10 L170.20,106.60 L174.80,107.90 L179.30,109.30 L182.30,112.90 L186.20,113.60 L189.40,111.10 L196.50,114.30 L202.60,115.30 L210.60,117.79 L218.70,119.50 L222.70,119.80" class="sig"/>
<path d="M42.00,148.60 L42.70,148.90 L47.30,151.10 L51.80,152.20 L56.40,152.51 L60.90,149.30 L65.50,147.10 L70.00,144.91 L75.50,146.20 L80.00,146.20 L84.50,148.00 L89.10,149.80 L93.60,151.60 L98.20,151.10 L102.70,151.60 L108.20,151.10 L112.70,152.20 L117.30,153.50 L120.90,152.51 L125.50,151.60 L130.00,151.10 L134.50,152.20 L139.10,154.00 L146.10,155.50 L153.40,157.30 L160.60,160.00 L167.90,162.40 L175.20,164.50 L182.50,163.60 L187.90,162.40 L193.40,165.50 L200.60,168.20 L207.90,169.09 L215.20,170.00 L222.50,168.20" class="sig"/>
<rect x="40.5" y="22.7" width="197.0" height="190.0" class="spine"/>
<line x1="40.50" y1="212.7" x2="40.50" y2="216.2" class="tick"/>
<line x1="46.56" y1="212.7" x2="46.56" y2="214.7" class="tick"/>
<line x1="52.62" y1="212.7" x2="52.62" y2="214.7" class="tick"/>
<line x1="58.68" y1="212.7" x2="58.68" y2="214.7" class="tick"/>
<line x1="64.75" y1="212.7" x2="64.75" y2="214.7" class="tick"/>
<line x1="70.81" y1="212.7" x2="70.81" y2="216.2" class="tick"/>
<line x1="76.87" y1="212.7" x2="76.87" y2="214.7" class="tick"/>
<line x1="82.93" y1="212.7" x2="82.93" y2="214.7" class="tick"/>
<line x1="88.99" y1="212.7" x2="88.99" y2="214.7" class="tick"/>
<line x1="95.05" y1="212.7" x2="95.05" y2="214.7" class="tick"/>
<line x1="101.12" y1="212.7" x2="101.12" y2="216.2" class="tick"/>
<line x1="107.18" y1="212.7" x2="107.18" y2="214.7" class="tick"/>
<line x1="113.24" y1="212.7" x2="113.24" y2="214.7" class="tick"/>
<line x1="119.30" y1="212.7" x2="119.30" y2="214.7" class="tick"/>
<line x1="125.36" y1="212.7" x2="125.36" y2="214.7" class="tick"/>
<line x1="131.42" y1="212.7" x2="131.42" y2="216.2" class="tick"/>
<line x1="137.48" y1="212.7" x2="137.48" y2="214.7" class="tick"/>
<line x1="143.55" y1="212.7" x2="143.55" y2="214.7" class="tick"/>
<line x1="149.61" y1="212.7" x2="149.61" y2="214.7" class="tick"/>
<line x1="155.67" y1="212.7" x2="155.67" y2="214.7" class="tick"/>
<line x1="161.73" y1="212.7" x2="161.73" y2="216.2" class="tick"/>
<line x1="167.79" y1="212.7" x2="167.79" y2="214.7" class="tick"/>
<line x1="173.85" y1="212.7" x2="173.85" y2="214.7" class="tick"/>
<line x1="179.92" y1="212.7" x2="179.92" y2="214.7" class="tick"/>
<line x1="185.98" y1="212.7" x2="185.98" y2="214.7" class="tick"/>
<line x1="192.04" y1="212.7" x2="192.04" y2="216.2" class="tick"/>
<line x1="198.10" y1="212.7" x2="198.10" y2="214.7" class="tick"/>
<line x1="204.16" y1="212.7" x2="204.16" y2="214.7" class="tick"/>
<line x1="210.22" y1="212.7" x2="210.22" y2="214.7" class="tick"/>
<line x1="216.28" y1="212.7" x2="216.28" y2="214.7" class="tick"/>
<line x1="222.35" y1="212.7" x2="222.35" y2="216.2" class="tick"/>
<line x1="228.41" y1="212.7" x2="228.41" y2="214.7" class="tick"/>
<line x1="234.47" y1="212.7" x2="234.47" y2="214.7" class="tick"/>
<line x1="37.0" y1="212.70" x2="40.5" y2="212.70" class="tick"/>
<line x1="38.5" y1="200.82" x2="40.5" y2="200.82" class="tick"/>
<line x1="38.5" y1="188.95" x2="40.5" y2="188.95" class="tick"/>
<line x1="38.5" y1="177.07" x2="40.5" y2="177.07" class="tick"/>
<line x1="37.0" y1="165.20" x2="40.5" y2="165.20" class="tick"/>
<line x1="38.5" y1="153.32" x2="40.5" y2="153.32" class="tick"/>
<line x1="38.5" y1="141.45" x2="40.5" y2="141.45" class="tick"/>
<line x1="38.5" y1="129.57" x2="40.5" y2="129.57" class="tick"/>
<line x1="37.0" y1="117.70" x2="40.5" y2="117.70" class="tick"/>
<line x1="38.5" y1="105.82" x2="40.5" y2="105.82" class="tick"/>
<line x1="38.5" y1="93.95" x2="40.5" y2="93.95" class="tick"/>
<line x1="38.5" y1="82.07" x2="40.5" y2="82.07" class="tick"/>
<line x1="37.0" y1="70.20" x2="40.5" y2="70.20" class="tick"/>
<line x1="38.5" y1="58.32" x2="40.5" y2="58.32" class="tick"/>
<line x1="38.5" y1="46.45" x2="40.5" y2="46.45" class="tick"/>
<line x1="38.5" y1="34.57" x2="40.5" y2="34.57" class="tick"/>
<line x1="37.0" y1="22.70" x2="40.5" y2="22.70" class="tick"/>
<text x="40.50" y="228.0" class="tl" text-anchor="middle">0</text>
<text x="70.81" y="228.0" class="tl" text-anchor="middle">10</text>
<text x="101.12" y="228.0" class="tl" text-anchor="middle">20</text>
<text x="131.42" y="228.0" class="tl" text-anchor="middle">30</text>
<text x="161.73" y="228.0" class="tl" text-anchor="middle">40</text>
<text x="192.04" y="228.0" class="tl" text-anchor="middle">50</text>
<text x="222.35" y="228.0" class="tl" text-anchor="middle">60</text>
<text x="34.00" y="27.20" class="tl" text-anchor="end">8</text>
<text x="34.00" y="74.70" class="tl" text-anchor="end">4</text>
<text x="34.00" y="122.20" class="tl" text-anchor="end">0</text>
<text x="34.00" y="169.70" class="tl" text-anchor="end">−4</text>
<text x="34.00" y="217.20" class="tl" text-anchor="end">−8</text>
<text x="139.00" y="242.4" class="al" text-anchor="middle">VZA (degree)</text>
<text transform="translate(15.30,117.70) rotate(-90)" class="yl" text-anchor="middle">ΔLST (K)</text>
<text x="139.00" y="17.5" class="ti" text-anchor="middle">(a) Before TRD Correction</text>
<rect x="158.5" y="27.4" width="75" height="27.8" class="leg"/>
<path d="M162.5,34.3 h17.8" class="lmean"/>
<path d="M162.7,46.599999999999994 h17" class="lsig"/>
<text x="187.5" y="37.4" class="lg">mean diff.</text>
<text x="187.5" y="49.7" class="lg">+/− sigma</text>
<line x1="306.56" y1="22.7" x2="306.56" y2="212.7" class="grid"/>
<line x1="336.82" y1="22.7" x2="336.82" y2="212.7" class="grid"/>
<line x1="367.08" y1="22.7" x2="367.08" y2="212.7" class="grid"/>
<line x1="397.35" y1="22.7" x2="397.35" y2="212.7" class="grid"/>
<line x1="427.61" y1="22.7" x2="427.61" y2="212.7" class="grid"/>
<line x1="457.87" y1="22.7" x2="457.87" y2="212.7" class="grid"/>
<line x1="276.3" y1="70.20" x2="473.0" y2="70.20" class="grid"/>
<line x1="276.3" y1="117.70" x2="473.0" y2="117.70" class="grid"/>
<line x1="276.3" y1="165.20" x2="473.0" y2="165.20" class="grid"/>
<clipPath id="c276"><rect x="276.3" y="22.7" width="196.7" height="190.0"/></clipPath><g clip-path="url(#c276)">
<circle cx="287.60" cy="40.50" r="1.7" fill="#3043c8"/>
<circle cx="295.50" cy="200.90" r="1.7" fill="#3043c8"/>
<circle cx="418.50" cy="30.91" r="1.7" fill="#3043c8"/>
<circle cx="460.30" cy="43.60" r="1.7" fill="#3043c8"/>
<circle cx="386.60" cy="32.40" r="1.7" fill="#3043c8"/>
<circle cx="315.30" cy="189.10" r="1.7" fill="#3043c8"/>
<circle cx="359.80" cy="34.90" r="1.7" fill="#3043c8"/>
<circle cx="305.80" cy="186.00" r="1.7" fill="#3043c8"/>
<circle cx="413.00" cy="188.70" r="1.7" fill="#3043c8"/>
<circle cx="400.60" cy="187.30" r="1.7" fill="#3043c8"/>
<circle cx="370.00" cy="37.80" r="1.7" fill="#3043c8"/>
<circle cx="312.50" cy="50.00" r="1.7" fill="#3043c8"/>
<circle cx="315.80" cy="49.50" r="1.7" fill="#3043c8"/>
<circle cx="420.30" cy="42.70" r="1.7" fill="#3043c8"/>
<circle cx="410.30" cy="41.79" r="1.7" fill="#3043c8"/>
<circle cx="472.10" cy="55.50" r="1.7" fill="#3043c8"/>
<circle cx="415.40" cy="186.40" r="1.7" fill="#3043c8"/>
<circle cx="353.60" cy="44.89" r="1.7" fill="#3043c8"/>
<circle cx="373.60" cy="43.60" r="1.7" fill="#3043c8"/>
<circle cx="336.70" cy="49.60" r="1.7" fill="#3043c8"/>
<circle cx="429.40" cy="49.10" r="1.7" fill="#3043c8"/>
<circle cx="300.00" cy="177.30" r="1.7" fill="#3043c8"/>
<circle cx="465.70" cy="57.80" r="1.7" fill="#3043c8"/>
<circle cx="400.30" cy="48.20" r="1.7" fill="#3043c8"/>
<circle cx="278.50" cy="74.70" r="1.7" fill="#3043c8"/>
<circle cx="364.90" cy="180.00" r="1.7" fill="#3043c8"/>
<circle cx="403.00" cy="179.60" r="1.7" fill="#3043c8"/>
<circle cx="302.70" cy="62.69" r="1.7" fill="#3043c8"/>
<circle cx="299.50" cy="64.20" r="1.7" fill="#3045ca"/>
<circle cx="305.80" cy="63.10" r="1.7" fill="#3247cb"/>
<circle cx="336.70" cy="177.80" r="1.7" fill="#3248cd"/>
<circle cx="277.60" cy="87.50" r="1.7" fill="#3248cd"/>
<circle cx="426.60" cy="177.30" r="1.7" fill="#3248cd"/>
<circle cx="441.20" cy="174.50" r="1.7" fill="#334ace"/>
<circle cx="278.50" cy="89.29" r="1.7" fill="#334ace"/>
<circle cx="301.60" cy="67.10" r="1.7" fill="#344cd0"/>
<circle cx="286.40" cy="170.50" r="1.7" fill="#344cd0"/>
<circle cx="339.80" cy="57.30" r="1.7" fill="#344cd0"/>
<circle cx="281.30" cy="82.00" r="1.7" fill="#344cd0"/>
<circle cx="420.30" cy="175.50" r="1.7" fill="#374fd1"/>
<circle cx="338.50" cy="58.50" r="1.7" fill="#374fd1"/>
<circle cx="357.30" cy="54.20" r="1.7" fill="#374fd1"/>
<circle cx="370.40" cy="53.60" r="1.7" fill="#3850d3"/>
<circle cx="444.80" cy="171.30" r="1.7" fill="#3850d3"/>
<circle cx="283.10" cy="85.60" r="1.7" fill="#3850d3"/>
<circle cx="418.50" cy="55.50" r="1.7" fill="#3952d4"/>
<circle cx="322.20" cy="173.10" r="1.7" fill="#3952d4"/>
<circle cx="408.50" cy="56.40" r="1.7" fill="#3a54d6"/>
<circle cx="339.50" cy="60.90" r="1.7" fill="#3a54d6"/>
<circle cx="423.90" cy="172.70" r="1.7" fill="#3b56d7"/>
<circle cx="286.70" cy="89.29" r="1.7" fill="#3b56d7"/>
<circle cx="372.20" cy="56.40" r="1.7" fill="#3b56d7"/>
<circle cx="294.00" cy="76.20" r="1.7" fill="#3b56d7"/>
<circle cx="287.60" cy="84.70" r="1.7" fill="#3b56d7"/>
<circle cx="421.20" cy="171.80" r="1.7" fill="#3d57d9"/>
<circle cx="380.30" cy="172.40" r="1.7" fill="#3d57d9"/>
<circle cx="471.20" cy="72.90" r="1.7" fill="#3d57d9"/>
<circle cx="289.53" cy="167.56" r="1.7" fill="#3e59da"/>
<circle cx="288.30" cy="166.84" r="1.7" fill="#3f5bdb"/>
<circle cx="296.70" cy="77.50" r="1.7" fill="#3f5bdb"/>
<circle cx="326.70" cy="67.80" r="1.7" fill="#3f5bdb"/>
<circle cx="323.10" cy="68.91" r="1.7" fill="#3f5bdb"/>
<circle cx="369.50" cy="59.10" r="1.7" fill="#405cde"/>
<circle cx="356.70" cy="173.30" r="1.7" fill="#405cde"/>
<circle cx="373.10" cy="59.10" r="1.7" fill="#405cde"/>
<circle cx="436.60" cy="169.09" r="1.7" fill="#405cde"/>
<circle cx="453.00" cy="63.60" r="1.7" fill="#405cde"/>
<circle cx="277.60" cy="160.00" r="1.7" fill="#405cde"/>
<circle cx="298.00" cy="79.30" r="1.7" fill="#415edf"/>
<circle cx="295.80" cy="82.00" r="1.7" fill="#415edf"/>
<circle cx="282.20" cy="162.69" r="1.7" fill="#415edf"/>
<circle cx="465.70" cy="71.10" r="1.7" fill="#415edf"/>
<circle cx="299.50" cy="167.30" r="1.7" fill="#4361e1"/>
<circle cx="342.20" cy="171.80" r="1.7" fill="#4361e1"/>
<circle cx="435.70" cy="60.90" r="1.7" fill="#4361e1"/>
<circle cx="412.10" cy="167.60" r="1.7" fill="#4361e1"/>
<circle cx="297.60" cy="87.50" r="1.7" fill="#4361e1"/>
<circle cx="309.50" cy="77.50" r="1.7" fill="#4564e3"/>
<circle cx="366.70" cy="62.20" r="1.7" fill="#4564e3"/>
<circle cx="360.40" cy="63.10" r="1.7" fill="#4564e3"/>
<circle cx="344.00" cy="170.90" r="1.7" fill="#4564e3"/>
<circle cx="405.70" cy="61.80" r="1.7" fill="#4666e4"/>
<circle cx="431.20" cy="61.80" r="1.7" fill="#4666e4"/>
<circle cx="326.70" cy="168.20" r="1.7" fill="#4666e4"/>
<circle cx="443.00" cy="165.50" r="1.7" fill="#4666e4"/>
<circle cx="430.30" cy="166.90" r="1.7" fill="#4666e4"/>
<circle cx="313.10" cy="78.00" r="1.7" fill="#4666e4"/>
<circle cx="279.50" cy="158.21" r="1.7" fill="#4666e4"/>
<circle cx="309.50" cy="82.40" r="1.7" fill="#4867e6"/>
<circle cx="368.50" cy="170.00" r="1.7" fill="#4867e6"/>
<circle cx="438.80" cy="63.60" r="1.7" fill="#4969e7"/>
<circle cx="365.80" cy="170.00" r="1.7" fill="#4969e7"/>
<circle cx="385.70" cy="167.30" r="1.7" fill="#4969e7"/>
<circle cx="350.40" cy="67.50" r="1.7" fill="#4969e7"/>
<circle cx="315.50" cy="80.20" r="1.7" fill="#4969e7"/>
<circle cx="462.10" cy="155.50" r="1.7" fill="#4969e7"/>
<circle cx="377.50" cy="63.60" r="1.7" fill="#4969e7"/>
<circle cx="311.30" cy="84.70" r="1.7" fill="#4969e7"/>
<circle cx="340.40" cy="169.09" r="1.7" fill="#4969e7"/>
<circle cx="391.20" cy="63.60" r="1.7" fill="#4a6be8"/>
<circle cx="287.55" cy="104.10" r="1.7" fill="#4a6be8"/>
<circle cx="322.70" cy="77.50" r="1.7" fill="#4a6be8"/>
<circle cx="293.60" cy="163.60" r="1.7" fill="#4a6be8"/>
<circle cx="464.80" cy="152.70" r="1.7" fill="#4a6be8"/>
<circle cx="409.40" cy="63.60" r="1.7" fill="#4a6be8"/>
<circle cx="312.20" cy="87.50" r="1.7" fill="#4a6be8"/>
<circle cx="457.50" cy="70.20" r="1.7" fill="#4b6ce9"/>
<circle cx="451.20" cy="67.50" r="1.7" fill="#4b6ce9"/>
<circle cx="418.10" cy="63.60" r="1.7" fill="#4b6ce9"/>
<circle cx="453.00" cy="160.00" r="1.7" fill="#4b6ce9"/>
<circle cx="450.30" cy="160.90" r="1.7" fill="#4b6ce9"/>
<circle cx="357.60" cy="67.50" r="1.7" fill="#4d6eea"/>
<circle cx="440.30" cy="163.60" r="1.7" fill="#4d6eea"/>
<circle cx="318.50" cy="84.70" r="1.7" fill="#4d6eea"/>
<circle cx="300.11" cy="97.74" r="1.7" fill="#4d6eea"/>
<circle cx="341.30" cy="73.30" r="1.7" fill="#4e71ec"/>
<circle cx="317.60" cy="89.29" r="1.7" fill="#4e71ec"/>
<circle cx="298.50" cy="162.69" r="1.7" fill="#4f72ed"/>
<circle cx="289.63" cy="104.61" r="1.7" fill="#4f72ed"/>
<circle cx="288.42" cy="159.84" r="1.7" fill="#4f72ed"/>
<circle cx="379.40" cy="66.49" r="1.7" fill="#4f72ed"/>
<circle cx="338.50" cy="76.51" r="1.7" fill="#5074ee"/>
<circle cx="471.20" cy="143.60" r="1.7" fill="#5074ee"/>
<circle cx="453.90" cy="71.10" r="1.7" fill="#5276ef"/>
<circle cx="391.20" cy="163.60" r="1.7" fill="#5276ef"/>
<circle cx="353.10" cy="72.00" r="1.7" fill="#5276ef"/>
<circle cx="467.50" cy="80.20" r="1.7" fill="#5276ef"/>
<circle cx="286.13" cy="107.91" r="1.7" fill="#5276ef"/>
<circle cx="472.10" cy="84.70" r="1.7" fill="#5477f0"/>
<circle cx="372.20" cy="166.40" r="1.7" fill="#5477f0"/>
<circle cx="447.50" cy="69.30" r="1.7" fill="#5477f0"/>
<circle cx="452.10" cy="157.30" r="1.7" fill="#5579f1"/>
<circle cx="449.40" cy="158.21" r="1.7" fill="#5579f1"/>
<circle cx="301.82" cy="99.80" r="1.7" fill="#5579f1"/>
<circle cx="334.00" cy="84.70" r="1.7" fill="#5579f1"/>
<circle cx="347.60" cy="76.20" r="1.7" fill="#5579f1"/>
<circle cx="299.50" cy="160.90" r="1.7" fill="#577af2"/>
<circle cx="345.30" cy="77.50" r="1.7" fill="#577af2"/>
<circle cx="339.50" cy="81.10" r="1.7" fill="#577af2"/>
<circle cx="442.10" cy="160.00" r="1.7" fill="#577af2"/>
<circle cx="389.40" cy="162.69" r="1.7" fill="#577af2"/>
<circle cx="332.20" cy="163.60" r="1.7" fill="#577af2"/>
<circle cx="293.60" cy="159.10" r="1.7" fill="#587cf3"/>
<circle cx="297.60" cy="160.00" r="1.7" fill="#587cf3"/>
<circle cx="340.40" cy="82.89" r="1.7" fill="#587cf3"/>
<circle cx="453.00" cy="155.50" r="1.7" fill="#597ff4"/>
<circle cx="464.80" cy="147.30" r="1.7" fill="#597ff4"/>
<circle cx="375.70" cy="71.10" r="1.7" fill="#597ff4"/>
<circle cx="294.67" cy="158.81" r="1.7" fill="#597ff4"/>
<circle cx="424.80" cy="68.39" r="1.7" fill="#5a80f5"/>
<circle cx="392.10" cy="70.20" r="1.7" fill="#5a80f5"/>
<circle cx="297.68" cy="103.20" r="1.7" fill="#5a80f5"/>
<circle cx="446.60" cy="157.30" r="1.7" fill="#5a80f5"/>
<circle cx="396.60" cy="70.20" r="1.7" fill="#5a80f5"/>
<circle cx="346.70" cy="82.00" r="1.7" fill="#5c82f6"/>
<circle cx="435.70" cy="69.30" r="1.7" fill="#5c82f6"/>
<circle cx="350.40" cy="80.20" r="1.7" fill="#5c82f6"/>
<circle cx="278.40" cy="146.98" r="1.7" fill="#5c82f6"/>
<circle cx="380.30" cy="162.69" r="1.7" fill="#5c82f6"/>
<circle cx="415.70" cy="69.30" r="1.7" fill="#5c82f6"/>
<circle cx="356.70" cy="77.50" r="1.7" fill="#5c82f6"/>
<circle cx="380.30" cy="72.00" r="1.7" fill="#5c82f6"/>
<circle cx="298.45" cy="103.28" r="1.7" fill="#5c82f6"/>
<circle cx="467.50" cy="143.60" r="1.7" fill="#5d83f8"/>
<circle cx="295.56" cy="157.97" r="1.7" fill="#5d83f8"/>
<circle cx="279.07" cy="117.15" r="1.7" fill="#5d83f8"/>
<circle cx="421.20" cy="159.10" r="1.7" fill="#5d83f8"/>
<circle cx="457.00" cy="151.80" r="1.7" fill="#5d83f8"/>
<circle cx="345.80" cy="163.60" r="1.7" fill="#5d83f8"/>
<circle cx="345.80" cy="85.60" r="1.7" fill="#5e85f9"/>
<circle cx="348.50" cy="83.80" r="1.7" fill="#5e85f9"/>
<circle cx="432.10" cy="70.20" r="1.7" fill="#6086f9"/>
<circle cx="354.00" cy="82.00" r="1.7" fill="#6086f9"/>
<circle cx="390.30" cy="160.00" r="1.7" fill="#6086f9"/>
<circle cx="438.50" cy="71.10" r="1.7" fill="#6086f9"/>
<circle cx="354.90" cy="163.60" r="1.7" fill="#6086f9"/>
<circle cx="357.60" cy="163.60" r="1.7" fill="#6188fa"/>
<circle cx="349.86" cy="85.60" r="1.7" fill="#6188fa"/>
<circle cx="418.50" cy="70.70" r="1.7" fill="#6188fa"/>
<circle cx="391.20" cy="72.90" r="1.7" fill="#6188fa"/>
<circle cx="340.40" cy="161.80" r="1.7" fill="#6188fa"/>
<circle cx="376.60" cy="161.80" r="1.7" fill="#6188fa"/>
<circle cx="465.70" cy="83.80" r="1.7" fill="#6188fa"/>
<circle cx="383.00" cy="74.70" r="1.7" fill="#628bfb"/>
<circle cx="455.70" cy="150.90" r="1.7" fill="#658cfc"/>
<circle cx="360.40" cy="162.69" r="1.7" fill="#658cfc"/>
<circle cx="403.90" cy="72.90" r="1.7" fill="#658cfc"/>
<circle cx="328.50" cy="159.10" r="1.7" fill="#658cfc"/>
<circle cx="413.00" cy="157.30" r="1.7" fill="#658cfc"/>
<circle cx="282.56" cy="147.77" r="1.7" fill="#668efd"/>
<circle cx="278.21" cy="121.48" r="1.7" fill="#668efd"/>
<circle cx="364.90" cy="81.10" r="1.7" fill="#668efd"/>
<circle cx="375.70" cy="77.50" r="1.7" fill="#668efd"/>
<circle cx="386.60" cy="159.10" r="1.7" fill="#668efd"/>
<circle cx="367.60" cy="80.20" r="1.7" fill="#668efd"/>
<circle cx="307.60" cy="157.30" r="1.7" fill="#678ffd"/>
<circle cx="441.20" cy="155.50" r="1.7" fill="#678ffd"/>
<circle cx="279.99" cy="144.15" r="1.7" fill="#678ffd"/>
<circle cx="373.10" cy="79.30" r="1.7" fill="#6991fe"/>
<circle cx="371.30" cy="80.20" r="1.7" fill="#6991fe"/>
<circle cx="443.90" cy="74.70" r="1.7" fill="#6991fe"/>
<circle cx="413.90" cy="156.40" r="1.7" fill="#6991fe"/>
<circle cx="310.00" cy="101.73" r="1.7" fill="#6991fe"/>
<circle cx="280.30" cy="143.84" r="1.7" fill="#6a92ff"/>
<circle cx="423.90" cy="156.40" r="1.7" fill="#6a92ff"/>
<circle cx="427.50" cy="72.90" r="1.7" fill="#6a92ff"/>
<circle cx="384.30" cy="77.50" r="1.7" fill="#6a92ff"/>
<circle cx="280.39" cy="119.84" r="1.7" fill="#6a92ff"/>
<circle cx="344.98" cy="93.24" r="1.7" fill="#6c93ff"/>
<circle cx="343.03" cy="94.03" r="1.7" fill="#6c93ff"/>
<circle cx="447.50" cy="76.51" r="1.7" fill="#6c93ff"/>
<circle cx="364.00" cy="85.60" r="1.7" fill="#6d95ff"/>
<circle cx="278.52" cy="139.57" r="1.7" fill="#6d95ff"/>
<circle cx="459.40" cy="146.40" r="1.7" fill="#6d95ff"/>
<circle cx="378.50" cy="80.20" r="1.7" fill="#6d95ff"/>
<circle cx="325.26" cy="98.84" r="1.7" fill="#6d95ff"/>
<circle cx="383.00" cy="79.30" r="1.7" fill="#6d95ff"/>
<circle cx="281.84" cy="119.08" r="1.7" fill="#6d95ff"/>
<circle cx="453.00" cy="79.30" r="1.7" fill="#6e95ff"/>
<circle cx="356.70" cy="160.00" r="1.7" fill="#6e95ff"/>
<circle cx="407.50" cy="75.60" r="1.7" fill="#6e95ff"/>
<circle cx="290.49" cy="150.93" r="1.7" fill="#6e95ff"/>
<circle cx="361.30" cy="160.00" r="1.7" fill="#6e95ff"/>
<circle cx="385.70" cy="79.30" r="1.7" fill="#6f97ff"/>
<circle cx="469.40" cy="91.10" r="1.7" fill="#6f97ff"/>
<circle cx="390.30" cy="78.41" r="1.7" fill="#6f97ff"/>
<circle cx="433.00" cy="74.70" r="1.7" fill="#6f97ff"/>
<circle cx="294.78" cy="152.51" r="1.7" fill="#6f97ff"/>
<circle cx="344.00" cy="158.21" r="1.7" fill="#6f97ff"/>
<circle cx="449.40" cy="78.41" r="1.7" fill="#6f97ff"/>
<circle cx="288.08" cy="148.85" r="1.7" fill="#6f97ff"/>
<circle cx="338.50" cy="157.30" r="1.7" fill="#6f97ff"/>
<circle cx="298.61" cy="107.25" r="1.7" fill="#7098ff"/>
<circle cx="393.00" cy="78.41" r="1.7" fill="#7098ff"/>
<circle cx="334.90" cy="156.40" r="1.7" fill="#719aff"/>
<circle cx="286.73" cy="115.24" r="1.7" fill="#719aff"/>
<circle cx="306.70" cy="154.50" r="1.7" fill="#719aff"/>
<circle cx="282.36" cy="142.48" r="1.7" fill="#739bff"/>
<circle cx="472.10" cy="96.50" r="1.7" fill="#739bff"/>
<circle cx="455.70" cy="82.00" r="1.7" fill="#739bff"/>
<circle cx="444.80" cy="151.80" r="1.7" fill="#739bff"/>
<circle cx="282.12" cy="121.00" r="1.7" fill="#739bff"/>
<circle cx="401.20" cy="154.50" r="1.7" fill="#739bff"/>
<circle cx="296.58" cy="151.95" r="1.7" fill="#739bff"/>
<circle cx="364.90" cy="158.21" r="1.7" fill="#739bff"/>
<circle cx="325.33" cy="100.46" r="1.7" fill="#749bff"/>
<circle cx="416.60" cy="76.51" r="1.7" fill="#749bff"/>
<circle cx="311.30" cy="154.20" r="1.7" fill="#749bff"/>
<circle cx="278.91" cy="132.10" r="1.7" fill="#749bff"/>
<circle cx="451.20" cy="149.10" r="1.7" fill="#749bff"/>
<circle cx="398.50" cy="79.30" r="1.7" fill="#769dff"/>
<circle cx="279.87" cy="126.78" r="1.7" fill="#769dff"/>
<circle cx="293.16" cy="111.43" r="1.7" fill="#769dff"/>
<circle cx="333.62" cy="99.40" r="1.7" fill="#769dff"/>
<circle cx="302.20" cy="152.70" r="1.7" fill="#779eff"/>
<circle cx="335.80" cy="154.50" r="1.7" fill="#78a0ff"/>
<circle cx="280.18" cy="134.37" r="1.7" fill="#78a0ff"/>
<circle cx="449.40" cy="149.10" r="1.7" fill="#78a0ff"/>
<circle cx="363.20" cy="91.63" r="1.7" fill="#79a0ff"/>
<circle cx="366.32" cy="90.55" r="1.7" fill="#79a0ff"/>
<circle cx="347.60" cy="155.50" r="1.7" fill="#79a0ff"/>
<circle cx="429.40" cy="77.50" r="1.7" fill="#79a0ff"/>
<circle cx="280.32" cy="132.00" r="1.7" fill="#79a0ff"/>
<circle cx="363.10" cy="156.40" r="1.7" fill="#79a0ff"/>
<circle cx="332.04" cy="100.56" r="1.7" fill="#79a0ff"/>
<circle cx="438.50" cy="78.41" r="1.7" fill="#7ba2ff"/>
<circle cx="402.10" cy="80.20" r="1.7" fill="#7ba2ff"/>
<circle cx="280.65" cy="131.04" r="1.7" fill="#7ba2ff"/>
<circle cx="420.30" cy="78.41" r="1.7" fill="#7ca3ff"/>
<circle cx="414.07" cy="152.55" r="1.7" fill="#7da4ff"/>
<circle cx="299.29" cy="150.12" r="1.7" fill="#7da4ff"/>
<circle cx="285.57" cy="120.06" r="1.7" fill="#7da4ff"/>
<circle cx="338.30" cy="100.29" r="1.7" fill="#7da4ff"/>
<circle cx="334.00" cy="152.70" r="1.7" fill="#7ea5ff"/>
<circle cx="337.11" cy="100.65" r="1.7" fill="#7ea5ff"/>
<circle cx="409.40" cy="80.20" r="1.7" fill="#7ea5ff"/>
<circle cx="296.35" cy="148.79" r="1.7" fill="#7ea5ff"/>
<circle cx="342.26" cy="99.76" r="1.7" fill="#7ea5ff"/>
<circle cx="355.80" cy="154.50" r="1.7" fill="#81a6ff"/>
<circle cx="307.58" cy="106.86" r="1.7" fill="#81a6ff"/>
<circle cx="433.00" cy="79.30" r="1.7" fill="#81a8ff"/>
<circle cx="282.39" cy="128.14" r="1.7" fill="#81a8ff"/>
<circle cx="376.60" cy="153.60" r="1.7" fill="#81a8ff"/>
<circle cx="423.90" cy="79.30" r="1.7" fill="#81a8ff"/>
<circle cx="298.22" cy="148.91" r="1.7" fill="#81a8ff"/>
<circle cx="285.93" cy="140.58" r="1.7" fill="#81a8ff"/>
<circle cx="387.50" cy="152.40" r="1.7" fill="#81a8ff"/>
<circle cx="398.50" cy="151.80" r="1.7" fill="#81a8ff"/>
<circle cx="338.87" cy="101.03" r="1.7" fill="#81a8ff"/>
<circle cx="354.00" cy="153.60" r="1.7" fill="#82a9ff"/>
<circle cx="333.59" cy="101.98" r="1.7" fill="#82a9ff"/>
<circle cx="384.80" cy="152.40" r="1.7" fill="#82a9ff"/>
<circle cx="289.88" cy="144.05" r="1.7" fill="#82a9ff"/>
<circle cx="284.69" cy="138.27" r="1.7" fill="#82a9ff"/>
<circle cx="369.29" cy="92.18" r="1.7" fill="#82a9ff"/>
<circle cx="302.32" cy="149.55" r="1.7" fill="#84aaff"/>
<circle cx="286.73" cy="140.86" r="1.7" fill="#84aaff"/>
<circle cx="460.30" cy="140.90" r="1.7" fill="#84aaff"/>
<circle cx="288.36" cy="118.54" r="1.7" fill="#84aaff"/>
<circle cx="374.80" cy="152.70" r="1.7" fill="#86abff"/>
<circle cx="440.30" cy="81.10" r="1.7" fill="#86abff"/>
<circle cx="286.56" cy="139.97" r="1.7" fill="#86abff"/>
<circle cx="413.90" cy="81.10" r="1.7" fill="#86abff"/>
<circle cx="344.72" cy="151.52" r="1.7" fill="#88adff"/>
<circle cx="310.68" cy="106.88" r="1.7" fill="#88adff"/>
<circle cx="323.79" cy="150.43" r="1.7" fill="#88adff"/>
<circle cx="363.10" cy="152.70" r="1.7" fill="#88adff"/>
<circle cx="285.61" cy="137.82" r="1.7" fill="#88adff"/>
<circle cx="335.09" cy="102.70" r="1.7" fill="#89aeff"/>
<circle cx="307.04" cy="149.41" r="1.7" fill="#89aeff"/>
<circle cx="293.71" cy="114.94" r="1.7" fill="#89aeff"/>
<circle cx="284.46" cy="133.84" r="1.7" fill="#89aeff"/>
<circle cx="344.66" cy="101.26" r="1.7" fill="#89afff"/>
<circle cx="307.78" cy="108.50" r="1.7" fill="#8cb0ff"/>
<circle cx="377.50" cy="150.90" r="1.7" fill="#8db1ff"/>
<circle cx="429.22" cy="150.00" r="1.7" fill="#8db1ff"/>
<circle cx="394.80" cy="150.00" r="1.7" fill="#8db1ff"/>
<circle cx="323.14" cy="149.12" r="1.7" fill="#8db1ff"/>
<circle cx="336.54" cy="149.20" r="1.7" fill="#8eb2ff"/>
<circle cx="467.50" cy="98.40" r="1.7" fill="#8eb2ff"/>
<circle cx="285.23" cy="132.02" r="1.7" fill="#8eb2ff"/>
<circle cx="368.50" cy="150.90" r="1.7" fill="#8eb2ff"/>
<circle cx="365.80" cy="150.90" r="1.7" fill="#8eb2ff"/>
<circle cx="295.20" cy="114.94" r="1.7" fill="#8eb2ff"/>
<circle cx="411.20" cy="150.00" r="1.7" fill="#8eb2ff"/>
<circle cx="367.72" cy="95.21" r="1.7" fill="#8eb2ff"/>
<circle cx="333.59" cy="148.86" r="1.7" fill="#8eb2ff"/>
<circle cx="460.30" cy="90.89" r="1.7" fill="#90b4ff"/>
<circle cx="312.38" cy="107.68" r="1.7" fill="#90b4ff"/>
<circle cx="285.99" cy="133.67" r="1.7" fill="#90b4ff"/>
<circle cx="355.25" cy="99.74" r="1.7" fill="#90b4ff"/>
<circle cx="318.77" cy="106.31" r="1.7" fill="#90b4ff"/>
<circle cx="382.95" cy="149.96" r="1.7" fill="#90b4ff"/>
<circle cx="288.10" cy="137.44" r="1.7" fill="#91b5ff"/>
<circle cx="302.36" cy="111.43" r="1.7" fill="#91b5ff"/>
<circle cx="373.63" cy="93.46" r="1.7" fill="#91b5ff"/>
<circle cx="433.00" cy="149.10" r="1.7" fill="#91b5ff"/>
<circle cx="335.23" cy="148.27" r="1.7" fill="#91b5ff"/>
<circle cx="297.60" cy="114.03" r="1.7" fill="#91b5ff"/>
<circle cx="319.04" cy="148.23" r="1.7" fill="#93b6ff"/>
<circle cx="357.68" cy="149.51" r="1.7" fill="#93b6ff"/>
<circle cx="288.91" cy="138.20" r="1.7" fill="#93b6ff"/>
<circle cx="289.63" cy="121.35" r="1.7" fill="#93b6ff"/>
<circle cx="286.79" cy="127.63" r="1.7" fill="#94b7ff"/>
<circle cx="288.79" cy="122.91" r="1.7" fill="#94b7ff"/>
<circle cx="405.70" cy="149.10" r="1.7" fill="#94b7ff"/>
<circle cx="361.53" cy="98.50" r="1.7" fill="#94b7ff"/>
<circle cx="349.00" cy="148.30" r="1.7" fill="#94b7ff"/>
<circle cx="393.09" cy="87.70" r="1.7" fill="#94b7ff"/>
<circle cx="428.50" cy="149.10" r="1.7" fill="#94b7ff"/>
<circle cx="357.67" cy="99.95" r="1.7" fill="#95b9ff"/>
<circle cx="370.40" cy="149.10" r="1.7" fill="#95b9ff"/>
<circle cx="289.76" cy="122.06" r="1.7" fill="#95b9ff"/>
<circle cx="329.48" cy="147.39" r="1.7" fill="#95b9ff"/>
<circle cx="292.11" cy="140.39" r="1.7" fill="#95b9ff"/>
<circle cx="370.86" cy="95.42" r="1.7" fill="#98baff"/>
<circle cx="427.61" cy="83.31" r="1.7" fill="#98baff"/>
<circle cx="287.52" cy="128.64" r="1.7" fill="#98baff"/>
<circle cx="358.81" cy="148.03" r="1.7" fill="#99bbff"/>
<circle cx="341.55" cy="146.79" r="1.7" fill="#99bbff"/>
<circle cx="338.31" cy="105.03" r="1.7" fill="#99bbff"/>
<circle cx="302.30" cy="112.68" r="1.7" fill="#99bbff"/>
<circle cx="383.90" cy="148.19" r="1.7" fill="#99bbff"/>
<circle cx="456.40" cy="90.17" r="1.7" fill="#9bbdff"/>
<circle cx="288.66" cy="125.85" r="1.7" fill="#9bbdff"/>
<circle cx="299.53" cy="143.86" r="1.7" fill="#9bbdff"/>
<circle cx="359.73" cy="147.48" r="1.7" fill="#9bbdff"/>
<circle cx="342.21" cy="104.79" r="1.7" fill="#9dbeff"/>
<circle cx="354.67" cy="147.00" r="1.7" fill="#9dbeff"/>
<circle cx="461.96" cy="94.83" r="1.7" fill="#9dbeff"/>
<circle cx="292.24" cy="138.71" r="1.7" fill="#9dbeff"/>
<circle cx="289.07" cy="126.51" r="1.7" fill="#9dbeff"/>
<circle cx="399.17" cy="87.55" r="1.7" fill="#9ebfff"/>
<circle cx="396.86" cy="88.10" r="1.7" fill="#9ebfff"/>
<circle cx="356.93" cy="101.50" r="1.7" fill="#9ebfff"/>
<circle cx="291.77" cy="121.81" r="1.7" fill="#9ebfff"/>
<circle cx="382.10" cy="147.30" r="1.7" fill="#9fc0ff"/>
<circle cx="289.25" cy="131.50" r="1.7" fill="#9fc0ff"/>
<circle cx="309.15" cy="145.24" r="1.7" fill="#a2c2ff"/>
<circle cx="290.82" cy="135.39" r="1.7" fill="#a2c2ff"/>
<circle cx="375.27" cy="95.33" r="1.7" fill="#a2c2ff"/>
<circle cx="305.57" cy="144.54" r="1.7" fill="#a2c2ff"/>
<circle cx="289.69" cy="132.29" r="1.7" fill="#a2c2ff"/>
<circle cx="290.11" cy="126.72" r="1.7" fill="#a3c3ff"/>
<circle cx="432.10" cy="147.30" r="1.7" fill="#a3c3ff"/>
<circle cx="351.66" cy="145.18" r="1.7" fill="#a3c3ff"/>
<circle cx="338.08" cy="106.43" r="1.7" fill="#a3c3ff"/>
<circle cx="462.40" cy="96.73" r="1.7" fill="#a3c3ff"/>
<circle cx="302.24" cy="143.17" r="1.7" fill="#a3c3ff"/>
<circle cx="361.26" cy="100.98" r="1.7" fill="#a4c4ff"/>
<circle cx="298.10" cy="141.35" r="1.7" fill="#a4c4ff"/>
<circle cx="352.86" cy="103.75" r="1.7" fill="#a4c4ff"/>
<circle cx="461.76" cy="134.78" r="1.7" fill="#a6c5ff"/>
<circle cx="359.46" cy="144.96" r="1.7" fill="#a8c6ff"/>
<circle cx="426.60" cy="147.30" r="1.7" fill="#a8c6ff"/>
<circle cx="311.93" cy="144.44" r="1.7" fill="#a8c6ff"/>
<circle cx="310.89" cy="144.28" r="1.7" fill="#a8c6ff"/>
<circle cx="325.00" cy="144.47" r="1.7" fill="#a8c6ff"/>
<circle cx="316.79" cy="109.90" r="1.7" fill="#a9c7ff"/>
<circle cx="334.45" cy="143.82" r="1.7" fill="#a9c7ff"/>
<circle cx="454.36" cy="91.36" r="1.7" fill="#a9c7ff"/>
<circle cx="448.42" cy="88.77" r="1.7" fill="#a9c7ff"/>
<circle cx="358.87" cy="144.13" r="1.7" fill="#acc8ff"/>
<circle cx="363.34" cy="144.39" r="1.7" fill="#acc8ff"/>
<circle cx="327.73" cy="143.75" r="1.7" fill="#acc8ff"/>
<circle cx="302.36" cy="141.66" r="1.7" fill="#acc8ff"/>
<circle cx="316.84" cy="143.94" r="1.7" fill="#acc8ff"/>
<circle cx="447.75" cy="88.91" r="1.7" fill="#adcaff"/>
<circle cx="392.99" cy="91.19" r="1.7" fill="#adcaff"/>
<circle cx="293.49" cy="134.42" r="1.7" fill="#afccff"/>
<circle cx="341.15" cy="107.57" r="1.7" fill="#afccff"/>
<circle cx="315.66" cy="143.53" r="1.7" fill="#afccff"/>
<circle cx="304.76" cy="114.51" r="1.7" fill="#afccff"/>
<circle cx="461.35" cy="97.75" r="1.7" fill="#afccff"/>
<circle cx="323.06" cy="143.36" r="1.7" fill="#afccff"/>
<circle cx="396.60" cy="145.50" r="1.7" fill="#b2cdff"/>
<circle cx="373.17" cy="144.26" r="1.7" fill="#b2cdff"/>
<circle cx="413.84" cy="87.48" r="1.7" fill="#b2cdff"/>
<circle cx="368.77" cy="143.81" r="1.7" fill="#b2cdff"/>
<circle cx="307.12" cy="113.80" r="1.7" fill="#b2cdff"/>
<circle cx="365.49" cy="143.50" r="1.7" fill="#b3ceff"/>
<circle cx="401.25" cy="145.57" r="1.7" fill="#b3ceff"/>
<circle cx="431.58" cy="86.75" r="1.7" fill="#b3ceff"/>
<circle cx="352.10" cy="142.15" r="1.7" fill="#b3ceff"/>
<circle cx="420.30" cy="146.40" r="1.7" fill="#b3ceff"/>
<circle cx="349.92" cy="141.94" r="1.7" fill="#b3ceff"/>
<circle cx="407.47" cy="88.72" r="1.7" fill="#b5d0ff"/>
<circle cx="457.70" cy="95.05" r="1.7" fill="#b5d0ff"/>
<circle cx="294.00" cy="125.81" r="1.7" fill="#b5d0ff"/>
<circle cx="433.94" cy="87.13" r="1.7" fill="#b5d0ff"/>
<circle cx="294.06" cy="132.52" r="1.7" fill="#b5d0ff"/>
<circle cx="442.76" cy="88.42" r="1.7" fill="#b5d0ff"/>
<circle cx="327.33" cy="142.29" r="1.7" fill="#b5d0ff"/>
<circle cx="321.11" cy="142.59" r="1.7" fill="#b5d0ff"/>
<circle cx="458.70" cy="135.54" r="1.7" fill="#b7d1ff"/>
<circle cx="341.50" cy="108.63" r="1.7" fill="#b7d1ff"/>
<circle cx="369.41" cy="100.54" r="1.7" fill="#b9d2ff"/>
<circle cx="322.47" cy="142.07" r="1.7" fill="#b9d2ff"/>
<circle cx="340.40" cy="140.81" r="1.7" fill="#bad3ff"/>
<circle cx="391.03" cy="93.02" r="1.7" fill="#bad3ff"/>
<circle cx="309.78" cy="141.37" r="1.7" fill="#bad3ff"/>
<circle cx="430.30" cy="145.50" r="1.7" fill="#bad3ff"/>
<circle cx="361.64" cy="103.72" r="1.7" fill="#bad3ff"/>
<circle cx="298.19" cy="136.45" r="1.7" fill="#bad3ff"/>
<circle cx="332.57" cy="109.89" r="1.7" fill="#bad3ff"/>
<circle cx="309.24" cy="114.04" r="1.7" fill="#bad3ff"/>
<circle cx="425.55" cy="87.60" r="1.7" fill="#bad3ff"/>
<circle cx="318.25" cy="111.67" r="1.7" fill="#bcd5ff"/>
<circle cx="304.63" cy="116.32" r="1.7" fill="#bcd5ff"/>
<circle cx="325.70" cy="141.43" r="1.7" fill="#bcd5ff"/>
<circle cx="308.36" cy="114.65" r="1.7" fill="#bcd5ff"/>
<circle cx="316.56" cy="112.17" r="1.7" fill="#bcd5ff"/>
<circle cx="300.28" cy="119.43" r="1.7" fill="#bcd5ff"/>
<circle cx="383.09" cy="143.21" r="1.7" fill="#bfd6ff"/>
<circle cx="305.74" cy="116.07" r="1.7" fill="#bfd6ff"/>
<circle cx="405.88" cy="90.05" r="1.7" fill="#bfd6ff"/>
<circle cx="452.50" cy="92.95" r="1.7" fill="#bfd6ff"/>
<circle cx="316.84" cy="112.36" r="1.7" fill="#bfd6ff"/>
<circle cx="309.38" cy="114.55" r="1.7" fill="#c0d7ff"/>
<circle cx="386.91" cy="94.84" r="1.7" fill="#c0d7ff"/>
<circle cx="325.54" cy="111.18" r="1.7" fill="#c0d7ff"/>
<circle cx="298.37" cy="122.22" r="1.7" fill="#c0d7ff"/>
<circle cx="314.14" cy="113.22" r="1.7" fill="#c0d7ff"/>
<circle cx="343.35" cy="139.42" r="1.7" fill="#c2d9ff"/>
<circle cx="431.99" cy="144.77" r="1.7" fill="#c2d9ff"/>
<circle cx="355.92" cy="139.88" r="1.7" fill="#c2d9ff"/>
<circle cx="387.11" cy="95.02" r="1.7" fill="#c2d9ff"/>
<circle cx="297.11" cy="132.88" r="1.7" fill="#c2d9ff"/>
<circle cx="303.83" cy="117.66" r="1.7" fill="#c2d9ff"/>
<circle cx="304.31" cy="138.53" r="1.7" fill="#c2d9ff"/>
<circle cx="329.21" cy="140.24" r="1.7" fill="#c2d9ff"/>
<circle cx="306.15" cy="139.11" r="1.7" fill="#c2d9ff"/>
<circle cx="330.14" cy="111.05" r="1.7" fill="#c2d9ff"/>
<circle cx="296.45" cy="128.98" r="1.7" fill="#c3d9fe"/>
<circle cx="304.01" cy="138.12" r="1.7" fill="#c3d9fe"/>
<circle cx="297.88" cy="133.01" r="1.7" fill="#c3d9fe"/>
<circle cx="387.12" cy="142.73" r="1.7" fill="#c3d9fe"/>
<circle cx="296.76" cy="129.72" r="1.7" fill="#c3d9fe"/>
<circle cx="419.71" cy="144.98" r="1.7" fill="#c6dafe"/>
<circle cx="311.12" cy="114.71" r="1.7" fill="#c6dafe"/>
<circle cx="314.18" cy="113.80" r="1.7" fill="#c6dafe"/>
<circle cx="387.17" cy="95.49" r="1.7" fill="#c6dafe"/>
<circle cx="328.13" cy="111.71" r="1.7" fill="#c7dafd"/>
<circle cx="320.95" cy="140.04" r="1.7" fill="#c7dafd"/>
<circle cx="297.95" cy="125.38" r="1.7" fill="#c7dafd"/>
<circle cx="335.73" cy="138.58" r="1.7" fill="#c8dcfc"/>
<circle cx="451.26" cy="93.58" r="1.7" fill="#c8dcfc"/>
<circle cx="460.17" cy="132.25" r="1.7" fill="#c8dcfc"/>
<circle cx="338.72" cy="138.14" r="1.7" fill="#c8dcfc"/>
<circle cx="306.17" cy="137.67" r="1.7" fill="#c9dcfb"/>
<circle cx="346.56" cy="137.70" r="1.7" fill="#c9dcfb"/>
<circle cx="305.51" cy="137.36" r="1.7" fill="#c9dcfb"/>
<circle cx="456.39" cy="97.24" r="1.7" fill="#c9dcfb"/>
<circle cx="305.64" cy="137.19" r="1.7" fill="#c9dcfb"/>
<circle cx="351.27" cy="137.60" r="1.7" fill="#c9dcfb"/>
<circle cx="359.47" cy="138.45" r="1.7" fill="#cbddfa"/>
<circle cx="452.63" cy="94.84" r="1.7" fill="#cbddfa"/>
<circle cx="308.18" cy="137.65" r="1.7" fill="#cdddfa"/>
<circle cx="380.12" cy="140.90" r="1.7" fill="#cdddfa"/>
<circle cx="436.66" cy="90.01" r="1.7" fill="#cdddfa"/>
<circle cx="314.87" cy="138.71" r="1.7" fill="#cdddfa"/>
<circle cx="337.92" cy="137.26" r="1.7" fill="#cdddfa"/>
<circle cx="313.05" cy="115.50" r="1.7" fill="#cedef9"/>
<circle cx="459.79" cy="101.55" r="1.7" fill="#cedef9"/>
<circle cx="328.93" cy="112.94" r="1.7" fill="#cedef9"/>
<circle cx="350.27" cy="136.55" r="1.7" fill="#cedef9"/>
<circle cx="389.30" cy="95.97" r="1.7" fill="#cedef9"/>
<circle cx="309.98" cy="137.46" r="1.7" fill="#cfdef8"/>
<circle cx="459.48" cy="132.02" r="1.7" fill="#cfdef8"/>
<circle cx="300.21" cy="130.69" r="1.7" fill="#cfdef8"/>
<circle cx="416.15" cy="90.53" r="1.7" fill="#cfdef8"/>
<circle cx="325.41" cy="113.47" r="1.7" fill="#cfdef8"/>
<circle cx="301.96" cy="132.99" r="1.7" fill="#cfdef8"/>
<circle cx="313.46" cy="137.78" r="1.7" fill="#cfdef8"/>
<circle cx="454.72" cy="96.99" r="1.7" fill="#d1e0f6"/>
<circle cx="372.15" cy="139.07" r="1.7" fill="#d1e0f6"/>
<circle cx="392.24" cy="141.49" r="1.7" fill="#d1e0f6"/>
<circle cx="312.96" cy="116.22" r="1.7" fill="#d1e0f6"/>
<circle cx="340.20" cy="112.81" r="1.7" fill="#d1e0f6"/>
<circle cx="311.93" cy="116.63" r="1.7" fill="#d2e0f5"/>
<circle cx="357.23" cy="108.83" r="1.7" fill="#d2e0f5"/>
<circle cx="347.15" cy="135.64" r="1.7" fill="#d2e0f5"/>
<circle cx="314.02" cy="116.06" r="1.7" fill="#d2e0f5"/>
<circle cx="445.46" cy="92.74" r="1.7" fill="#d2e0f5"/>
<circle cx="441.08" cy="91.66" r="1.7" fill="#d3e1f4"/>
<circle cx="320.44" cy="137.34" r="1.7" fill="#d3e1f4"/>
<circle cx="391.86" cy="95.84" r="1.7" fill="#d3e1f4"/>
<circle cx="321.46" cy="137.16" r="1.7" fill="#d3e1f4"/>
<circle cx="360.64" cy="136.51" r="1.7" fill="#d3e1f4"/>
<circle cx="304.26" cy="121.97" r="1.7" fill="#d3e1f4"/>
<circle cx="304.21" cy="133.15" r="1.7" fill="#d4e1f3"/>
<circle cx="317.73" cy="137.01" r="1.7" fill="#d4e1f3"/>
<circle cx="440.74" cy="91.80" r="1.7" fill="#d4e1f3"/>
<circle cx="315.58" cy="136.85" r="1.7" fill="#d4e1f3"/>
<circle cx="397.32" cy="141.51" r="1.7" fill="#d4e1f3"/>
<circle cx="305.93" cy="134.00" r="1.7" fill="#d4e1f3"/>
<circle cx="341.34" cy="134.84" r="1.7" fill="#d4e1f3"/>
<circle cx="452.71" cy="136.37" r="1.7" fill="#d7e1f2"/>
<circle cx="442.39" cy="92.29" r="1.7" fill="#d7e1f2"/>
<circle cx="303.59" cy="123.59" r="1.7" fill="#d7e1f2"/>
<circle cx="356.24" cy="110.05" r="1.7" fill="#d7e1f2"/>
<circle cx="306.09" cy="133.83" r="1.7" fill="#d7e1f2"/>
<circle cx="444.56" cy="93.05" r="1.7" fill="#d7e1f2"/>
<circle cx="342.72" cy="113.79" r="1.7" fill="#d8e2f1"/>
<circle cx="305.79" cy="121.61" r="1.7" fill="#d8e2f1"/>
<circle cx="306.53" cy="133.66" r="1.7" fill="#d8e2f1"/>
<circle cx="372.15" cy="137.86" r="1.7" fill="#d8e2f1"/>
<circle cx="359.23" cy="109.15" r="1.7" fill="#d8e2f1"/>
<circle cx="313.80" cy="136.01" r="1.7" fill="#d8e2f1"/>
<circle cx="304.83" cy="122.87" r="1.7" fill="#d8e2f1"/>
<circle cx="333.28" cy="114.66" r="1.7" fill="#d8e2f1"/>
<circle cx="303.04" cy="127.69" r="1.7" fill="#d8e2f1"/>
<circle cx="333.07" cy="114.72" r="1.7" fill="#d9e3f0"/>
<circle cx="325.13" cy="135.86" r="1.7" fill="#d9e3f0"/>
<circle cx="327.24" cy="115.02" r="1.7" fill="#d9e3f0"/>
<circle cx="461.86" cy="107.76" r="1.7" fill="#d9e3f0"/>
<circle cx="391.10" cy="96.80" r="1.7" fill="#d9e3f0"/>
<circle cx="306.14" cy="122.09" r="1.7" fill="#d9e3f0"/>
<circle cx="423.00" cy="91.28" r="1.7" fill="#d9e3f0"/>
<circle cx="332.73" cy="114.93" r="1.7" fill="#d9e3f0"/>
<circle cx="361.25" cy="135.33" r="1.7" fill="#dbe3ef"/>
<circle cx="316.02" cy="117.00" r="1.7" fill="#dbe3ef"/>
<circle cx="440.60" cy="92.48" r="1.7" fill="#dbe3ef"/>
<circle cx="305.82" cy="131.93" r="1.7" fill="#dbe3ef"/>
<circle cx="356.16" cy="110.92" r="1.7" fill="#dbe3ef"/>
<circle cx="349.04" cy="133.43" r="1.7" fill="#dbe3ef"/>
<circle cx="307.67" cy="121.13" r="1.7" fill="#dbe3ef"/>
<circle cx="460.00" cy="104.89" r="1.7" fill="#dbe3ef"/>
<circle cx="362.07" cy="108.54" r="1.7" fill="#dbe3ef"/>
<circle cx="455.12" cy="99.27" r="1.7" fill="#dbe3ef"/>
<circle cx="337.48" cy="115.12" r="1.7" fill="#dbe3ef"/>
<circle cx="456.15" cy="100.30" r="1.7" fill="#dce3ee"/>
<circle cx="450.84" cy="136.78" r="1.7" fill="#dce3ee"/>
<circle cx="355.03" cy="133.75" r="1.7" fill="#dce3ee"/>
<circle cx="367.99" cy="136.25" r="1.7" fill="#dce3ee"/>
<circle cx="313.36" cy="118.32" r="1.7" fill="#dce3ee"/>
<circle cx="321.51" cy="116.26" r="1.7" fill="#dce3ee"/>
<circle cx="377.89" cy="101.94" r="1.7" fill="#dce3ee"/>
<circle cx="315.08" cy="117.88" r="1.7" fill="#dde4ed"/>
<circle cx="364.18" cy="135.25" r="1.7" fill="#dde4ed"/>
<circle cx="311.26" cy="119.59" r="1.7" fill="#dde4ed"/>
<circle cx="305.20" cy="125.80" r="1.7" fill="#dde4ed"/>
<circle cx="391.10" cy="97.33" r="1.7" fill="#dde4ed"/>
<circle cx="355.11" cy="112.00" r="1.7" fill="#dde4ed"/>
<circle cx="368.84" cy="105.98" r="1.7" fill="#dde4ed"/>
<circle cx="400.97" cy="94.86" r="1.7" fill="#dee4ec"/>
<circle cx="327.17" cy="134.18" r="1.7" fill="#dee4ec"/>
<circle cx="360.99" cy="109.85" r="1.7" fill="#dee4ec"/>
<circle cx="420.68" cy="142.39" r="1.7" fill="#e0e4eb"/>
<circle cx="313.95" cy="118.97" r="1.7" fill="#e0e4eb"/>
<circle cx="321.80" cy="116.99" r="1.7" fill="#e0e4eb"/>
<circle cx="345.73" cy="115.38" r="1.7" fill="#e0e4eb"/>
<circle cx="346.10" cy="131.75" r="1.7" fill="#e0e4eb"/>
<circle cx="318.22" cy="134.22" r="1.7" fill="#e0e4eb"/>
<circle cx="316.36" cy="134.08" r="1.7" fill="#e0e4eb"/>
<circle cx="392.18" cy="139.47" r="1.7" fill="#e0e4eb"/>
<circle cx="419.89" cy="92.26" r="1.7" fill="#e0e4eb"/>
<circle cx="437.27" cy="141.07" r="1.7" fill="#e0e4eb"/>
<circle cx="455.04" cy="133.54" r="1.7" fill="#e0e4eb"/>
<circle cx="306.61" cy="126.00" r="1.7" fill="#e1e4ea"/>
<circle cx="405.58" cy="94.23" r="1.7" fill="#e1e4ea"/>
<circle cx="309.96" cy="121.61" r="1.7" fill="#e1e4ea"/>
<circle cx="332.91" cy="132.44" r="1.7" fill="#e1e4ea"/>
<circle cx="331.21" cy="132.71" r="1.7" fill="#e1e4ea"/>
<circle cx="328.57" cy="132.82" r="1.7" fill="#e2e4e9"/>
<circle cx="312.84" cy="120.42" r="1.7" fill="#e2e4e9"/>
<circle cx="321.24" cy="133.43" r="1.7" fill="#e2e4e9"/>
<circle cx="324.21" cy="117.45" r="1.7" fill="#e2e4e9"/>
<circle cx="310.88" cy="131.62" r="1.7" fill="#e2e4e9"/>
<circle cx="455.37" cy="101.16" r="1.7" fill="#e3e5e7"/>
<circle cx="334.00" cy="131.61" r="1.7" fill="#e3e5e7"/>
<circle cx="404.98" cy="140.68" r="1.7" fill="#e3e5e7"/>
<circle cx="434.81" cy="141.18" r="1.7" fill="#e3e5e7"/>
<circle cx="335.32" cy="117.40" r="1.7" fill="#e3e5e7"/>
<circle cx="434.63" cy="141.16" r="1.7" fill="#e3e5e7"/>
<circle cx="344.45" cy="116.96" r="1.7" fill="#e3e5e7"/>
<circle cx="398.71" cy="139.81" r="1.7" fill="#e3e5e7"/>
<circle cx="383.86" cy="100.69" r="1.7" fill="#e3e5e7"/>
<circle cx="316.64" cy="119.40" r="1.7" fill="#e3e5e7"/>
<circle cx="373.58" cy="135.69" r="1.7" fill="#e5e6e6"/>
<circle cx="454.60" cy="133.29" r="1.7" fill="#e5e6e6"/>
<circle cx="328.56" cy="132.07" r="1.7" fill="#e5e6e6"/>
<circle cx="344.29" cy="129.88" r="1.7" fill="#e5e6e6"/>
<circle cx="445.25" cy="95.27" r="1.7" fill="#e5e6e6"/>
<circle cx="460.07" cy="107.93" r="1.7" fill="#e5e6e6"/>
<circle cx="346.09" cy="129.72" r="1.7" fill="#e5e6e6"/>
<circle cx="400.16" cy="95.98" r="1.7" fill="#e5e6e6"/>
<circle cx="364.95" cy="109.24" r="1.7" fill="#e5e6e6"/>
<circle cx="382.53" cy="137.14" r="1.7" fill="#e6e5e5"/>
<circle cx="405.59" cy="94.91" r="1.7" fill="#e6e5e5"/>
<circle cx="346.35" cy="129.40" r="1.7" fill="#e6e5e5"/>
<circle cx="336.59" cy="118.28" r="1.7" fill="#e6e5e5"/>
<circle cx="344.46" cy="117.78" r="1.7" fill="#e6e5e5"/>
<circle cx="336.60" cy="118.40" r="1.7" fill="#e6e5e5"/>
<circle cx="355.48" cy="130.75" r="1.7" fill="#e6e5e5"/>
<circle cx="310.41" cy="124.69" r="1.7" fill="#e6e5e5"/>
<circle cx="413.25" cy="93.82" r="1.7" fill="#e6e5e5"/>
<circle cx="380.28" cy="136.53" r="1.7" fill="#e6e5e5"/>
<circle cx="324.98" cy="118.64" r="1.7" fill="#e6e5e5"/>
<circle cx="370.90" cy="106.76" r="1.7" fill="#e7e5e3"/>
<circle cx="426.57" cy="92.99" r="1.7" fill="#e7e5e3"/>
<circle cx="330.97" cy="118.85" r="1.7" fill="#e7e5e3"/>
<circle cx="364.57" cy="132.77" r="1.7" fill="#e7e5e3"/>
<circle cx="337.29" cy="129.06" r="1.7" fill="#e7e5e3"/>
<circle cx="334.50" cy="129.60" r="1.7" fill="#e7e5e3"/>
<circle cx="312.06" cy="128.97" r="1.7" fill="#e8e3e1"/>
<circle cx="323.59" cy="131.24" r="1.7" fill="#e8e3e1"/>
<circle cx="328.98" cy="119.07" r="1.7" fill="#e8e3e1"/>
<circle cx="311.19" cy="126.69" r="1.7" fill="#e8e3e1"/>
<circle cx="322.18" cy="119.55" r="1.7" fill="#e8e3e1"/>
<circle cx="318.73" cy="120.32" r="1.7" fill="#e8e3e1"/>
<circle cx="322.98" cy="131.12" r="1.7" fill="#e8e3e1"/>
<circle cx="386.00" cy="137.17" r="1.7" fill="#e8e3e1"/>
<circle cx="337.80" cy="128.29" r="1.7" fill="#e8e3e1"/>
<circle cx="315.40" cy="130.00" r="1.7" fill="#e9e3e0"/>
<circle cx="326.77" cy="130.29" r="1.7" fill="#e9e3e0"/>
<circle cx="325.71" cy="119.67" r="1.7" fill="#e9e3e0"/>
<circle cx="315.30" cy="129.78" r="1.7" fill="#e9e3e0"/>
<circle cx="352.76" cy="116.58" r="1.7" fill="#e9e3e0"/>
<circle cx="339.65" cy="120.31" r="1.7" fill="#e9e3e0"/>
<circle cx="314.45" cy="128.85" r="1.7" fill="#eae2dd"/>
<circle cx="318.79" cy="121.11" r="1.7" fill="#eae2dd"/>
<circle cx="319.75" cy="130.20" r="1.7" fill="#eae2dd"/>
<circle cx="355.81" cy="129.25" r="1.7" fill="#eae2dd"/>
<circle cx="459.23" cy="127.46" r="1.7" fill="#eae2dd"/>
<circle cx="347.61" cy="126.83" r="1.7" fill="#eae2dd"/>
<circle cx="326.10" cy="129.80" r="1.7" fill="#eae2dd"/>
<circle cx="333.55" cy="128.14" r="1.7" fill="#eae2dd"/>
<circle cx="425.30" cy="141.18" r="1.7" fill="#eae2dd"/>
<circle cx="378.80" cy="103.84" r="1.7" fill="#eae2dd"/>
<circle cx="315.26" cy="123.45" r="1.7" fill="#eae2dd"/>
<circle cx="362.30" cy="112.01" r="1.7" fill="#eae2dd"/>
<circle cx="402.51" cy="96.30" r="1.7" fill="#eae2dd"/>
<circle cx="432.22" cy="93.77" r="1.7" fill="#ebe2dc"/>
<circle cx="317.78" cy="122.32" r="1.7" fill="#ebe2dc"/>
<circle cx="343.84" cy="124.71" r="1.7" fill="#ebe2dc"/>
<circle cx="348.90" cy="119.80" r="1.7" fill="#ebe2dc"/>
<circle cx="345.66" cy="121.49" r="1.7" fill="#ebe2dc"/>
<circle cx="373.96" cy="106.19" r="1.7" fill="#ebe2dc"/>
<circle cx="359.67" cy="129.97" r="1.7" fill="#ebe2dc"/>
<circle cx="345.68" cy="125.01" r="1.7" fill="#ebe2dc"/>
<circle cx="345.82" cy="125.06" r="1.7" fill="#ebe2dc"/>
<circle cx="350.68" cy="126.74" r="1.7" fill="#ebe2dc"/>
<circle cx="321.64" cy="121.40" r="1.7" fill="#ebe2dc"/>
<circle cx="408.60" cy="140.00" r="1.7" fill="#ebe2dc"/>
<circle cx="338.53" cy="124.77" r="1.7" fill="#ebe2dc"/>
<circle cx="336.82" cy="122.76" r="1.7" fill="#ebe2dc"/>
<circle cx="315.44" cy="126.97" r="1.7" fill="#ebe2dc"/>
<circle cx="347.86" cy="125.19" r="1.7" fill="#ece1da"/>
<circle cx="430.49" cy="93.80" r="1.7" fill="#ece1da"/>
<circle cx="422.96" cy="93.81" r="1.7" fill="#ece1da"/>
<circle cx="387.44" cy="136.75" r="1.7" fill="#ece1da"/>
<circle cx="364.32" cy="111.25" r="1.7" fill="#ece1da"/>
<circle cx="351.54" cy="119.07" r="1.7" fill="#ece1da"/>
<circle cx="322.48" cy="121.84" r="1.7" fill="#ece1da"/>
<circle cx="319.77" cy="122.58" r="1.7" fill="#ece1da"/>
<circle cx="375.66" cy="134.25" r="1.7" fill="#ece1da"/>
<circle cx="322.77" cy="121.94" r="1.7" fill="#ece1da"/>
<circle cx="390.21" cy="137.08" r="1.7" fill="#ece1da"/>
<circle cx="319.55" cy="122.88" r="1.7" fill="#ece1da"/>
<circle cx="369.19" cy="108.89" r="1.7" fill="#ede1d9"/>
<circle cx="459.35" cy="126.45" r="1.7" fill="#ede1d9"/>
<circle cx="332.35" cy="124.73" r="1.7" fill="#ede1d9"/>
<circle cx="461.12" cy="114.78" r="1.7" fill="#ede1d9"/>
<circle cx="364.26" cy="130.82" r="1.7" fill="#ede1d9"/>
<circle cx="331.20" cy="123.51" r="1.7" fill="#ede1d9"/>
<circle cx="329.87" cy="123.06" r="1.7" fill="#ede1d9"/>
<circle cx="321.86" cy="122.85" r="1.7" fill="#ede1d9"/>
<circle cx="325.30" cy="127.31" r="1.7" fill="#ede1d9"/>
<circle cx="355.17" cy="117.45" r="1.7" fill="#ede1d9"/>
<circle cx="318.61" cy="125.39" r="1.7" fill="#ede1d9"/>
<circle cx="395.18" cy="98.65" r="1.7" fill="#eedfd7"/>
<circle cx="319.65" cy="125.75" r="1.7" fill="#eedfd7"/>
<circle cx="352.98" cy="125.50" r="1.7" fill="#eedfd7"/>
<circle cx="322.71" cy="123.61" r="1.7" fill="#eedfd7"/>
<circle cx="323.94" cy="124.11" r="1.7" fill="#eedfd7"/>
<circle cx="324.03" cy="124.14" r="1.7" fill="#eedfd7"/>
<circle cx="452.31" cy="101.18" r="1.7" fill="#eedfd7"/>
<circle cx="365.25" cy="130.64" r="1.7" fill="#efded5"/>
<circle cx="364.73" cy="112.27" r="1.7" fill="#f0ded4"/>
<circle cx="353.85" cy="121.21" r="1.7" fill="#f0ded4"/>
<circle cx="430.90" cy="94.66" r="1.7" fill="#f1ddd1"/>
<circle cx="362.86" cy="128.72" r="1.7" fill="#f1ddd1"/>
<circle cx="422.67" cy="140.25" r="1.7" fill="#f2dbd0"/>
<circle cx="370.85" cy="131.42" r="1.7" fill="#f2dbd0"/>
<circle cx="452.49" cy="102.24" r="1.7" fill="#f2dbd0"/>
<circle cx="460.37" cy="121.32" r="1.7" fill="#f2dbd0"/>
<circle cx="386.60" cy="102.40" r="1.7" fill="#f3dbce"/>
<circle cx="364.74" cy="128.81" r="1.7" fill="#f3dbce"/>
<circle cx="386.60" cy="135.08" r="1.7" fill="#f3dbce"/>
<circle cx="357.64" cy="123.71" r="1.7" fill="#f3dbce"/>
<circle cx="366.82" cy="112.20" r="1.7" fill="#f3dacc"/>
<circle cx="432.46" cy="95.29" r="1.7" fill="#f3dacc"/>
<circle cx="373.97" cy="131.89" r="1.7" fill="#f3dacc"/>
<circle cx="426.34" cy="95.14" r="1.7" fill="#f3dacc"/>
<circle cx="459.29" cy="113.22" r="1.7" fill="#f4d9ca"/>
<circle cx="373.20" cy="131.37" r="1.7" fill="#f4d9ca"/>
<circle cx="358.61" cy="122.41" r="1.7" fill="#f4d9ca"/>
<circle cx="433.29" cy="139.23" r="1.7" fill="#f4d9ca"/>
<circle cx="395.16" cy="100.03" r="1.7" fill="#f5d9c9"/>
<circle cx="400.29" cy="98.79" r="1.7" fill="#f5d9c9"/>
<circle cx="389.09" cy="102.14" r="1.7" fill="#f6d8c6"/>
<circle cx="372.79" cy="109.60" r="1.7" fill="#f6d8c6"/>
<circle cx="426.52" cy="95.70" r="1.7" fill="#f6d6c5"/>
<circle cx="416.33" cy="96.28" r="1.7" fill="#f6d6c5"/>
<circle cx="418.91" cy="96.06" r="1.7" fill="#f6d6c5"/>
<circle cx="402.89" cy="137.22" r="1.7" fill="#f6d6c5"/>
<circle cx="369.96" cy="111.63" r="1.7" fill="#f6d6c5"/>
<circle cx="459.06" cy="122.35" r="1.7" fill="#f8d5c3"/>
<circle cx="457.55" cy="110.72" r="1.7" fill="#f8d5c3"/>
<circle cx="447.38" cy="134.69" r="1.7" fill="#f8d5c3"/>
<circle cx="361.99" cy="123.64" r="1.7" fill="#f8d5c3"/>
<circle cx="361.30" cy="121.02" r="1.7" fill="#f8d5c3"/>
<circle cx="361.60" cy="119.92" r="1.7" fill="#f8d5c3"/>
<circle cx="361.66" cy="120.11" r="1.7" fill="#f8d5c3"/>
<circle cx="362.12" cy="119.73" r="1.7" fill="#f9d4c2"/>
<circle cx="428.56" cy="96.13" r="1.7" fill="#f9d4c2"/>
<circle cx="363.76" cy="117.70" r="1.7" fill="#f9d4c2"/>
<circle cx="389.27" cy="102.89" r="1.7" fill="#f9d3bf"/>
<circle cx="449.98" cy="102.43" r="1.7" fill="#f9d3bf"/>
<circle cx="381.60" cy="132.18" r="1.7" fill="#fad2bd"/>
<circle cx="373.42" cy="129.41" r="1.7" fill="#fad2bd"/>
<circle cx="400.79" cy="99.72" r="1.7" fill="#fbd1bc"/>
<circle cx="449.82" cy="102.65" r="1.7" fill="#fbd1bc"/>
<circle cx="450.26" cy="103.11" r="1.7" fill="#fbd1bc"/>
<circle cx="409.45" cy="98.13" r="1.7" fill="#fbd0b9"/>
<circle cx="407.80" cy="98.58" r="1.7" fill="#fccfb8"/>
<circle cx="457.21" cy="124.40" r="1.7" fill="#fccfb8"/>
<circle cx="377.19" cy="109.10" r="1.7" fill="#fccfb8"/>
<circle cx="365.82" cy="122.65" r="1.7" fill="#fccfb8"/>
<circle cx="365.48" cy="120.21" r="1.7" fill="#fccfb8"/>
<circle cx="406.18" cy="98.96" r="1.7" fill="#fccfb8"/>
<circle cx="371.80" cy="127.59" r="1.7" fill="#fccfb8"/>
<circle cx="378.20" cy="108.81" r="1.7" fill="#fcceb6"/>
<circle cx="448.54" cy="132.99" r="1.7" fill="#fcceb6"/>
<circle cx="379.01" cy="130.31" r="1.7" fill="#fcceb6"/>
<circle cx="456.45" cy="111.52" r="1.7" fill="#fcceb6"/>
<circle cx="408.54" cy="136.97" r="1.7" fill="#fcceb6"/>
<circle cx="399.16" cy="100.73" r="1.7" fill="#fcceb6"/>
<circle cx="436.63" cy="97.98" r="1.7" fill="#fcceb6"/>
<circle cx="452.88" cy="106.37" r="1.7" fill="#fccdb5"/>
<circle cx="370.50" cy="114.16" r="1.7" fill="#fccdb5"/>
<circle cx="458.10" cy="119.28" r="1.7" fill="#fccdb5"/>
<circle cx="368.85" cy="124.98" r="1.7" fill="#fccdb5"/>
<circle cx="406.75" cy="136.53" r="1.7" fill="#fccdb5"/>
<circle cx="419.19" cy="97.48" r="1.7" fill="#fccdb5"/>
<circle cx="386.97" cy="104.95" r="1.7" fill="#fccdb5"/>
<circle cx="397.42" cy="134.68" r="1.7" fill="#fccdb5"/>
<circle cx="372.62" cy="112.76" r="1.7" fill="#fdccb2"/>
<circle cx="445.48" cy="134.35" r="1.7" fill="#fdccb2"/>
<circle cx="377.96" cy="109.48" r="1.7" fill="#fdccb2"/>
<circle cx="444.19" cy="100.59" r="1.7" fill="#fdccb2"/>
<circle cx="453.50" cy="128.77" r="1.7" fill="#fdcab1"/>
<circle cx="395.69" cy="134.10" r="1.7" fill="#fdcab1"/>
<circle cx="368.38" cy="123.32" r="1.7" fill="#fdcab1"/>
<circle cx="424.10" cy="97.52" r="1.7" fill="#fdcab1"/>
<circle cx="367.79" cy="119.24" r="1.7" fill="#fdcab1"/>
<circle cx="455.42" cy="110.68" r="1.7" fill="#fdcab1"/>
<circle cx="449.88" cy="104.17" r="1.7" fill="#fdcab1"/>
<circle cx="419.52" cy="137.86" r="1.7" fill="#fdcab1"/>
<circle cx="369.75" cy="124.39" r="1.7" fill="#fdcab1"/>
<circle cx="457.44" cy="121.21" r="1.7" fill="#fdcab1"/>
<circle cx="373.40" cy="126.91" r="1.7" fill="#fdcab1"/>
<circle cx="376.98" cy="128.46" r="1.7" fill="#fec9af"/>
<circle cx="457.42" cy="118.66" r="1.7" fill="#fec8ad"/>
<circle cx="369.05" cy="122.18" r="1.7" fill="#fec8ad"/>
<circle cx="378.36" cy="128.48" r="1.7" fill="#ffc7ab"/>
<circle cx="433.22" cy="98.43" r="1.7" fill="#ffc7ab"/>
<circle cx="401.12" cy="101.32" r="1.7" fill="#ffc4a9"/>
<circle cx="456.46" cy="122.50" r="1.7" fill="#ffc4a9"/>
<circle cx="400.38" cy="101.62" r="1.7" fill="#ffc4a9"/>
<circle cx="381.57" cy="108.78" r="1.7" fill="#ffc4a9"/>
<circle cx="372.92" cy="115.10" r="1.7" fill="#ffc3a8"/>
<circle cx="455.67" cy="124.16" r="1.7" fill="#ffc3a8"/>
<circle cx="396.78" cy="102.78" r="1.7" fill="#ffc3a8"/>
<circle cx="429.49" cy="137.33" r="1.7" fill="#ffc3a8"/>
<circle cx="378.70" cy="110.67" r="1.7" fill="#ffc3a8"/>
<circle cx="376.47" cy="112.23" r="1.7" fill="#ffc3a8"/>
<circle cx="379.98" cy="110.06" r="1.7" fill="#ffc2a6"/>
<circle cx="378.82" cy="110.98" r="1.7" fill="#ffc0a4"/>
<circle cx="451.19" cy="107.01" r="1.7" fill="#ffc0a4"/>
<circle cx="392.65" cy="104.67" r="1.7" fill="#ffbfa2"/>
<circle cx="442.38" cy="134.36" r="1.7" fill="#ffbfa2"/>
<circle cx="374.19" cy="115.54" r="1.7" fill="#ffbfa2"/>
<circle cx="452.06" cy="128.34" r="1.7" fill="#ffbe9f"/>
<circle cx="381.07" cy="110.17" r="1.7" fill="#ffbe9f"/>
<circle cx="455.90" cy="121.06" r="1.7" fill="#ffbe9f"/>
<circle cx="403.91" cy="101.66" r="1.7" fill="#ffbe9f"/>
<circle cx="451.31" cy="107.99" r="1.7" fill="#ffbc9d"/>
<circle cx="430.87" cy="99.31" r="1.7" fill="#ffbc9d"/>
<circle cx="446.91" cy="104.21" r="1.7" fill="#ffbc9d"/>
<circle cx="398.00" cy="132.72" r="1.7" fill="#ffbc9d"/>
<circle cx="450.69" cy="129.28" r="1.7" fill="#ffbc9d"/>
<circle cx="403.30" cy="102.01" r="1.7" fill="#ffba9b"/>
<circle cx="441.54" cy="134.30" r="1.7" fill="#ffba9b"/>
<circle cx="381.77" cy="127.45" r="1.7" fill="#ffba9b"/>
<circle cx="375.24" cy="115.93" r="1.7" fill="#ffba9b"/>
<circle cx="402.48" cy="133.54" r="1.7" fill="#ffba9b"/>
<circle cx="394.70" cy="104.64" r="1.7" fill="#ffba9b"/>
<circle cx="444.81" cy="132.85" r="1.7" fill="#ffb99a"/>
<circle cx="374.36" cy="117.64" r="1.7" fill="#ffb99a"/>
<circle cx="375.13" cy="116.29" r="1.7" fill="#ffb99a"/>
<circle cx="435.00" cy="100.15" r="1.7" fill="#ffb99a"/>
<circle cx="388.67" cy="129.86" r="1.7" fill="#ffb99a"/>
<circle cx="415.59" cy="135.96" r="1.7" fill="#ffb99a"/>
<circle cx="386.27" cy="129.06" r="1.7" fill="#ffb99a"/>
<circle cx="417.29" cy="136.11" r="1.7" fill="#ffb99a"/>
<circle cx="403.82" cy="102.21" r="1.7" fill="#ffb99a"/>
<circle cx="374.44" cy="120.17" r="1.7" fill="#ffb798"/>
<circle cx="374.97" cy="117.69" r="1.7" fill="#ffb798"/>
<circle cx="412.63" cy="135.33" r="1.7" fill="#ffb798"/>
<circle cx="449.36" cy="106.95" r="1.7" fill="#ffb798"/>
<circle cx="412.28" cy="135.24" r="1.7" fill="#ffb798"/>
<circle cx="388.12" cy="107.63" r="1.7" fill="#ffb798"/>
<circle cx="425.17" cy="136.43" r="1.7" fill="#ffb697"/>
<circle cx="378.75" cy="125.05" r="1.7" fill="#ffb697"/>
<circle cx="455.11" cy="118.52" r="1.7" fill="#ffb697"/>
<circle cx="403.52" cy="102.67" r="1.7" fill="#ffb494"/>
<circle cx="387.38" cy="128.68" r="1.7" fill="#ffb494"/>
<circle cx="383.27" cy="126.97" r="1.7" fill="#ffb494"/>
<circle cx="378.85" cy="124.42" r="1.7" fill="#ffb494"/>
<circle cx="379.20" cy="124.66" r="1.7" fill="#ffb494"/>
<circle cx="413.16" cy="135.06" r="1.7" fill="#ffb494"/>
<circle cx="433.83" cy="135.58" r="1.7" fill="#ffb392"/>
<circle cx="407.14" cy="102.06" r="1.7" fill="#ffb392"/>
<circle cx="391.62" cy="129.80" r="1.7" fill="#ffb392"/>
<circle cx="420.07" cy="100.35" r="1.7" fill="#ffb392"/>
<circle cx="396.74" cy="131.23" r="1.7" fill="#ffb392"/>
<circle cx="376.67" cy="120.55" r="1.7" fill="#ffb291"/>
<circle cx="442.84" cy="132.97" r="1.7" fill="#ffb291"/>
<circle cx="424.34" cy="135.96" r="1.7" fill="#ffb291"/>
<circle cx="411.20" cy="134.38" r="1.7" fill="#ffb08f"/>
<circle cx="378.17" cy="116.24" r="1.7" fill="#ffb08f"/>
<circle cx="377.46" cy="119.50" r="1.7" fill="#ffb08f"/>
<circle cx="453.73" cy="122.44" r="1.7" fill="#ffae8d"/>
<circle cx="450.56" cy="127.57" r="1.7" fill="#ffae8d"/>
<circle cx="430.56" cy="135.46" r="1.7" fill="#ffad8b"/>
<circle cx="397.29" cy="130.52" r="1.7" fill="#ffab8a"/>
<circle cx="440.01" cy="133.47" r="1.7" fill="#ffab8a"/>
<circle cx="408.17" cy="133.22" r="1.7" fill="#ffab8a"/>
<circle cx="419.30" cy="101.26" r="1.7" fill="#ffab8a"/>
<circle cx="382.11" cy="113.70" r="1.7" fill="#ffab8a"/>
<circle cx="399.46" cy="105.08" r="1.7" fill="#ffaa88"/>
<circle cx="379.30" cy="119.77" r="1.7" fill="#ffaa88"/>
<circle cx="402.09" cy="131.57" r="1.7" fill="#ffaa88"/>
<circle cx="434.58" cy="134.66" r="1.7" fill="#ffaa88"/>
<circle cx="452.49" cy="124.01" r="1.7" fill="#ffaa88"/>
<circle cx="381.74" cy="114.66" r="1.7" fill="#ffa885"/>
<circle cx="397.06" cy="129.90" r="1.7" fill="#ffa885"/>
<circle cx="444.12" cy="131.39" r="1.7" fill="#ffa684"/>
<circle cx="449.48" cy="109.97" r="1.7" fill="#ffa684"/>
<circle cx="388.98" cy="126.87" r="1.7" fill="#ffa684"/>
<circle cx="453.14" cy="120.91" r="1.7" fill="#ffa684"/>
<circle cx="391.27" cy="108.83" r="1.7" fill="#ffa684"/>
<circle cx="394.36" cy="107.55" r="1.7" fill="#ffa582"/>
<circle cx="422.09" cy="101.70" r="1.7" fill="#ffa582"/>
<circle cx="394.60" cy="128.72" r="1.7" fill="#ffa582"/>
<circle cx="445.21" cy="106.60" r="1.7" fill="#ffa582"/>
<circle cx="452.07" cy="123.63" r="1.7" fill="#ffa582"/>
<circle cx="429.75" cy="134.78" r="1.7" fill="#ffa381"/>
<circle cx="382.82" cy="115.42" r="1.7" fill="#ffa381"/>
<circle cx="452.12" cy="115.24" r="1.7" fill="#ffa381"/>
<circle cx="382.59" cy="121.29" r="1.7" fill="#ffa37f"/>
<circle cx="442.07" cy="105.16" r="1.7" fill="#ffa37f"/>
<circle cx="436.82" cy="133.48" r="1.7" fill="#ffa07e"/>
<circle cx="392.80" cy="127.43" r="1.7" fill="#ffa07e"/>
<circle cx="383.93" cy="122.30" r="1.7" fill="#ffa07e"/>
<circle cx="432.30" cy="134.22" r="1.7" fill="#ffa07e"/>
<circle cx="382.64" cy="117.93" r="1.7" fill="#ffa07e"/>
<circle cx="431.98" cy="102.74" r="1.7" fill="#ff9f7c"/>
<circle cx="410.63" cy="103.76" r="1.7" fill="#ff9f7c"/>
<circle cx="436.96" cy="103.78" r="1.7" fill="#ff9f7c"/>
<circle cx="383.60" cy="116.79" r="1.7" fill="#ff9f7c"/>
<circle cx="394.55" cy="108.64" r="1.7" fill="#ff9e7a"/>
<circle cx="449.34" cy="111.54" r="1.7" fill="#ff9e7a"/>
<circle cx="399.49" cy="129.23" r="1.7" fill="#ff9e7a"/>
<circle cx="401.72" cy="106.10" r="1.7" fill="#ff9e7a"/>
<circle cx="452.15" cy="118.98" r="1.7" fill="#ff9e7a"/>
<circle cx="442.52" cy="106.06" r="1.7" fill="#ff9e7a"/>
<circle cx="434.75" cy="133.56" r="1.7" fill="#ff9e7a"/>
<circle cx="404.62" cy="105.61" r="1.7" fill="#ff9a77"/>
<circle cx="386.45" cy="122.43" r="1.7" fill="#ff9a77"/>
<circle cx="435.70" cy="133.15" r="1.7" fill="#ff9a77"/>
<circle cx="440.66" cy="131.70" r="1.7" fill="#ff9a77"/>
<circle cx="451.22" cy="122.41" r="1.7" fill="#ff9a77"/>
<circle cx="389.52" cy="124.44" r="1.7" fill="#ff9a77"/>
<circle cx="451.65" cy="119.68" r="1.7" fill="#ff9a77"/>
<circle cx="421.14" cy="103.16" r="1.7" fill="#ff9976"/>
<circle cx="426.93" cy="133.89" r="1.7" fill="#ff9976"/>
<circle cx="415.37" cy="132.78" r="1.7" fill="#ff9976"/>
<circle cx="393.06" cy="110.49" r="1.7" fill="#fe9773"/>
<circle cx="391.31" cy="111.70" r="1.7" fill="#fe9773"/>
<circle cx="451.22" cy="118.84" r="1.7" fill="#fe9572"/>
<circle cx="390.52" cy="112.39" r="1.7" fill="#fe9572"/>
<circle cx="392.31" cy="111.29" r="1.7" fill="#fe9572"/>
<circle cx="402.11" cy="128.73" r="1.7" fill="#fd9370"/>
<circle cx="387.36" cy="116.69" r="1.7" fill="#fd9370"/>
<circle cx="388.22" cy="121.27" r="1.7" fill="#fd916f"/>
<circle cx="387.56" cy="116.67" r="1.7" fill="#fd916f"/>
<circle cx="390.12" cy="122.81" r="1.7" fill="#fd916f"/>
<circle cx="403.90" cy="128.89" r="1.7" fill="#fd906d"/>
<circle cx="412.88" cy="131.39" r="1.7" fill="#fc8e6c"/>
<circle cx="433.71" cy="104.82" r="1.7" fill="#fc8e6c"/>
<circle cx="442.74" cy="129.60" r="1.7" fill="#fc8c69"/>
<circle cx="444.57" cy="128.48" r="1.7" fill="#fc8c69"/>
<circle cx="437.65" cy="131.59" r="1.7" fill="#fc8c69"/>
<circle cx="389.14" cy="119.79" r="1.7" fill="#fc8c69"/>
<circle cx="445.16" cy="110.09" r="1.7" fill="#fc8c69"/>
<circle cx="405.80" cy="129.17" r="1.7" fill="#fc8c69"/>
<circle cx="421.62" cy="104.48" r="1.7" fill="#fc8c69"/>
<circle cx="442.12" cy="108.18" r="1.7" fill="#fb8b68"/>
<circle cx="449.94" cy="119.62" r="1.7" fill="#fb8b68"/>
<circle cx="426.46" cy="104.53" r="1.7" fill="#fb8b68"/>
<circle cx="412.55" cy="130.89" r="1.7" fill="#fb8b68"/>
<circle cx="390.04" cy="119.88" r="1.7" fill="#fb8b68"/>
<circle cx="395.45" cy="111.57" r="1.7" fill="#fb8b68"/>
<circle cx="399.86" cy="126.45" r="1.7" fill="#fb8866"/>
<circle cx="399.25" cy="109.89" r="1.7" fill="#fb8866"/>
<circle cx="448.96" cy="122.81" r="1.7" fill="#fb8866"/>
<circle cx="436.01" cy="131.66" r="1.7" fill="#fb8866"/>
<circle cx="447.05" cy="112.76" r="1.7" fill="#fb8866"/>
<circle cx="448.56" cy="123.54" r="1.7" fill="#fb8866"/>
<circle cx="396.21" cy="111.63" r="1.7" fill="#fa8665"/>
<circle cx="431.69" cy="132.32" r="1.7" fill="#fa8665"/>
<circle cx="440.65" cy="107.91" r="1.7" fill="#fa8665"/>
<circle cx="395.32" cy="112.25" r="1.7" fill="#fa8665"/>
<circle cx="421.66" cy="105.01" r="1.7" fill="#fa8665"/>
<circle cx="448.37" cy="115.18" r="1.7" fill="#fa8665"/>
<circle cx="415.63" cy="131.15" r="1.7" fill="#fa8563"/>
<circle cx="402.31" cy="109.13" r="1.7" fill="#fa8563"/>
<circle cx="398.93" cy="125.51" r="1.7" fill="#fa8563"/>
<circle cx="391.32" cy="118.96" r="1.7" fill="#fa8563"/>
<circle cx="402.45" cy="127.01" r="1.7" fill="#fa8563"/>
<circle cx="394.01" cy="122.27" r="1.7" fill="#f98362"/>
<circle cx="391.84" cy="118.74" r="1.7" fill="#f98362"/>
<circle cx="448.97" cy="119.84" r="1.7" fill="#f98362"/>
<circle cx="392.40" cy="119.86" r="1.7" fill="#f98362"/>
<circle cx="428.43" cy="132.21" r="1.7" fill="#f98362"/>
<circle cx="393.46" cy="114.92" r="1.7" fill="#f98362"/>
<circle cx="448.78" cy="117.87" r="1.7" fill="#f98362"/>
<circle cx="407.96" cy="107.72" r="1.7" fill="#f98362"/>
<circle cx="438.45" cy="107.52" r="1.7" fill="#f8815f"/>
<circle cx="427.67" cy="105.47" r="1.7" fill="#f8815f"/>
<circle cx="399.48" cy="125.10" r="1.7" fill="#f8815f"/>
<circle cx="393.94" cy="121.17" r="1.7" fill="#f8815f"/>
<circle cx="396.69" cy="123.26" r="1.7" fill="#f87e5e"/>
<circle cx="409.76" cy="107.59" r="1.7" fill="#f87e5e"/>
<circle cx="393.89" cy="115.55" r="1.7" fill="#f87e5e"/>
<circle cx="431.73" cy="106.10" r="1.7" fill="#f87e5e"/>
<circle cx="448.53" cy="119.43" r="1.7" fill="#f87e5e"/>
<circle cx="443.10" cy="110.46" r="1.7" fill="#f87e5e"/>
<circle cx="397.83" cy="112.56" r="1.7" fill="#f67d5c"/>
<circle cx="446.96" cy="114.85" r="1.7" fill="#f67d5c"/>
<circle cx="422.18" cy="105.94" r="1.7" fill="#f67d5c"/>
<circle cx="447.53" cy="115.99" r="1.7" fill="#f67d5c"/>
<circle cx="426.80" cy="131.82" r="1.7" fill="#f67d5c"/>
<circle cx="432.95" cy="106.54" r="1.7" fill="#f67d5c"/>
<circle cx="448.23" cy="120.16" r="1.7" fill="#f67d5c"/>
<circle cx="411.85" cy="107.49" r="1.7" fill="#f67d5c"/>
<circle cx="432.90" cy="131.33" r="1.7" fill="#f57b5b"/>
<circle cx="398.90" cy="123.47" r="1.7" fill="#f57959"/>
<circle cx="421.03" cy="106.43" r="1.7" fill="#f57959"/>
<circle cx="426.27" cy="106.29" r="1.7" fill="#f57959"/>
<circle cx="396.10" cy="115.42" r="1.7" fill="#f57959"/>
<circle cx="443.37" cy="127.09" r="1.7" fill="#f47758"/>
<circle cx="429.49" cy="106.54" r="1.7" fill="#f47758"/>
<circle cx="444.50" cy="125.82" r="1.7" fill="#f37455"/>
<circle cx="447.19" cy="118.48" r="1.7" fill="#f37455"/>
<circle cx="420.81" cy="106.95" r="1.7" fill="#f37455"/>
<circle cx="443.09" cy="112.04" r="1.7" fill="#f27354"/>
<circle cx="415.45" cy="129.29" r="1.7" fill="#f27152"/>
<circle cx="439.01" cy="109.71" r="1.7" fill="#f27152"/>
<circle cx="425.17" cy="107.08" r="1.7" fill="#f27152"/>
<circle cx="397.75" cy="118.32" r="1.7" fill="#f27152"/>
<circle cx="415.94" cy="108.08" r="1.7" fill="#f16f51"/>
<circle cx="442.59" cy="126.56" r="1.7" fill="#f16f51"/>
<circle cx="421.19" cy="130.12" r="1.7" fill="#f06d50"/>
<circle cx="401.66" cy="113.65" r="1.7" fill="#f06d50"/>
<circle cx="427.20" cy="130.49" r="1.7" fill="#ef6a4e"/>
<circle cx="439.52" cy="110.71" r="1.7" fill="#ef6a4e"/>
<circle cx="401.30" cy="121.48" r="1.7" fill="#ef6a4e"/>
<circle cx="412.17" cy="127.45" r="1.7" fill="#ef6a4e"/>
<circle cx="408.97" cy="110.59" r="1.7" fill="#ef6a4e"/>
<circle cx="401.37" cy="121.36" r="1.7" fill="#ee684d"/>
<circle cx="443.28" cy="125.36" r="1.7" fill="#ee684d"/>
<circle cx="435.65" cy="129.31" r="1.7" fill="#ee684d"/>
<circle cx="405.65" cy="112.07" r="1.7" fill="#ee684d"/>
<circle cx="409.96" cy="126.37" r="1.7" fill="#ee684d"/>
<circle cx="404.50" cy="123.40" r="1.7" fill="#ee684d"/>
<circle cx="425.37" cy="130.01" r="1.7" fill="#ed664b"/>
<circle cx="405.88" cy="123.91" r="1.7" fill="#ed664b"/>
<circle cx="401.36" cy="116.76" r="1.7" fill="#ec644a"/>
<circle cx="444.56" cy="116.36" r="1.7" fill="#ec644a"/>
<circle cx="442.33" cy="125.53" r="1.7" fill="#ec644a"/>
<circle cx="404.98" cy="113.64" r="1.7" fill="#ec6348"/>
<circle cx="440.75" cy="112.52" r="1.7" fill="#ec6348"/>
<circle cx="404.81" cy="113.95" r="1.7" fill="#ec6348"/>
<circle cx="403.50" cy="115.10" r="1.7" fill="#ec6348"/>
<circle cx="430.44" cy="129.61" r="1.7" fill="#ec6348"/>
<circle cx="428.09" cy="108.71" r="1.7" fill="#ec6348"/>
<circle cx="442.45" cy="114.36" r="1.7" fill="#eb6146"/>
<circle cx="404.86" cy="114.49" r="1.7" fill="#eb6146"/>
<circle cx="433.25" cy="109.61" r="1.7" fill="#eb6146"/>
<circle cx="427.49" cy="108.90" r="1.7" fill="#eb6146"/>
<circle cx="444.50" cy="120.70" r="1.7" fill="#ea5e45"/>
<circle cx="442.05" cy="124.90" r="1.7" fill="#ea5e45"/>
<circle cx="443.53" cy="123.06" r="1.7" fill="#ea5e45"/>
<circle cx="403.92" cy="119.88" r="1.7" fill="#ea5e45"/>
<circle cx="405.01" cy="121.36" r="1.7" fill="#ea5e45"/>
<circle cx="405.86" cy="114.68" r="1.7" fill="#e95c43"/>
<circle cx="434.15" cy="110.40" r="1.7" fill="#e95c43"/>
<circle cx="440.87" cy="125.49" r="1.7" fill="#e85a42"/>
<circle cx="407.10" cy="114.20" r="1.7" fill="#e85a42"/>
<circle cx="406.05" cy="115.42" r="1.7" fill="#e85a42"/>
<circle cx="422.88" cy="128.61" r="1.7" fill="#e85a42"/>
<circle cx="439.84" cy="125.85" r="1.7" fill="#e75841"/>
<circle cx="414.93" cy="111.28" r="1.7" fill="#e75841"/>
<circle cx="405.62" cy="119.41" r="1.7" fill="#e75841"/>
<circle cx="413.69" cy="111.70" r="1.7" fill="#e75841"/>
<circle cx="442.36" cy="123.26" r="1.7" fill="#e75841"/>
<circle cx="429.63" cy="110.03" r="1.7" fill="#e75841"/>
<circle cx="434.44" cy="128.00" r="1.7" fill="#e6563f"/>
<circle cx="421.75" cy="127.92" r="1.7" fill="#e5543e"/>
<circle cx="406.95" cy="116.96" r="1.7" fill="#e5543e"/>
<circle cx="407.27" cy="119.81" r="1.7" fill="#e5543e"/>
<circle cx="414.09" cy="112.27" r="1.7" fill="#e5543e"/>
<circle cx="407.39" cy="119.41" r="1.7" fill="#e3503d"/>
<circle cx="409.55" cy="115.02" r="1.7" fill="#e3503d"/>
<circle cx="437.62" cy="126.27" r="1.7" fill="#e3503d"/>
<circle cx="440.43" cy="124.29" r="1.7" fill="#e3503d"/>
<circle cx="423.04" cy="110.82" r="1.7" fill="#e24e3b"/>
<circle cx="419.69" cy="111.42" r="1.7" fill="#e24e3b"/>
<circle cx="437.85" cy="125.77" r="1.7" fill="#e14c3a"/>
<circle cx="413.91" cy="113.42" r="1.7" fill="#e14c3a"/>
<circle cx="437.26" cy="113.50" r="1.7" fill="#e14c3a"/>
<circle cx="411.64" cy="114.78" r="1.7" fill="#e14c3a"/>
<circle cx="441.56" cy="121.10" r="1.7" fill="#e04a39"/>
<circle cx="437.29" cy="125.74" r="1.7" fill="#e04a39"/>
<circle cx="410.94" cy="121.51" r="1.7" fill="#e04a39"/>
<circle cx="420.98" cy="126.69" r="1.7" fill="#e04a39"/>
<circle cx="429.74" cy="127.50" r="1.7" fill="#df4838"/>
<circle cx="439.69" cy="123.45" r="1.7" fill="#df4838"/>
<circle cx="420.70" cy="112.24" r="1.7" fill="#df4838"/>
<circle cx="426.28" cy="111.71" r="1.7" fill="#de4535"/>
<circle cx="434.91" cy="126.26" r="1.7" fill="#de4535"/>
<circle cx="431.63" cy="126.80" r="1.7" fill="#dc4334"/>
<circle cx="416.68" cy="124.22" r="1.7" fill="#dc4334"/>
<circle cx="428.12" cy="112.19" r="1.7" fill="#dc4334"/>
<circle cx="439.94" cy="118.52" r="1.7" fill="#da4033"/>
<circle cx="413.69" cy="121.31" r="1.7" fill="#da4033"/>
<circle cx="414.06" cy="116.58" r="1.7" fill="#d93e32"/>
<circle cx="419.73" cy="124.91" r="1.7" fill="#d93e32"/>
<circle cx="439.72" cy="120.13" r="1.7" fill="#d93e32"/>
<circle cx="439.28" cy="118.09" r="1.7" fill="#d93e32"/>
<circle cx="422.03" cy="125.60" r="1.7" fill="#d93e32"/>
<circle cx="436.66" cy="115.54" r="1.7" fill="#d83c30"/>
<circle cx="421.52" cy="113.79" r="1.7" fill="#d83c30"/>
<circle cx="435.70" cy="124.52" r="1.7" fill="#d83c30"/>
<circle cx="428.87" cy="126.00" r="1.7" fill="#d7392f"/>
<circle cx="438.29" cy="118.63" r="1.7" fill="#d5362e"/>
<circle cx="427.15" cy="125.74" r="1.7" fill="#d5362e"/>
<circle cx="417.82" cy="122.62" r="1.7" fill="#d5362e"/>
<circle cx="436.80" cy="116.70" r="1.7" fill="#d5362e"/>
<circle cx="427.62" cy="125.45" r="1.7" fill="#d4342d"/>
<circle cx="434.20" cy="115.99" r="1.7" fill="#d3322b"/>
<circle cx="423.93" cy="124.39" r="1.7" fill="#d3322b"/>
<circle cx="435.79" cy="122.79" r="1.7" fill="#d3322b"/>
<circle cx="436.44" cy="118.58" r="1.7" fill="#d22e2a"/>
<circle cx="429.90" cy="124.68" r="1.7" fill="#d22e2a"/>
<circle cx="428.09" cy="114.96" r="1.7" fill="#d22e2a"/>
<circle cx="421.17" cy="116.35" r="1.7" fill="#d02b29"/>
<circle cx="428.72" cy="115.65" r="1.7" fill="#cf2928"/>
<circle cx="429.93" cy="115.81" r="1.7" fill="#cf2928"/>
<circle cx="422.64" cy="122.62" r="1.7" fill="#cf2928"/>
<circle cx="432.40" cy="123.35" r="1.7" fill="#cf2928"/>
<circle cx="430.89" cy="116.46" r="1.7" fill="#cd2627"/>
<circle cx="427.61" cy="116.07" r="1.7" fill="#cd2627"/>
<circle cx="425.15" cy="116.45" r="1.7" fill="#cd2627"/>
<circle cx="430.30" cy="123.39" r="1.7" fill="#cd2627"/>
<circle cx="423.50" cy="122.35" r="1.7" fill="#cd2627"/>
<circle cx="428.95" cy="116.39" r="1.7" fill="#cd2627"/>
<circle cx="426.67" cy="116.62" r="1.7" fill="#cd2627"/>
<circle cx="423.04" cy="118.40" r="1.7" fill="#cd2627"/>
<circle cx="423.50" cy="118.04" r="1.7" fill="#cd2627"/>
<circle cx="429.03" cy="117.02" r="1.7" fill="#cd2627"/>
<circle cx="426.07" cy="121.59" r="1.7" fill="#cd2627"/>
<circle cx="429.97" cy="121.75" r="1.7" fill="#cd2627"/>
<circle cx="429.73" cy="118.70" r="1.7" fill="#cd2627"/>
</g>
<path d="M277.00,121.00 L279.60,123.70 L283.30,124.10 L287.50,124.30 L291.10,124.30 L294.70,121.30 L298.40,119.50 L302.00,118.10 L305.00,116.50 L307.70,115.30 L311.10,118.90 L313.50,120.50 L317.10,121.90 L320.70,125.00 L323.80,122.90 L326.80,121.30 L330.40,120.10 L333.40,118.90 L335.90,117.09 L339.60,117.50 L343.30,115.70 L345.70,114.51 L348.70,116.90 L351.70,119.60 L355.30,117.50 L360.20,114.51 L365.00,111.90 L368.60,111.10 L372.30,113.29 L375.90,113.90 L378.90,113.29 L382.60,113.90 L385.60,113.29 L389.20,112.09 L392.80,111.50 L395.90,112.09 L401.10,112.80 L404.90,112.80 L408.70,112.20 L412.50,111.30 L416.40,110.90 L419.50,111.50 L422.70,110.50 L426.50,110.00 L429.70,110.90 L432.90,110.00 L436.10,110.50 L439.30,111.80 L442.50,111.30 L445.60,111.80 L449.50,112.80 L453.30,114.30 L455.80,113.80 L459.60,111.50" class="mean"/>
<path d="M278.00,100.50 L283.30,97.90 L287.50,96.89 L291.70,95.70 L295.10,91.90 L299.00,89.70 L303.80,89.40 L307.70,88.70 L311.10,92.10 L313.50,95.70 L317.10,99.31 L320.70,102.40 L322.60,99.99 L325.00,95.70 L328.60,92.70 L332.20,90.30 L335.20,87.30 L337.20,85.60 L341.90,86.80 L346.60,89.20 L351.40,89.20 L356.10,86.80 L360.80,84.50 L365.50,82.10 L371.50,83.30 L376.20,85.60 L380.90,86.30 L386.80,85.60 L392.70,84.90 L398.60,84.50 L404.60,83.30 L410.50,82.60 L416.40,83.30 L422.30,84.00 L427.00,84.50 L432.90,84.50 L436.90,85.10 L441.70,84.60 L446.10,85.90 L448.70,89.90 L453.00,90.30 L455.80,92.39 L458.60,88.50" class="sig"/>
<path d="M276.60,146.20 L280.10,149.39 L284.30,151.29 L289.00,152.51 L293.70,152.70 L296.70,149.00 L300.20,147.10 L304.10,145.90 L307.00,142.30 L310.90,144.70 L315.00,145.40 L319.70,146.20 L323.90,148.00 L328.00,149.39 L332.10,149.00 L335.70,146.20 L337.20,145.80 L341.90,146.29 L346.60,147.49 L351.40,148.60 L356.10,146.29 L360.80,145.10 L365.50,142.70 L370.30,141.50 L375.00,140.40 L379.70,140.40 L385.60,141.11 L391.60,141.50 L396.30,139.70 L401.00,139.21 L405.70,140.40 L410.50,142.00 L415.20,141.11 L419.90,139.70 L424.70,137.99 L430.60,137.99 L436.50,137.31 L442.40,136.79 L448.30,136.79 L454.20,136.30 L458.90,135.60" class="sig"/>
<rect x="276.3" y="22.7" width="196.7" height="190.0" class="spine"/>
<line x1="276.30" y1="212.7" x2="276.30" y2="216.2" class="tick"/>
<line x1="282.35" y1="212.7" x2="282.35" y2="214.7" class="tick"/>
<line x1="288.40" y1="212.7" x2="288.40" y2="214.7" class="tick"/>
<line x1="294.46" y1="212.7" x2="294.46" y2="214.7" class="tick"/>
<line x1="300.51" y1="212.7" x2="300.51" y2="214.7" class="tick"/>
<line x1="306.56" y1="212.7" x2="306.56" y2="216.2" class="tick"/>
<line x1="312.61" y1="212.7" x2="312.61" y2="214.7" class="tick"/>
<line x1="318.67" y1="212.7" x2="318.67" y2="214.7" class="tick"/>
<line x1="324.72" y1="212.7" x2="324.72" y2="214.7" class="tick"/>
<line x1="330.77" y1="212.7" x2="330.77" y2="214.7" class="tick"/>
<line x1="336.82" y1="212.7" x2="336.82" y2="216.2" class="tick"/>
<line x1="342.88" y1="212.7" x2="342.88" y2="214.7" class="tick"/>
<line x1="348.93" y1="212.7" x2="348.93" y2="214.7" class="tick"/>
<line x1="354.98" y1="212.7" x2="354.98" y2="214.7" class="tick"/>
<line x1="361.03" y1="212.7" x2="361.03" y2="214.7" class="tick"/>
<line x1="367.08" y1="212.7" x2="367.08" y2="216.2" class="tick"/>
<line x1="373.14" y1="212.7" x2="373.14" y2="214.7" class="tick"/>
<line x1="379.19" y1="212.7" x2="379.19" y2="214.7" class="tick"/>
<line x1="385.24" y1="212.7" x2="385.24" y2="214.7" class="tick"/>
<line x1="391.29" y1="212.7" x2="391.29" y2="214.7" class="tick"/>
<line x1="397.35" y1="212.7" x2="397.35" y2="216.2" class="tick"/>
<line x1="403.40" y1="212.7" x2="403.40" y2="214.7" class="tick"/>
<line x1="409.45" y1="212.7" x2="409.45" y2="214.7" class="tick"/>
<line x1="415.50" y1="212.7" x2="415.50" y2="214.7" class="tick"/>
<line x1="421.56" y1="212.7" x2="421.56" y2="214.7" class="tick"/>
<line x1="427.61" y1="212.7" x2="427.61" y2="216.2" class="tick"/>
<line x1="433.66" y1="212.7" x2="433.66" y2="214.7" class="tick"/>
<line x1="439.71" y1="212.7" x2="439.71" y2="214.7" class="tick"/>
<line x1="445.76" y1="212.7" x2="445.76" y2="214.7" class="tick"/>
<line x1="451.82" y1="212.7" x2="451.82" y2="214.7" class="tick"/>
<line x1="457.87" y1="212.7" x2="457.87" y2="216.2" class="tick"/>
<line x1="463.92" y1="212.7" x2="463.92" y2="214.7" class="tick"/>
<line x1="469.97" y1="212.7" x2="469.97" y2="214.7" class="tick"/>
<line x1="272.8" y1="212.70" x2="276.3" y2="212.70" class="tick"/>
<line x1="274.3" y1="200.82" x2="276.3" y2="200.82" class="tick"/>
<line x1="274.3" y1="188.95" x2="276.3" y2="188.95" class="tick"/>
<line x1="274.3" y1="177.07" x2="276.3" y2="177.07" class="tick"/>
<line x1="272.8" y1="165.20" x2="276.3" y2="165.20" class="tick"/>
<line x1="274.3" y1="153.32" x2="276.3" y2="153.32" class="tick"/>
<line x1="274.3" y1="141.45" x2="276.3" y2="141.45" class="tick"/>
<line x1="274.3" y1="129.57" x2="276.3" y2="129.57" class="tick"/>
<line x1="272.8" y1="117.70" x2="276.3" y2="117.70" class="tick"/>
<line x1="274.3" y1="105.82" x2="276.3" y2="105.82" class="tick"/>
<line x1="274.3" y1="93.95" x2="276.3" y2="93.95" class="tick"/>
<line x1="274.3" y1="82.07" x2="276.3" y2="82.07" class="tick"/>
<line x1="272.8" y1="70.20" x2="276.3" y2="70.20" class="tick"/>
<line x1="274.3" y1="58.32" x2="276.3" y2="58.32" class="tick"/>
<line x1="274.3" y1="46.45" x2="276.3" y2="46.45" class="tick"/>
<line x1="274.3" y1="34.57" x2="276.3" y2="34.57" class="tick"/>
<line x1="272.8" y1="22.70" x2="276.3" y2="22.70" class="tick"/>
<text x="276.30" y="228.0" class="tl" text-anchor="middle">0</text>
<text x="306.56" y="228.0" class="tl" text-anchor="middle">10</text>
<text x="336.82" y="228.0" class="tl" text-anchor="middle">20</text>
<text x="367.08" y="228.0" class="tl" text-anchor="middle">30</text>
<text x="397.35" y="228.0" class="tl" text-anchor="middle">40</text>
<text x="427.61" y="228.0" class="tl" text-anchor="middle">50</text>
<text x="457.87" y="228.0" class="tl" text-anchor="middle">60</text>
<text x="269.80" y="27.20" class="tl" text-anchor="end">8</text>
<text x="269.80" y="74.70" class="tl" text-anchor="end">4</text>
<text x="269.80" y="122.20" class="tl" text-anchor="end">0</text>
<text x="269.80" y="169.70" class="tl" text-anchor="end">−4</text>
<text x="269.80" y="217.20" class="tl" text-anchor="end">−8</text>
<text x="374.65" y="242.4" class="al" text-anchor="middle">VZA (degree)</text>
<text transform="translate(251.10,117.70) rotate(-90)" class="yl" text-anchor="middle">ΔLST (K)</text>
<text x="374.65" y="17.5" class="ti" text-anchor="middle">(b) After TRD Correction</text>
<rect x="394.3" y="27.4" width="75" height="27.8" class="leg"/>
<path d="M398.3,34.3 h17.8" class="lmean"/>
<path d="M398.5,46.599999999999994 h17" class="lsig"/>
<text x="423.3" y="37.4" class="lg">mean diff.</text>
<text x="423.3" y="49.7" class="lg">+/− sigma</text>
<defs><linearGradient id="cb" x1="0" y1="0" x2="0" y2="1"><stop offset="0.0000" stop-color="#bb0025"/><stop offset="0.0312" stop-color="#c61521"/><stop offset="0.0625" stop-color="#d22f2a"/><stop offset="0.0938" stop-color="#dc4334"/><stop offset="0.1250" stop-color="#e6553f"/><stop offset="0.1562" stop-color="#ee674b"/><stop offset="0.1875" stop-color="#f47757"/><stop offset="0.2188" stop-color="#fa8664"/><stop offset="0.2500" stop-color="#fe9572"/><stop offset="0.2812" stop-color="#ffa27f"/><stop offset="0.3125" stop-color="#ffae8d"/><stop offset="0.3438" stop-color="#ffba9c"/><stop offset="0.3750" stop-color="#fec6ab"/><stop offset="0.4062" stop-color="#fbd0ba"/><stop offset="0.4375" stop-color="#f5d8c8"/><stop offset="0.4688" stop-color="#efdfd7"/><stop offset="0.5000" stop-color="#e6e5e5"/><stop offset="0.5312" stop-color="#dce3ee"/><stop offset="0.5625" stop-color="#d1dff7"/><stop offset="0.5938" stop-color="#c5dafd"/><stop offset="0.6250" stop-color="#b7d1ff"/><stop offset="0.6562" stop-color="#a8c6ff"/><stop offset="0.6875" stop-color="#9bbcff"/><stop offset="0.7188" stop-color="#8eb3ff"/><stop offset="0.7500" stop-color="#83a9ff"/><stop offset="0.7812" stop-color="#789fff"/><stop offset="0.8125" stop-color="#6e96ff"/><stop offset="0.8438" stop-color="#638afb"/><stop offset="0.8750" stop-color="#587cf3"/><stop offset="0.9062" stop-color="#4d6fea"/><stop offset="0.9375" stop-color="#4260e0"/><stop offset="0.9688" stop-color="#3852d5"/><stop offset="1.0000" stop-color="#2f43c8"/></linearGradient></defs>
<rect x="484.0" y="22.7" width="10.0" height="190.0" fill="url(#cb)"/>
<rect x="484.0" y="22.7" width="10.0" height="190.0" class="spine"/>
<line x1="494.0" y1="212.70" x2="497.0" y2="212.70" class="tick"/>
<line x1="494.0" y1="203.20" x2="495.8" y2="203.20" class="tick"/>
<line x1="494.0" y1="193.70" x2="495.8" y2="193.70" class="tick"/>
<line x1="494.0" y1="184.20" x2="495.8" y2="184.20" class="tick"/>
<line x1="494.0" y1="174.70" x2="495.8" y2="174.70" class="tick"/>
<line x1="494.0" y1="165.20" x2="497.0" y2="165.20" class="tick"/>
<line x1="494.0" y1="155.70" x2="495.8" y2="155.70" class="tick"/>
<line x1="494.0" y1="146.20" x2="495.8" y2="146.20" class="tick"/>
<line x1="494.0" y1="136.70" x2="495.8" y2="136.70" class="tick"/>
<line x1="494.0" y1="127.20" x2="495.8" y2="127.20" class="tick"/>
<line x1="494.0" y1="117.70" x2="497.0" y2="117.70" class="tick"/>
<line x1="494.0" y1="108.20" x2="495.8" y2="108.20" class="tick"/>
<line x1="494.0" y1="98.70" x2="495.8" y2="98.70" class="tick"/>
<line x1="494.0" y1="89.20" x2="495.8" y2="89.20" class="tick"/>
<line x1="494.0" y1="79.70" x2="495.8" y2="79.70" class="tick"/>
<line x1="494.0" y1="70.20" x2="497.0" y2="70.20" class="tick"/>
<line x1="494.0" y1="60.70" x2="495.8" y2="60.70" class="tick"/>
<line x1="494.0" y1="51.20" x2="495.8" y2="51.20" class="tick"/>
<line x1="494.0" y1="41.70" x2="495.8" y2="41.70" class="tick"/>
<line x1="494.0" y1="32.20" x2="495.8" y2="32.20" class="tick"/>
<line x1="494.0" y1="22.70" x2="497.0" y2="22.70" class="tick"/>
<text x="499.5" y="217.20" class="tl">0.000</text>
<text x="499.5" y="169.70" class="tl">0.001</text>
<text x="499.5" y="122.20" class="tl">0.002</text>
<text x="499.5" y="74.70" class="tl">0.003</text>
<text x="499.5" y="27.20" class="tl">0.004</text>
<text transform="translate(543.3,119.00) rotate(-90)" class="dl" text-anchor="middle">Density</text>
</svg></body></html>
